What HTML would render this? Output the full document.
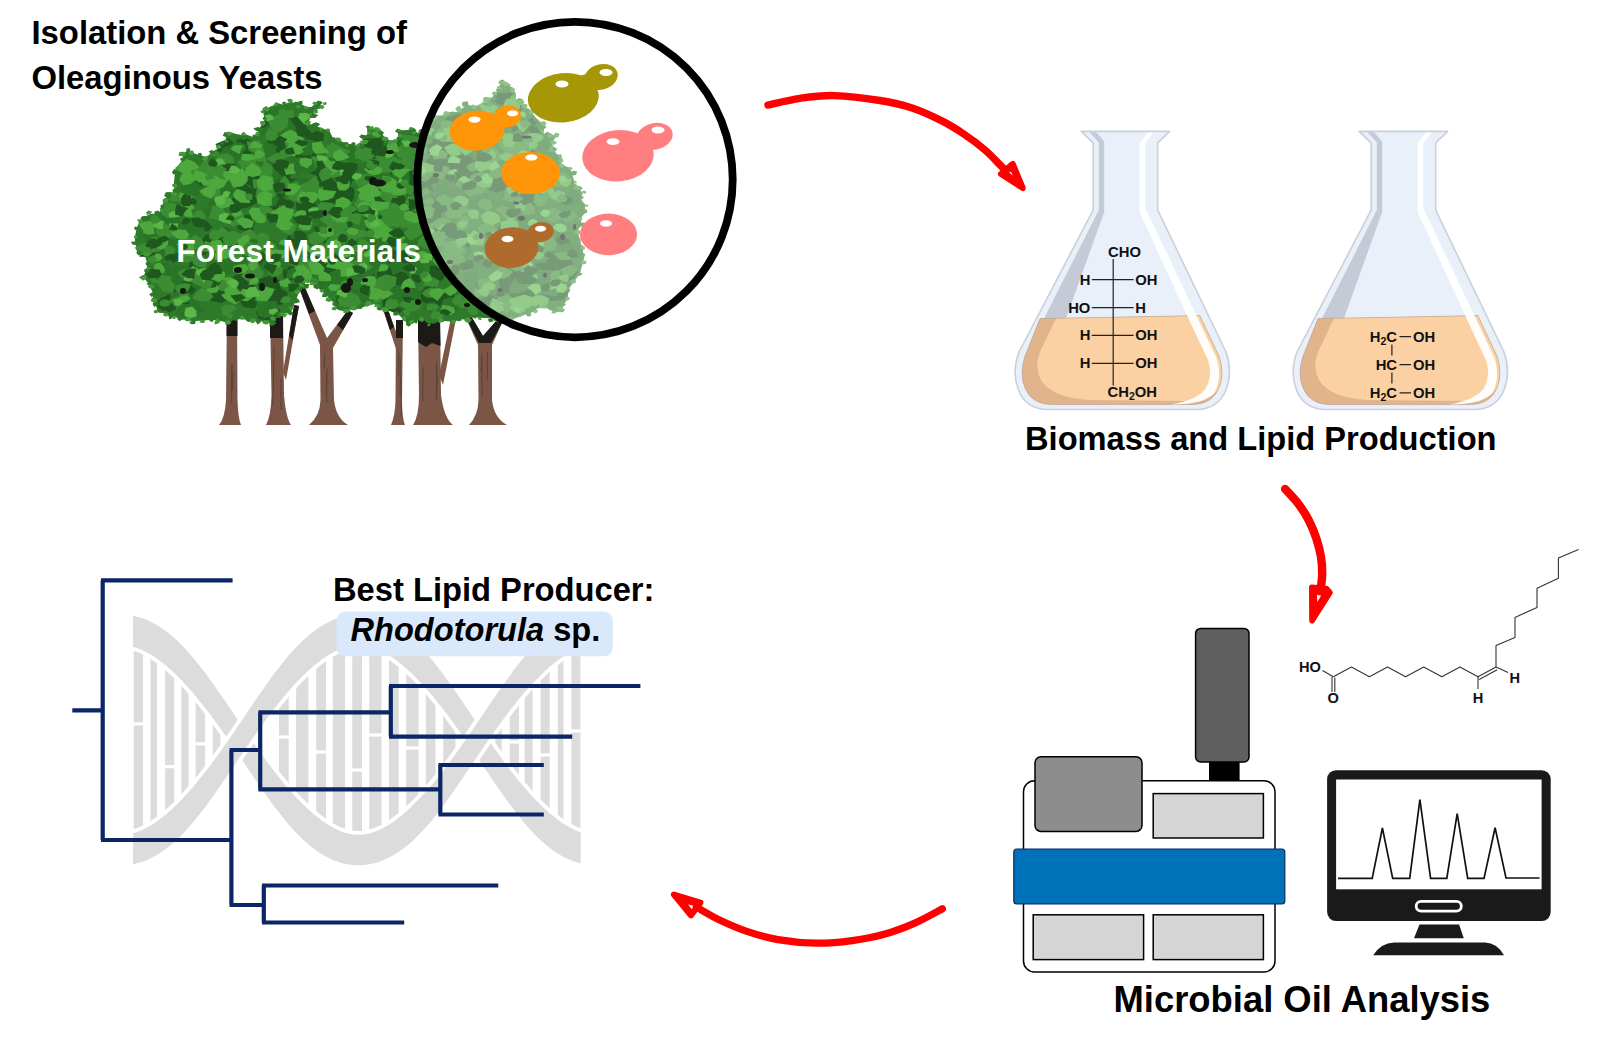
<!DOCTYPE html>
<html><head><meta charset="utf-8"><title>Graphical abstract</title>
<style>html,body{margin:0;padding:0;background:#fff}svg{display:block}</style></head>
<body>
<svg width="1602" height="1050" viewBox="0 0 1602 1050" font-family="'Liberation Sans', Arial, sans-serif">
<rect width="1602" height="1050" fill="#fff"/>
<clipPath id="dnaclip"><rect x="133" y="600" width="447.7" height="280"/></clipPath>
<g clip-path="url(#dnaclip)">
<g fill="#dcdcdc"><rect x="133.7" y="632.7" width="9.2" height="214.6"/><rect x="150.5" y="639.9" width="6.5" height="200.2"/><rect x="165.1" y="651.7" width="9.2" height="176.6"/><rect x="181.3" y="666.7" width="7.3" height="146.6"/><rect x="195.6" y="684.8" width="9.5" height="110.4"/><rect x="212.8" y="706.4" width="7.6" height="67.2"/><rect x="279" y="679.5" width="9.7" height="120.9"/><rect x="296.1" y="659.2" width="12.3" height="161.5"/><rect x="316.3" y="643.2" width="9.7" height="193.7"/><rect x="332.8" y="633.7" width="12.3" height="212.6"/><rect x="352.3" y="630" width="9.7" height="220"/><rect x="369.2" y="632.7" width="12.3" height="214.5"/><rect x="389" y="641.9" width="9.7" height="196.2"/><rect x="406.2" y="656.9" width="12.3" height="166.2"/><rect x="425.8" y="676.6" width="9.7" height="126.7"/><rect x="443.2" y="700.5" width="12.3" height="79"/><rect x="495.2" y="709.1" width="6.5" height="61.9"/><rect x="509.7" y="687.8" width="9.2" height="104.4"/><rect x="524.6" y="670.5" width="8" height="139"/><rect x="540.6" y="653.6" width="9.1" height="172.7"/><rect x="557.8" y="641.6" width="5.7" height="196.9"/><rect x="571.4" y="633.7" width="9.2" height="212.7"/></g>
<g fill="#fff"><rect x="133.2" y="722.2" width="10.2" height="3.2"/><rect x="164.6" y="765.1" width="10.2" height="3.2"/><rect x="195.1" y="742.2" width="10.5" height="3.2"/><rect x="278.5" y="735.4" width="10.7" height="3.2"/><rect x="315.8" y="750.4" width="10.7" height="3.2"/><rect x="351.8" y="768.4" width="10.7" height="3.2"/><rect x="368.8" y="733.4" width="13.3" height="3.2"/><rect x="405.8" y="746.4" width="13.3" height="3.2"/><rect x="509.2" y="740.4" width="10.2" height="3.2"/><rect x="540.1" y="753.4" width="10.1" height="3.2"/><rect x="570.9" y="729.4" width="10.2" height="3.2"/></g>
<path d="M120.9,614.8 L124.7,614.8 L128.6,615.2 L132.5,615.7 L136.3,616.5 L140,617.5 L143.8,618.8 L147.4,620.2 L151,621.9 L154.5,623.7 L158,625.7 L161.4,627.9 L164.8,630.2 L168.1,632.7 L171.3,635.4 L174.5,638.1 L177.6,641 L180.7,644.1 L183.8,647.2 L186.9,650.5 L189.9,653.9 L192.9,657.4 L195.9,661 L198.8,664.7 L201.8,668.4 L204.7,672.3 L207.6,676.2 L210.5,680.2 L213.5,684.3 L216.4,688.4 L219.3,692.6 L222.2,696.9 L225.1,701.1 L228.1,705.4 L231,709.8 L234,714.2 L236.9,718.5 L239.9,722.9 L242.8,727.3 L245.8,731.7 L248.8,736.1 L251.8,740.4 L254.9,744.8 L257.9,749.1 L260.9,753.3 L264,757.6 L267,761.7 L270.1,765.8 L273.2,769.9 L276.3,773.8 L279.3,777.7 L282.4,781.5 L285.5,785.2 L288.6,788.8 L291.7,792.3 L294.7,795.7 L297.8,799 L300.8,802.1 L303.9,805.1 L306.9,808 L309.9,810.8 L312.8,813.4 L315.8,815.8 L318.7,818.1 L321.5,820.3 L324.4,822.3 L327.1,824.1 L329.9,825.8 L332.5,827.3 L335.1,828.7 L337.7,829.9 L340.2,831 L342.6,831.9 L345,832.7 L347.3,833.3 L349.5,833.8 L351.7,834.2 L353.9,834.5 L356,834.7 L358.1,834.7 L360.3,834.7 L362.4,834.6 L364.5,834.3 L366.7,834 L369,833.5 L371.2,832.9 L373.6,832.1 L376,831.3 L378.5,830.3 L381,829.1 L383.6,827.8 L386.2,826.3 L388.9,824.7 L391.7,822.9 L394.5,820.9 L397.4,818.8 L400.3,816.6 L403.2,814.2 L406.1,811.6 L409.1,808.9 L412.1,806.1 L415.1,803.1 L418.2,800 L421.2,796.8 L424.3,793.4 L427.4,790 L430.5,786.4 L433.5,782.7 L436.6,779 L439.7,775.1 L442.8,771.2 L445.9,767.2 L448.9,763.1 L452,758.9 L455,754.7 L458.1,750.5 L461.1,746.2 L464.2,741.9 L467.2,737.5 L470.2,733.2 L473.2,728.8 L476.1,724.4 L479.1,720 L482.1,715.6 L485,711.2 L488,706.9 L490.9,702.6 L493.8,698.3 L496.7,694 L499.7,689.8 L502.6,685.7 L505.5,681.6 L508.4,677.5 L511.3,673.6 L514.3,669.7 L517.2,665.9 L520.2,662.2 L523.1,658.6 L526.1,655 L529.1,651.6 L532.2,648.3 L535.2,645.1 L538.3,642 L541.5,639.1 L544.6,636.3 L547.9,633.6 L551.1,631 L554.5,628.6 L557.9,626.4 L561.3,624.3 L564.8,622.5 L568.4,620.7 L572,619.2 L575.7,617.9 L579.5,616.8 L583.3,616 L587.1,615.3 L591,614.9 L591.9,614.9 L593.5,645.3 L593,645.3 L590.9,645.5 L588.7,645.8 L586.5,646.2 L584.3,646.7 L582,647.3 L579.6,648.1 L577.2,649 L574.7,650.1 L572.1,651.3 L569.5,652.7 L566.9,654.2 L564.1,655.9 L561.4,657.7 L558.5,659.7 L555.7,661.9 L552.8,664.2 L549.8,666.6 L546.9,669.2 L543.9,672 L540.9,674.9 L537.8,677.9 L534.8,681 L531.7,684.3 L528.7,687.7 L525.6,691.2 L522.5,694.8 L519.4,698.5 L516.3,702.3 L513.3,706.2 L510.2,710.1 L507.1,714.2 L504,718.3 L501,722.4 L497.9,726.7 L494.9,730.9 L491.9,735.2 L488.8,739.6 L485.8,743.9 L482.8,748.3 L479.8,752.7 L476.9,757.1 L473.9,761.5 L471,765.8 L468,770.2 L465.1,774.6 L462.1,778.9 L459.2,783.1 L456.3,787.4 L453.4,791.6 L450.5,795.7 L447.5,799.8 L444.6,803.8 L441.7,807.7 L438.8,811.6 L435.8,815.3 L432.9,819 L429.9,822.6 L426.9,826.1 L423.9,829.5 L420.8,832.8 L417.7,835.9 L414.6,839 L411.5,841.9 L408.3,844.6 L405.1,847.3 L401.8,849.8 L398.4,852.1 L395,854.3 L391.5,856.3 L388,858.1 L384.4,859.8 L380.8,861.2 L377,862.5 L373.3,863.5 L369.5,864.3 L365.6,864.8 L361.7,865.2 L357.9,865.2 L354,865.1 L350.1,864.7 L346.3,864 L342.5,863.2 L338.7,862.1 L335,860.8 L331.4,859.3 L327.8,857.5 L324.3,855.7 L320.9,853.6 L317.5,851.4 L314.1,849 L310.9,846.4 L307.6,843.7 L304.5,840.9 L301.3,838 L298.2,834.9 L295.2,831.7 L292.1,828.4 L289.1,825 L286.1,821.4 L283.2,817.8 L280.2,814.1 L277.3,810.3 L274.3,806.4 L271.4,802.5 L268.5,798.4 L265.6,794.3 L262.7,790.2 L259.7,786 L256.8,781.7 L253.9,777.4 L251,773.1 L248,768.8 L245.1,764.4 L242.1,760 L239.1,755.6 L236.2,751.2 L233.2,746.8 L230.2,742.5 L227.2,738.1 L224.1,733.8 L221.1,729.5 L218,725.3 L215,721.1 L211.9,716.9 L208.9,712.8 L205.8,708.8 L202.7,704.9 L199.6,701 L196.5,697.3 L193.5,693.6 L190.4,690 L187.3,686.6 L184.2,683.2 L181.2,680 L178.1,676.9 L175.1,673.9 L172.1,671.1 L169.1,668.4 L166.2,665.8 L163.3,663.4 L160.4,661.2 L157.5,659.1 L154.7,657.1 L151.9,655.3 L149.2,653.7 L146.6,652.2 L144,650.9 L141.5,649.7 L139,648.7 L136.6,647.9 L134.2,647.1 L132,646.5 L129.7,646 L127.5,645.7 L125.4,645.4 L123.3,645.3 L121.1,645.3Z" fill="#fff" stroke="#fff" stroke-width="7.6" stroke-linejoin="round"/><path d="M120.9,614.8 L124.7,614.8 L128.6,615.2 L132.5,615.7 L136.3,616.5 L140,617.5 L143.8,618.8 L147.4,620.2 L151,621.9 L154.5,623.7 L158,625.7 L161.4,627.9 L164.8,630.2 L168.1,632.7 L171.3,635.4 L174.5,638.1 L177.6,641 L180.7,644.1 L183.8,647.2 L186.9,650.5 L189.9,653.9 L192.9,657.4 L195.9,661 L198.8,664.7 L201.8,668.4 L204.7,672.3 L207.6,676.2 L210.5,680.2 L213.5,684.3 L216.4,688.4 L219.3,692.6 L222.2,696.9 L225.1,701.1 L228.1,705.4 L231,709.8 L234,714.2 L236.9,718.5 L239.9,722.9 L242.8,727.3 L245.8,731.7 L248.8,736.1 L251.8,740.4 L254.9,744.8 L257.9,749.1 L260.9,753.3 L264,757.6 L267,761.7 L270.1,765.8 L273.2,769.9 L276.3,773.8 L279.3,777.7 L282.4,781.5 L285.5,785.2 L288.6,788.8 L291.7,792.3 L294.7,795.7 L297.8,799 L300.8,802.1 L303.9,805.1 L306.9,808 L309.9,810.8 L312.8,813.4 L315.8,815.8 L318.7,818.1 L321.5,820.3 L324.4,822.3 L327.1,824.1 L329.9,825.8 L332.5,827.3 L335.1,828.7 L337.7,829.9 L340.2,831 L342.6,831.9 L345,832.7 L347.3,833.3 L349.5,833.8 L351.7,834.2 L353.9,834.5 L356,834.7 L358.1,834.7 L360.3,834.7 L362.4,834.6 L364.5,834.3 L366.7,834 L369,833.5 L371.2,832.9 L373.6,832.1 L376,831.3 L378.5,830.3 L381,829.1 L383.6,827.8 L386.2,826.3 L388.9,824.7 L391.7,822.9 L394.5,820.9 L397.4,818.8 L400.3,816.6 L403.2,814.2 L406.1,811.6 L409.1,808.9 L412.1,806.1 L415.1,803.1 L418.2,800 L421.2,796.8 L424.3,793.4 L427.4,790 L430.5,786.4 L433.5,782.7 L436.6,779 L439.7,775.1 L442.8,771.2 L445.9,767.2 L448.9,763.1 L452,758.9 L455,754.7 L458.1,750.5 L461.1,746.2 L464.2,741.9 L467.2,737.5 L470.2,733.2 L473.2,728.8 L476.1,724.4 L479.1,720 L482.1,715.6 L485,711.2 L488,706.9 L490.9,702.6 L493.8,698.3 L496.7,694 L499.7,689.8 L502.6,685.7 L505.5,681.6 L508.4,677.5 L511.3,673.6 L514.3,669.7 L517.2,665.9 L520.2,662.2 L523.1,658.6 L526.1,655 L529.1,651.6 L532.2,648.3 L535.2,645.1 L538.3,642 L541.5,639.1 L544.6,636.3 L547.9,633.6 L551.1,631 L554.5,628.6 L557.9,626.4 L561.3,624.3 L564.8,622.5 L568.4,620.7 L572,619.2 L575.7,617.9 L579.5,616.8 L583.3,616 L587.1,615.3 L591,614.9 L591.9,614.9 L593.5,645.3 L593,645.3 L590.9,645.5 L588.7,645.8 L586.5,646.2 L584.3,646.7 L582,647.3 L579.6,648.1 L577.2,649 L574.7,650.1 L572.1,651.3 L569.5,652.7 L566.9,654.2 L564.1,655.9 L561.4,657.7 L558.5,659.7 L555.7,661.9 L552.8,664.2 L549.8,666.6 L546.9,669.2 L543.9,672 L540.9,674.9 L537.8,677.9 L534.8,681 L531.7,684.3 L528.7,687.7 L525.6,691.2 L522.5,694.8 L519.4,698.5 L516.3,702.3 L513.3,706.2 L510.2,710.1 L507.1,714.2 L504,718.3 L501,722.4 L497.9,726.7 L494.9,730.9 L491.9,735.2 L488.8,739.6 L485.8,743.9 L482.8,748.3 L479.8,752.7 L476.9,757.1 L473.9,761.5 L471,765.8 L468,770.2 L465.1,774.6 L462.1,778.9 L459.2,783.1 L456.3,787.4 L453.4,791.6 L450.5,795.7 L447.5,799.8 L444.6,803.8 L441.7,807.7 L438.8,811.6 L435.8,815.3 L432.9,819 L429.9,822.6 L426.9,826.1 L423.9,829.5 L420.8,832.8 L417.7,835.9 L414.6,839 L411.5,841.9 L408.3,844.6 L405.1,847.3 L401.8,849.8 L398.4,852.1 L395,854.3 L391.5,856.3 L388,858.1 L384.4,859.8 L380.8,861.2 L377,862.5 L373.3,863.5 L369.5,864.3 L365.6,864.8 L361.7,865.2 L357.9,865.2 L354,865.1 L350.1,864.7 L346.3,864 L342.5,863.2 L338.7,862.1 L335,860.8 L331.4,859.3 L327.8,857.5 L324.3,855.7 L320.9,853.6 L317.5,851.4 L314.1,849 L310.9,846.4 L307.6,843.7 L304.5,840.9 L301.3,838 L298.2,834.9 L295.2,831.7 L292.1,828.4 L289.1,825 L286.1,821.4 L283.2,817.8 L280.2,814.1 L277.3,810.3 L274.3,806.4 L271.4,802.5 L268.5,798.4 L265.6,794.3 L262.7,790.2 L259.7,786 L256.8,781.7 L253.9,777.4 L251,773.1 L248,768.8 L245.1,764.4 L242.1,760 L239.1,755.6 L236.2,751.2 L233.2,746.8 L230.2,742.5 L227.2,738.1 L224.1,733.8 L221.1,729.5 L218,725.3 L215,721.1 L211.9,716.9 L208.9,712.8 L205.8,708.8 L202.7,704.9 L199.6,701 L196.5,697.3 L193.5,693.6 L190.4,690 L187.3,686.6 L184.2,683.2 L181.2,680 L178.1,676.9 L175.1,673.9 L172.1,671.1 L169.1,668.4 L166.2,665.8 L163.3,663.4 L160.4,661.2 L157.5,659.1 L154.7,657.1 L151.9,655.3 L149.2,653.7 L146.6,652.2 L144,650.9 L141.5,649.7 L139,648.7 L136.6,647.9 L134.2,647.1 L132,646.5 L129.7,646 L127.5,645.7 L125.4,645.4 L123.3,645.3 L121.1,645.3Z" fill="#dcdcdc"/>
<path d="M121.1,834.7 L123.3,834.7 L125.4,834.6 L127.5,834.3 L129.7,834 L132,833.5 L134.2,832.9 L136.6,832.1 L139,831.3 L141.5,830.3 L144,829.1 L146.6,827.8 L149.2,826.3 L151.9,824.7 L154.7,822.9 L157.5,820.9 L160.4,818.8 L163.3,816.6 L166.2,814.2 L169.1,811.6 L172.1,808.9 L175.1,806.1 L178.1,803.1 L181.2,800 L184.2,796.8 L187.3,793.4 L190.4,790 L193.5,786.4 L196.5,782.7 L199.6,779 L202.7,775.1 L205.8,771.2 L208.9,767.2 L211.9,763.1 L215,758.9 L218,754.7 L221.1,750.5 L224.1,746.2 L227.2,741.9 L230.2,737.5 L233.2,733.2 L236.2,728.8 L239.1,724.4 L242.1,720 L245.1,715.6 L248,711.2 L251,706.9 L253.9,702.6 L256.8,698.3 L259.7,694 L262.7,689.8 L265.6,685.7 L268.5,681.6 L271.4,677.5 L274.3,673.6 L277.3,669.7 L280.2,665.9 L283.2,662.2 L286.1,658.6 L289.1,655 L292.1,651.6 L295.2,648.3 L298.2,645.1 L301.3,642 L304.5,639.1 L307.6,636.3 L310.9,633.6 L314.1,631 L317.5,628.6 L320.9,626.4 L324.3,624.3 L327.8,622.5 L331.4,620.7 L335,619.2 L338.7,617.9 L342.5,616.8 L346.3,616 L350.1,615.3 L354,614.9 L357.9,614.8 L361.7,614.8 L365.6,615.2 L369.5,615.7 L373.3,616.5 L377,617.5 L380.8,618.8 L384.4,620.2 L388,621.9 L391.5,623.7 L395,625.7 L398.4,627.9 L401.8,630.2 L405.1,632.7 L408.3,635.4 L411.5,638.1 L414.6,641 L417.7,644.1 L420.8,647.2 L423.9,650.5 L426.9,653.9 L429.9,657.4 L432.9,661 L435.8,664.7 L438.8,668.4 L441.7,672.3 L444.6,676.2 L447.5,680.2 L450.5,684.3 L453.4,688.4 L456.3,692.6 L459.2,696.9 L462.1,701.1 L465.1,705.4 L468,709.8 L471,714.2 L473.9,718.5 L476.9,722.9 L479.8,727.3 L482.8,731.7 L485.8,736.1 L488.8,740.4 L491.9,744.8 L494.9,749.1 L497.9,753.3 L501,757.6 L504,761.7 L507.1,765.8 L510.2,769.9 L513.3,773.8 L516.3,777.7 L519.4,781.5 L522.5,785.2 L525.6,788.8 L528.7,792.3 L531.7,795.7 L534.8,799 L537.8,802.1 L540.9,805.1 L543.9,808 L546.9,810.8 L549.8,813.4 L552.8,815.8 L555.7,818.1 L558.5,820.3 L561.4,822.3 L564.1,824.1 L566.9,825.8 L569.5,827.3 L572.1,828.7 L574.7,829.9 L577.2,831 L579.6,831.9 L582,832.7 L584.3,833.3 L586.5,833.8 L588.7,834.2 L590.9,834.5 L593,834.7 L593.5,834.7 L591.9,865.1 L591,865.1 L587.1,864.7 L583.3,864 L579.5,863.2 L575.7,862.1 L572,860.8 L568.4,859.3 L564.8,857.5 L561.3,855.7 L557.9,853.6 L554.5,851.4 L551.1,849 L547.9,846.4 L544.6,843.7 L541.5,840.9 L538.3,838 L535.2,834.9 L532.2,831.7 L529.1,828.4 L526.1,825 L523.1,821.4 L520.2,817.8 L517.2,814.1 L514.3,810.3 L511.3,806.4 L508.4,802.5 L505.5,798.4 L502.6,794.3 L499.7,790.2 L496.7,786 L493.8,781.7 L490.9,777.4 L488,773.1 L485,768.8 L482.1,764.4 L479.1,760 L476.1,755.6 L473.2,751.2 L470.2,746.8 L467.2,742.5 L464.2,738.1 L461.1,733.8 L458.1,729.5 L455,725.3 L452,721.1 L448.9,716.9 L445.9,712.8 L442.8,708.8 L439.7,704.9 L436.6,701 L433.5,697.3 L430.5,693.6 L427.4,690 L424.3,686.6 L421.2,683.2 L418.2,680 L415.1,676.9 L412.1,673.9 L409.1,671.1 L406.1,668.4 L403.2,665.8 L400.3,663.4 L397.4,661.2 L394.5,659.1 L391.7,657.1 L388.9,655.3 L386.2,653.7 L383.6,652.2 L381,650.9 L378.5,649.7 L376,648.7 L373.6,647.9 L371.2,647.1 L369,646.5 L366.7,646 L364.5,645.7 L362.4,645.4 L360.3,645.3 L358.1,645.3 L356,645.3 L353.9,645.5 L351.7,645.8 L349.5,646.2 L347.3,646.7 L345,647.3 L342.6,648.1 L340.2,649 L337.7,650.1 L335.1,651.3 L332.5,652.7 L329.9,654.2 L327.1,655.9 L324.4,657.7 L321.5,659.7 L318.7,661.9 L315.8,664.2 L312.8,666.6 L309.9,669.2 L306.9,672 L303.9,674.9 L300.8,677.9 L297.8,681 L294.7,684.3 L291.7,687.7 L288.6,691.2 L285.5,694.8 L282.4,698.5 L279.3,702.3 L276.3,706.2 L273.2,710.1 L270.1,714.2 L267,718.3 L264,722.4 L260.9,726.7 L257.9,730.9 L254.9,735.2 L251.8,739.6 L248.8,743.9 L245.8,748.3 L242.8,752.7 L239.9,757.1 L236.9,761.5 L234,765.8 L231,770.2 L228.1,774.6 L225.1,778.9 L222.2,783.1 L219.3,787.4 L216.4,791.6 L213.5,795.7 L210.5,799.8 L207.6,803.8 L204.7,807.7 L201.8,811.6 L198.8,815.3 L195.9,819 L192.9,822.6 L189.9,826.1 L186.9,829.5 L183.8,832.8 L180.7,835.9 L177.6,839 L174.5,841.9 L171.3,844.6 L168.1,847.3 L164.8,849.8 L161.4,852.1 L158,854.3 L154.5,856.3 L151,858.1 L147.4,859.8 L143.8,861.2 L140,862.5 L136.3,863.5 L132.5,864.3 L128.6,864.8 L124.7,865.2 L120.9,865.2Z" fill="#fff" stroke="#fff" stroke-width="7.6" stroke-linejoin="round"/><path d="M121.1,834.7 L123.3,834.7 L125.4,834.6 L127.5,834.3 L129.7,834 L132,833.5 L134.2,832.9 L136.6,832.1 L139,831.3 L141.5,830.3 L144,829.1 L146.6,827.8 L149.2,826.3 L151.9,824.7 L154.7,822.9 L157.5,820.9 L160.4,818.8 L163.3,816.6 L166.2,814.2 L169.1,811.6 L172.1,808.9 L175.1,806.1 L178.1,803.1 L181.2,800 L184.2,796.8 L187.3,793.4 L190.4,790 L193.5,786.4 L196.5,782.7 L199.6,779 L202.7,775.1 L205.8,771.2 L208.9,767.2 L211.9,763.1 L215,758.9 L218,754.7 L221.1,750.5 L224.1,746.2 L227.2,741.9 L230.2,737.5 L233.2,733.2 L236.2,728.8 L239.1,724.4 L242.1,720 L245.1,715.6 L248,711.2 L251,706.9 L253.9,702.6 L256.8,698.3 L259.7,694 L262.7,689.8 L265.6,685.7 L268.5,681.6 L271.4,677.5 L274.3,673.6 L277.3,669.7 L280.2,665.9 L283.2,662.2 L286.1,658.6 L289.1,655 L292.1,651.6 L295.2,648.3 L298.2,645.1 L301.3,642 L304.5,639.1 L307.6,636.3 L310.9,633.6 L314.1,631 L317.5,628.6 L320.9,626.4 L324.3,624.3 L327.8,622.5 L331.4,620.7 L335,619.2 L338.7,617.9 L342.5,616.8 L346.3,616 L350.1,615.3 L354,614.9 L357.9,614.8 L361.7,614.8 L365.6,615.2 L369.5,615.7 L373.3,616.5 L377,617.5 L380.8,618.8 L384.4,620.2 L388,621.9 L391.5,623.7 L395,625.7 L398.4,627.9 L401.8,630.2 L405.1,632.7 L408.3,635.4 L411.5,638.1 L414.6,641 L417.7,644.1 L420.8,647.2 L423.9,650.5 L426.9,653.9 L429.9,657.4 L432.9,661 L435.8,664.7 L438.8,668.4 L441.7,672.3 L444.6,676.2 L447.5,680.2 L450.5,684.3 L453.4,688.4 L456.3,692.6 L459.2,696.9 L462.1,701.1 L465.1,705.4 L468,709.8 L471,714.2 L473.9,718.5 L476.9,722.9 L479.8,727.3 L482.8,731.7 L485.8,736.1 L488.8,740.4 L491.9,744.8 L494.9,749.1 L497.9,753.3 L501,757.6 L504,761.7 L507.1,765.8 L510.2,769.9 L513.3,773.8 L516.3,777.7 L519.4,781.5 L522.5,785.2 L525.6,788.8 L528.7,792.3 L531.7,795.7 L534.8,799 L537.8,802.1 L540.9,805.1 L543.9,808 L546.9,810.8 L549.8,813.4 L552.8,815.8 L555.7,818.1 L558.5,820.3 L561.4,822.3 L564.1,824.1 L566.9,825.8 L569.5,827.3 L572.1,828.7 L574.7,829.9 L577.2,831 L579.6,831.9 L582,832.7 L584.3,833.3 L586.5,833.8 L588.7,834.2 L590.9,834.5 L593,834.7 L593.5,834.7 L591.9,865.1 L591,865.1 L587.1,864.7 L583.3,864 L579.5,863.2 L575.7,862.1 L572,860.8 L568.4,859.3 L564.8,857.5 L561.3,855.7 L557.9,853.6 L554.5,851.4 L551.1,849 L547.9,846.4 L544.6,843.7 L541.5,840.9 L538.3,838 L535.2,834.9 L532.2,831.7 L529.1,828.4 L526.1,825 L523.1,821.4 L520.2,817.8 L517.2,814.1 L514.3,810.3 L511.3,806.4 L508.4,802.5 L505.5,798.4 L502.6,794.3 L499.7,790.2 L496.7,786 L493.8,781.7 L490.9,777.4 L488,773.1 L485,768.8 L482.1,764.4 L479.1,760 L476.1,755.6 L473.2,751.2 L470.2,746.8 L467.2,742.5 L464.2,738.1 L461.1,733.8 L458.1,729.5 L455,725.3 L452,721.1 L448.9,716.9 L445.9,712.8 L442.8,708.8 L439.7,704.9 L436.6,701 L433.5,697.3 L430.5,693.6 L427.4,690 L424.3,686.6 L421.2,683.2 L418.2,680 L415.1,676.9 L412.1,673.9 L409.1,671.1 L406.1,668.4 L403.2,665.8 L400.3,663.4 L397.4,661.2 L394.5,659.1 L391.7,657.1 L388.9,655.3 L386.2,653.7 L383.6,652.2 L381,650.9 L378.5,649.7 L376,648.7 L373.6,647.9 L371.2,647.1 L369,646.5 L366.7,646 L364.5,645.7 L362.4,645.4 L360.3,645.3 L358.1,645.3 L356,645.3 L353.9,645.5 L351.7,645.8 L349.5,646.2 L347.3,646.7 L345,647.3 L342.6,648.1 L340.2,649 L337.7,650.1 L335.1,651.3 L332.5,652.7 L329.9,654.2 L327.1,655.9 L324.4,657.7 L321.5,659.7 L318.7,661.9 L315.8,664.2 L312.8,666.6 L309.9,669.2 L306.9,672 L303.9,674.9 L300.8,677.9 L297.8,681 L294.7,684.3 L291.7,687.7 L288.6,691.2 L285.5,694.8 L282.4,698.5 L279.3,702.3 L276.3,706.2 L273.2,710.1 L270.1,714.2 L267,718.3 L264,722.4 L260.9,726.7 L257.9,730.9 L254.9,735.2 L251.8,739.6 L248.8,743.9 L245.8,748.3 L242.8,752.7 L239.9,757.1 L236.9,761.5 L234,765.8 L231,770.2 L228.1,774.6 L225.1,778.9 L222.2,783.1 L219.3,787.4 L216.4,791.6 L213.5,795.7 L210.5,799.8 L207.6,803.8 L204.7,807.7 L201.8,811.6 L198.8,815.3 L195.9,819 L192.9,822.6 L189.9,826.1 L186.9,829.5 L183.8,832.8 L180.7,835.9 L177.6,839 L174.5,841.9 L171.3,844.6 L168.1,847.3 L164.8,849.8 L161.4,852.1 L158,854.3 L154.5,856.3 L151,858.1 L147.4,859.8 L143.8,861.2 L140,862.5 L136.3,863.5 L132.5,864.3 L128.6,864.8 L124.7,865.2 L120.9,865.2Z" fill="#dcdcdc"/>
<path d="M426.4,791.1 L429.4,787.6 L432.5,784 L435.6,780.2 L438.7,776.4 L441.8,772.5 L444.8,768.5 L447.9,764.5 L451,760.3 L454,756.2 L457.1,751.9 L460.1,747.6 L463.1,743.3 L466.2,739 L469.2,734.6 L472.2,730.2 L475.1,725.9 L478.1,721.5 L481.1,717.1 L484,712.7 L487,708.3 L489.9,704 L492.8,699.7 L495.8,695.4 L498.7,691.2 L501.6,687 L504.5,682.9 L507.4,678.9 L510.4,674.9 L527.6,688.9 L524.6,692.4 L521.5,696 L518.4,699.8 L515.3,703.6 L512.2,707.5 L509.2,711.5 L506.1,715.5 L503,719.7 L500,723.8 L496.9,728.1 L493.9,732.4 L490.9,736.7 L487.8,741 L484.8,745.4 L481.8,749.8 L478.9,754.1 L475.9,758.5 L472.9,762.9 L470,767.3 L467,771.7 L464.1,776 L461.2,780.3 L458.2,784.6 L455.3,788.8 L452.4,793 L449.5,797.1 L446.6,801.1 L443.6,805.1Z" fill="#fff" stroke="#fff" stroke-width="7.6" stroke-linejoin="round"/><path d="M410.1,808 L413.1,805.1 L416.2,802.1 L419.2,799 L422.3,795.7 L425.3,792.3 L428.4,788.8 L431.5,785.2 L434.6,781.5 L437.7,777.7 L440.7,773.8 L443.8,769.9 L446.9,765.8 L450,761.7 L453,757.6 L456.1,753.3 L459.1,749.1 L462.1,744.8 L465.2,740.4 L468.2,736.1 L471.2,731.7 L474.2,727.3 L477.1,722.9 L480.1,718.5 L483,714.2 L486,709.8 L488.9,705.4 L491.9,701.1 L494.8,696.9 L497.7,692.6 L500.6,688.4 L503.5,684.3 L506.5,680.2 L509.4,676.2 L512.3,672.3 L515.2,668.4 L518.2,664.7 L521.1,661 L524.1,657.4 L526.1,655 L543.9,672 L541.9,673.9 L538.9,676.9 L535.8,680 L532.8,683.2 L529.7,686.6 L526.6,690 L523.5,693.6 L520.5,697.3 L517.4,701 L514.3,704.9 L511.2,708.8 L508.1,712.8 L505.1,716.9 L502,721.1 L499,725.3 L495.9,729.5 L492.9,733.8 L489.8,738.1 L486.8,742.5 L483.8,746.8 L480.8,751.2 L477.9,755.6 L474.9,760 L471.9,764.4 L469,768.8 L466,773.1 L463.1,777.4 L460.2,781.7 L457.3,786 L454.3,790.2 L451.4,794.3 L448.5,798.4 L445.6,802.5 L442.7,806.4 L439.7,810.3 L436.8,814.1 L433.8,817.8 L430.9,821.4 L427.9,825Z" fill="#dcdcdc"/>
</g>
<g id="forest">
<g id="trunks">
<path d="M227,310 L237,310 L237.5,400 Q238,418 241,425 L219,425 Q225,418 226,400 Z" fill="#7b5647"/>
<rect x="226.5" y="310" width="11" height="26" fill="#1c1a17"/>
<path d="M270,310 L283,310 L284,395 Q286,418 291,425 L266,425 Q271,416 271.5,395 Z" fill="#7b5647"/>
<path d="M283,372 L294,305 L299,306 L286,380 Z" fill="#7b5647"/>
<rect x="270" y="310" width="13" height="28" fill="#1c1a17"/>
<path d="M289,336 L294,305 L299,306 L292.5,340 Z" fill="#1c1a17"/>
<path d="M320,345 L298,285 L303,283 L327,338 L348,310 L353,313 L333,348 L334,400 Q336,418 348,425 L309,425 Q320,416 320.5,400 Z" fill="#7b5647"/>
<path d="M298,285 L303,283 L315,311 L309,314 Z M348,310 L353,313 L343,330 L337,325 Z" fill="#1c1a17"/>
<path d="M396,320 L403,320 L402,400 Q402,418 405,425 L391,425 Q395,416 395.5,400 Z" fill="#7b5647"/>
<path d="M397,352 L381,303 L385,301 L399,340 Z" fill="#7b5647"/>
<path d="M381,303 L385,301 L394,327 L390,330 Z" fill="#1c1a17"/><rect x="396" y="320" width="7" height="18" fill="#1c1a17"/>
<path d="M418,318 L440,318 L441,395 Q444,418 453,425 L413,425 Q419,416 419,395 Z" fill="#7b5647"/>
<path d="M439,375 L451,318 L456,319 L443,385 Z" fill="#7b5647"/>
<path d="M418,316 L440,316 L440.5,346 L432,343 L426,347 L418,342 Z" fill="#1c1a17"/>
<path d="M478,345 L466,318 L471,316 L483,336 L497,320 L502,323 L492,345 L492,400 Q494,418 507,425 L469,425 Q478,416 478.5,400 Z" fill="#7b5647"/>
<path d="M466,318 L471,316 L483,336 L497,320 L502,323 L491,343 L479,343 Z" fill="#1c1a17"/>
<path d="M231.7,364.6 L231.6,402.7" stroke="#5d4036" stroke-width="1" fill="none"/>
<path d="M232,365.6 L232.1,385.2" stroke="#5d4036" stroke-width="1" fill="none"/>
<path d="M232.8,372.8 L232.4,390.1" stroke="#5d4036" stroke-width="1" fill="none"/>
<path d="M273.7,373.3 L272.8,405.7" stroke="#5d4036" stroke-width="1" fill="none"/>
<path d="M280.9,378.8 L281.1,410.1" stroke="#5d4036" stroke-width="1" fill="none"/>
<path d="M274.3,345.5 L273.4,373.7" stroke="#5d4036" stroke-width="1" fill="none"/>
<path d="M324.5,353.5 L324.4,369.2" stroke="#5d4036" stroke-width="1" fill="none"/>
<path d="M326.5,374.5 L326.8,402.5" stroke="#5d4036" stroke-width="1" fill="none"/>
<path d="M327,368.2 L326.6,394.6" stroke="#5d4036" stroke-width="1" fill="none"/>
<path d="M401,379.8 L401.4,415.9" stroke="#5d4036" stroke-width="1" fill="none"/>
<path d="M398.9,353 L398.1,375.3" stroke="#5d4036" stroke-width="1" fill="none"/>
<path d="M400.3,359 L400.1,395.2" stroke="#5d4036" stroke-width="1" fill="none"/>
<path d="M437.3,374.7 L436.7,389.7" stroke="#5d4036" stroke-width="1" fill="none"/>
<path d="M436.6,361.4 L436.4,401" stroke="#5d4036" stroke-width="1" fill="none"/>
<path d="M423.2,367 L422.7,401.5" stroke="#5d4036" stroke-width="1" fill="none"/>
<path d="M481.7,356.6 L482.2,395.7" stroke="#5d4036" stroke-width="1" fill="none"/>
<path d="M481.9,353.6 L481.1,371.1" stroke="#5d4036" stroke-width="1" fill="none"/>
<path d="M487.4,351.2 L487.3,380.2" stroke="#5d4036" stroke-width="1" fill="none"/>
</g>
<g id="canopy">
<polygon points="135,243 135.1,236.5 136.5,228.4 140,220 143.7,217.3 149.9,214.2 157,213 162,210.2 161.4,206.3 165,200 166.9,196.1 173.4,194 175,190 173.7,184.8 174.9,173.5 177,167 182,160.5 183.3,153.5 188,150 192.3,152.7 199.4,155.2 207,157 211.7,152.1 220,147.6 223,143 225.7,141.2 226.1,133.9 230,132 239.7,135.3 244.1,133.8 253,137 257.5,134.5 258.1,129.9 263,123 265.6,119.2 263.9,112.4 265,110 266.7,110 271.7,106.4 277,103 282.5,104.6 290.8,102 297,103 298.7,105.4 301.5,104.3 307,107 311.6,107.1 316.2,102.6 320,102 323.1,102.2 319.6,104.2 323,107 319.4,107.5 314.7,111.7 313,115 311.4,115.8 308.3,122.3 307,123 316.1,126.1 321.3,128.1 327,130 329.5,131 333.3,138.7 340,140 345.3,144 346.3,144 353,145 356.9,145.2 360.1,145.5 365,142 363.5,137.2 367.5,134 367,127 371.9,128.4 375.8,129.7 378,128 380.3,132.9 386,137.9 387,140 389.9,142.1 395.5,141.7 397,142 398,137.4 398.1,134.5 398,130 399.9,130 408.5,130.6 410,128 413.5,129.1 415.8,131.7 417,133 420.6,132.6 422.7,130.1 428.7,126.7 429.9,123.6 435.7,118.2 439.3,116 447.2,114 453.7,114.1 460,110 467,105.1 475.5,106 484.7,102.7 486.7,97.9 493.8,97.2 495.3,93.3 497.2,91.5 498.9,86.6 502,82 501.8,82.8 506.2,86.3 506,85.3 510.6,88.3 511.7,91.5 514,96 514.4,97.7 520.2,101.3 520.7,101.3 524,106.2 524,105 527.3,109.3 532.4,113.1 536.5,118.7 543.3,124 544.4,127.5 543.3,132.8 544.7,134.7 550.6,134.9 549.6,133.2 555.3,136 555.4,136.8 552.8,142.6 550,145.3 552,150.3 553.6,150.6 559,156 559.2,157.2 561.5,161.8 560.3,166.7 561.7,164.7 567.4,167 570,167.5 572.1,174.2 574.5,181.7 574.5,185.3 578.1,186.5 579.7,189 582.5,193.3 580.9,199.5 585.2,204.4 585,212.4 581.4,217.8 581,224.9 577.5,231 580.4,240.6 581.6,249.1 584.5,256 583,262.5 579.7,274.2 574,281.6 568.6,289.2 567.6,299.2 563.5,305 560.1,307.8 559.7,311.5 555,312.5 551.9,310.5 545.1,307.4 539,307 534.1,311.6 527.7,314.1 521,316 513.8,318.7 511.9,319.7 503.8,318 501.7,320.1 498.4,321.4 497,320 490.8,318.2 478.9,317.7 473,317 466.6,320.3 459.6,318.6 453,323 447.9,320.8 441.2,321.4 433,323 427.8,323.4 422.5,319.2 420,320 415.7,322.1 413,322.9 407,323 402.6,318.6 395.9,312.3 387,310 380.9,307.8 376.6,306.5 373,303 367,305.4 361.4,308 353,310 347.7,309.4 346.1,312 340,310 335.2,308.4 335.7,303.5 330,300 326,294.2 321.5,291.3 317,287 314.2,282.3 312.7,282.4 307,280 304.2,284.8 302.6,286.6 300,290 298.6,293.5 295.5,300.9 293,307 291,312.5 283.2,313.5 280,317 273.8,318.7 272.9,323 267,323 260.2,321.1 252.1,321.6 247,320 242.5,319.1 235.1,319.6 227,323 219.8,320.6 216.6,320.1 210,320 201.6,320.6 192.7,321.2 187,320 179.4,319.1 174.4,316.5 170,317 165.8,314.4 160.7,311.9 157,310 155.8,302.6 152.9,299.3 153,293 150.4,287.8 148.1,282.9 143,277 146.1,271 146.9,269.2 147,263 145,255.4 138.1,251.8" fill="#2f7a2a"/>
<g fill="#1e581e"><polygon points="319,277.7 321.8,272.4 324.4,269.1 331.5,267.3 337.8,272.2 335.3,279.3 326.5,277.9"/><polygon points="361.8,260.1 368.5,261 372.5,264.7 370.3,269.2 364.6,274.2 356.2,270.6 354.1,263.5"/><polygon points="335.7,268.9 338.2,263 345.4,259.5 350,264.6 356.1,269.3 350.4,275.7 342,272.2"/><polygon points="344.1,266.5 336.2,267.7 335.2,261.7 332.1,254.1 342.8,251.8 351.5,256.4 353.9,264.3"/><polygon points="405.6,178.8 412.8,170.6 423.7,172.4 435.1,174.4 433.5,183.8 424.1,189.3 412.2,187.3"/><polygon points="439,274.1 443.2,266.1 447.2,260.3 457.3,260.1 458.8,267.1 459.2,273.7 450,278.4"/><polygon points="427.1,158.9 435.5,154.9 448.1,153 451.2,162.6 446.8,170.7 435.1,173.2 423.5,168.2"/><polygon points="254.2,183.4 248.9,181.8 245.5,178.9 244.4,172.9 252.6,172.3 258.5,175.2 261.9,181"/><polygon points="503.7,93.1 515.8,92 511.4,100.4 507.6,106.4 499.2,104.2 492.1,100.1 494.1,92.5"/><polygon points="372.2,234.6 365.3,229.9 367.2,223.8 372.1,218 379.9,221.6 380.9,226.5 379.6,231.1"/><polygon points="154.4,303.4 162.4,297.6 169.3,294 180,296.1 180,304.6 172.1,308.9 161.3,311"/><polygon points="500.9,223.7 507.3,223.1 511.2,225.7 514.6,229.9 508.6,232 502.4,232.9 497.3,228.7"/><polygon points="340.8,270.4 334.2,278.1 324.1,277 319,273.2 312.8,266.1 322.7,260.8 333.2,263.4"/><polygon points="286.6,142.7 294.9,136.9 306.9,137.8 307.5,146.2 304.8,152 295.5,158.7 284.4,152.1"/><polygon points="267.9,189.6 258.5,190 252.3,188 245.3,182.3 252.7,176.1 263.5,175.4 268.4,182.2"/><polygon points="481.2,290.6 473.2,292 465.8,289.5 467.9,284 471.2,280.2 477.2,281.2 483.8,284.4"/><polygon points="296.3,249.8 286.6,242.6 288.7,231.2 303.2,230.3 312.9,234.5 312.2,241.9 310.3,252.5"/><polygon points="356.6,243.2 362,245.2 365.5,250.9 357.4,252.5 351,252.9 344.5,248.5 348.2,241.9"/><polygon points="463.1,163.4 471.9,163.1 476.5,169.5 472.5,176 463.8,175.6 456.2,173.3 458.9,167.6"/><polygon points="288.1,172.8 291.3,180 284.7,186.2 274.1,186.1 267.3,179.9 269.9,172 279.6,170.1"/><polygon points="397.5,267.8 399.7,274.5 401.1,282.2 390.2,286 383.9,279.1 384.9,273.7 387.6,267.4"/><polygon points="372.6,208.6 385.1,212.4 395.8,214.9 397.4,225.1 384.2,225.9 376.4,224.3 366.2,218.4"/><polygon points="200.7,269.6 189.6,269.6 188.7,261 193.9,253.3 204.9,255.3 210.4,260.8 213.3,269.9"/><polygon points="438.6,191.5 450.5,192.7 451.2,201.3 449.1,209.3 437.7,210 428,205.1 428.9,196.1"/><polygon points="505.5,289.6 517.7,286 529.6,292 526.1,301.8 517.5,307.1 508.3,303.7 498,297.9"/><polygon points="234.1,183.2 234.1,188 227.8,189.1 219.5,188.8 216.9,181.9 225.1,179.2 230.9,180"/><polygon points="352.9,224.7 348.1,230 339.1,230.2 333.3,224.8 331.5,215.7 343.8,212.3 352,218.2"/><polygon points="484.1,148.9 488.4,154.7 491.2,162.9 480.1,167.4 472.2,161.1 468.4,154.7 472.7,146.3"/><polygon points="556.1,275 562.1,270.9 571.5,266.7 577,274 572.6,279.8 566.5,281 558.8,281.2"/><polygon points="266.9,142.5 271.5,132.1 284.9,135.9 294.2,140.1 289.6,147.3 283.4,155.4 275.8,147.9"/><polygon points="517.9,291.2 511.1,298.5 502.8,292.2 496.1,286.7 501.6,279.6 513.8,274.8 521.5,283.5"/><polygon points="510.6,160.7 517,152 520.4,143 530.6,148.3 538.2,153.7 533.9,161.5 523.7,161.3"/><polygon points="520.8,159.1 515.4,163.2 506.3,162.7 505,156.1 507,149.7 515.2,151.5 521.6,153.6"/><polygon points="451.3,139.5 445.6,131.3 457.5,127.8 464.6,133.9 470.1,139.9 462.5,144.4 454,145.2"/><polygon points="372,158.2 372.9,151.8 377.3,148 385.5,145.3 388.8,151.6 390.9,159.2 380.6,160.7"/><polygon points="472.1,165.1 465.2,167.9 453.7,168.9 449.4,159.8 459.3,155 468.5,152.9 479.8,157.4"/><polygon points="156.6,304.9 161,297.8 171.8,296.3 176.8,302.9 175.9,308.9 169.5,312.7 163.7,309.1"/><polygon points="321.1,240.1 331.1,246.8 325.1,254.4 319.7,260.4 309.5,258.5 301.8,251.2 311.5,245.7"/><polygon points="313,195.6 315.9,203.4 318.6,212.1 306.5,217.3 296.4,210.8 295.9,202.7 301.6,196.1"/><polygon points="183.3,253.6 189.9,243.7 202.9,247.2 217.1,250 212.6,260.8 200.8,262.7 192.9,259.9"/><polygon points="238.6,231.9 235.7,222.7 237.5,215.4 246.7,214.8 259.7,214 254.6,223 252.5,232.2"/><polygon points="380.9,228.4 369.3,223.8 369,214.1 378,208.9 386.3,212.3 396.1,216 389,222.2"/><polygon points="519.3,127.9 514.6,131.6 503.1,134.2 498.1,125.1 505.5,118 515.4,118.6 524.5,121.6"/><polygon points="473,168.5 478.9,171.3 480.1,177.9 471.6,179.6 463.3,179 458.7,172.5 466.1,168.1"/><polygon points="365.4,152.7 364.4,145.4 362.1,138.2 372,138.5 384,138.1 383.1,147.2 375.6,152.2"/><polygon points="322.9,222.1 331.8,227.6 338.2,236.2 328.1,243.3 314.9,243 311.2,234.3 313.6,227.2"/><polygon points="382.2,300.6 385.4,292.4 396,295.2 399.4,300.2 403.1,307.3 393.5,312.5 383,308.3"/><polygon points="401.6,261.6 406.3,259.2 413.5,259.5 416.3,265.2 411.4,269.9 404.7,268.6 396.4,266.7"/><polygon points="324.2,133.4 323.5,140 318.4,145.1 311,142.6 305.1,138.6 310.5,134.5 316,130.7"/><polygon points="394.4,297.1 400.6,298.8 402.7,305.2 393.8,305 388.6,305.1 386,301.1 388.7,297.1"/><polygon points="322.7,168.9 321.3,177.7 311,173.7 304.6,168.7 304.5,159.7 316.7,155.7 324.9,162.6"/><polygon points="237.2,147.7 245.5,155.5 233.9,160.6 223,161.2 219.1,153.9 215.5,143.9 229.4,138.3"/><polygon points="231.1,232 233,235.6 232.2,241.6 224.2,240.2 215.9,237.6 217.5,230.2 226.1,227.3"/><polygon points="187.7,252.8 187.3,246.3 195,241.9 207.5,242 206.7,251.3 201.9,257 192.9,258.2"/><polygon points="430.6,265.4 441,266.1 444.8,271.8 444.5,277.1 438.8,283.6 429.4,279.6 429.2,272.9"/><polygon points="346.7,211.9 338.8,215.8 331,215.2 321.9,211.1 329.8,205.7 335.9,202.6 346.1,203.7"/><polygon points="252.6,158.4 239.6,158.5 239.9,149.3 238.8,143 247.5,138.4 255.1,143.9 261.2,151.4"/><polygon points="430.9,159.3 439.1,164.1 442.1,172.8 431.7,177.9 421.2,175.3 412.5,168.3 422.8,163"/><polygon points="490.8,128.7 479.7,127.7 475.8,119.1 482.5,111.4 492.9,114 500.6,117.8 497.3,124.2"/><polygon points="391.5,198.4 398.4,196.1 406.4,197.2 404.7,202.9 401.7,206 397.1,205.6 391.5,203.9"/><polygon points="334.6,183.8 344.1,184.9 341.2,191.9 334.2,195.3 325,194.4 325.4,187.8 329,184"/><polygon points="412.3,206.2 416.3,200.1 422.5,205.1 425.1,209.3 421.3,213.1 414.2,216.3 406.7,211.7"/><polygon points="314.1,135.7 307.4,144.5 291.8,145.6 291,134.4 290.7,126.4 301.5,120.6 308,129.1"/><polygon points="238.9,301.4 236.7,296.7 242,294.2 246.8,294.4 255.9,296.1 252.5,302.8 244.5,305.6"/><polygon points="237.2,199.8 226.3,192.5 236.2,184.1 247.3,186.8 256.5,189.3 258.4,198.4 246.6,199.7"/><polygon points="276.7,243.3 289.8,240.7 299.7,243.8 307.7,251.7 297.4,257.8 285.8,261.5 281.5,252.7"/><polygon points="297.5,130.5 290.1,131.1 282.8,127.5 285.2,121.1 292.1,117 304.2,117 305.6,126.2"/><polygon points="537.9,133.9 529.5,136.7 522.3,134.9 521.3,130.1 522.9,125.7 529.4,124.1 535.9,127.2"/><polygon points="550.9,259.1 542.8,255 550.2,250.3 558,247.1 565.2,251.8 566.1,259.4 556.4,259.5"/><polygon points="286.7,170.6 291.2,175.3 285.6,179.5 279.6,177.9 274.4,175.8 276.2,171.4 281.2,170.3"/><polygon points="200.9,230.9 195.9,227.6 199.1,223.5 203.1,219.1 208.3,222.7 212.6,227 207.9,231.6"/><polygon points="464.6,174.9 467.7,179.6 464.5,184.7 457.2,185 453.3,181.2 453.7,177 457.4,171.1"/><polygon points="387.8,289.4 375.4,283.2 383.1,274.1 390.2,266.3 403.2,269.5 411.2,279.2 402.5,289.2"/><polygon points="235,237.4 236.9,233.2 240,229.6 246.1,230.8 249.9,234.9 246,238.9 240.5,239.3"/><polygon points="314.6,192 320.2,192.3 325.3,194.7 324.9,199.8 318.7,201.1 311.4,201.2 308.2,195.4"/><polygon points="381.4,254.8 381.7,250.7 383.5,246.7 388.8,248.1 394.2,250.2 393.2,255.3 386.8,257.2"/><polygon points="277.4,148.3 275,142.5 278.9,138.6 284.5,135.6 288.2,139.9 290.1,144.2 285.5,148.1"/><polygon points="555.9,263.4 564.7,260.9 571.8,265 577.7,272.3 569.2,279.6 558.4,275.8 548.6,270.6"/><polygon points="281.6,174.7 272.5,176.2 260.9,173 265.7,164.4 273.9,162 284.9,160.2 288.1,168.7"/><polygon points="231.6,198.1 239.4,192.3 251.3,191.3 259.8,199.2 251.4,206.2 243.1,208.7 231.2,207.4"/><polygon points="271.2,244.1 284.8,245.4 286.3,254.2 287.5,261.9 277,264.4 267.3,261 267.1,253.2"/><polygon points="265.7,270.1 258.1,268.4 256.8,262.6 259.4,256.3 267.8,258 271.9,261.8 271.1,266.6"/><polygon points="171.9,254.9 174.7,249.3 181,248.1 189.3,247.2 192.1,253.8 184.2,256.2 179.1,257.4"/><polygon points="364.1,269.2 373.3,268.3 374.6,275.2 371.3,280.3 363.1,284 354.3,279.2 354.5,270.9"/><polygon points="382.2,175.1 394.7,171.9 400.4,179.5 403.6,185.7 397.9,192.7 388.2,189.2 384.1,183.9"/><polygon points="338.5,230.4 331.6,237 328.1,243.4 321.2,238.8 319.3,234.6 320.7,229.7 328.8,226"/><polygon points="310.5,149 316.5,154.7 314.8,163.1 303.3,167.2 290.1,162.8 293.9,152.9 300,145.4"/><polygon points="386.1,280 378.7,283.8 376.7,277.3 376.7,272.2 383.3,271.5 389,272.5 388.6,276.8"/><polygon points="310.9,146.6 303.2,148.5 298.3,146.8 295.5,143.8 296.3,139.2 303.4,135.5 306.8,141.4"/><polygon points="532.9,192 536,197.1 538.5,203 530.7,207.2 521.5,204.5 521.2,197.8 522.5,189.8"/><polygon points="520.7,258.4 517.3,261.6 512.1,261.7 506.9,259.2 505.8,253.1 513.9,252.1 520.9,253.2"/><polygon points="499.6,251.1 507,257.1 507.4,265.7 496.3,265.4 485.9,267.5 486.2,259.4 489.2,252.7"/><polygon points="243.6,300.8 247.6,297.7 253.5,298.9 257.6,303.1 254.7,308.6 247.2,307.9 241.2,305.5"/><polygon points="292.1,154.6 284.7,150.4 283.6,140.9 296.1,140.6 308.6,140.9 309.7,150.7 302.7,158.8"/><polygon points="287.4,185.5 290.4,181.6 296.3,179.8 303.7,182.3 299.7,187.5 296.5,192.8 290.2,189.3"/><polygon points="319.3,260.3 310.6,257.4 313.7,250.9 318.8,248.3 325.1,248.2 332.7,252.3 325.1,256.4"/><polygon points="426.8,182 414.4,181.7 408.8,172.8 415.6,165.2 426.3,164 434.9,168.5 431.2,175.2"/><polygon points="511.1,242.7 519.5,242.3 524,247.1 525.5,253.7 517,257.3 508.3,254.5 509.4,248.3"/><polygon points="407.8,183.1 419.8,183.3 428.5,183.8 436.1,191.2 427.3,198.2 416.9,196.3 407.6,192.5"/><polygon points="255.2,281.6 254.2,291.1 243.5,294.6 230.7,295 233.8,285.5 232.7,276.6 245.3,276"/><polygon points="235.9,275.5 245.6,272.3 252.9,271.9 260.5,275.8 254.6,281 249.1,286 239,283.7"/><polygon points="535.4,263.1 531.8,270.7 527.7,275.8 520.2,273.8 517,269.6 516.9,263.8 525.2,258.2"/><polygon points="505.9,114.1 505.1,107.4 509.2,101.1 516.8,104.8 526.1,106.5 519.8,111.8 514.7,116"/><polygon points="529.7,252.8 535.9,254.4 541.2,256.6 540.1,261.5 534.5,265.6 528.4,262 524.4,257.1"/><polygon points="448.3,118.5 454.2,120.4 457,123.7 459.3,130.1 450.3,131.1 444.9,127.3 445.1,122.8"/><polygon points="305.8,162.7 296.6,163 287.3,160 290.5,152.8 297,148.8 305.5,150.1 312.7,156.2"/><polygon points="285.9,249.7 290.5,243.7 297.6,248.1 304.2,252.8 298.6,258.7 290.2,258.7 281.4,255.9"/><polygon points="304.2,263.9 302.3,257.7 310.4,255 319.2,256.4 326.8,263.5 316.4,268.3 306.9,271.4"/><polygon points="449.8,147.4 439.5,146.1 432.4,143.5 432.5,137.5 437.1,130.8 448.2,131.9 451.7,139.4"/><polygon points="474.6,238 470,245.1 468.4,251.3 459.6,250.3 455.4,245.2 456.7,239.3 464.2,237.7"/><polygon points="459.2,226.2 449.6,234.8 439,241.4 427.5,234.9 424.9,224.8 433.2,215 444.8,222.4"/><polygon points="348.6,190.3 339.5,183.6 334.7,178.1 340.1,173.2 348,170.4 358.1,174 352.4,181"/><polygon points="210.4,232 221.7,231.8 224.4,240.7 217.7,248.3 207.8,244.6 200,241.3 205,235.8"/><polygon points="266.8,202.5 270.8,200.2 277.3,199.2 279.2,204.2 278.7,210.1 270.9,209.2 265.3,207"/><polygon points="402.1,200.2 389.1,199.7 375.2,201.1 375.9,190.5 383.5,184.4 394.9,182.9 405.2,189.5"/><polygon points="202.8,273.9 212.7,273 212.8,280.4 210.4,285.5 202.8,288.1 189.9,286.1 192.5,276.2"/><polygon points="420.1,293 428.2,284.2 440.2,289.7 444.1,297 443,306.6 430.4,305.4 421.6,301.4"/><polygon points="321.7,199.9 324.6,194.7 327.7,187.7 334.4,193 340.4,196.9 336.6,202.9 328.2,203.5"/><polygon points="278,191.9 282.4,195.9 286.3,199.9 283.5,206.9 275.7,202.4 268.6,200.2 268.4,192.9"/><polygon points="298,234.2 291.4,229.3 294.1,223.2 300.1,219.1 308.4,221.1 313.2,227.4 304.9,230.6"/><polygon points="488.1,189 482.6,181.1 493.6,178.1 505.8,172.4 513.3,182.2 505.5,190 496.4,192.7"/><polygon points="521,276.8 510.2,278.6 500.8,281.2 495.7,274 497,264.7 509.5,263.5 514.1,270.3"/><polygon points="573.5,264.8 566.4,270.8 556.8,273.8 545.9,269.1 546.9,259.2 558.7,258.8 569.1,256.6"/><polygon points="326.4,266.4 329.5,261.3 334.5,257.7 343.9,257.9 342.1,264.7 339.1,268.6 331.2,273"/><polygon points="443.3,217.9 437.4,222.7 431,218 427.6,211.9 435.8,209.8 442,209.2 446.6,213.3"/><polygon points="291.2,245.7 298.7,238.2 309.8,233 315.1,241.9 321.6,250 309.4,252.5 298.2,254"/><polygon points="221.6,170.4 218.2,165.1 221.8,160.4 228.6,158.1 236.6,160.9 234,167.1 229.4,171.5"/><polygon points="451.1,129.9 457.6,133.2 458.4,137.7 458.6,144.5 449.7,143.2 442.2,140 444.8,133.8"/><polygon points="427.3,211.7 429,220.4 419.8,224.8 407.3,227.7 406.5,218 407.6,210.9 417.8,203.9"/><polygon points="141.7,248.8 148.1,245.4 158.8,241.4 164.4,249.8 160.9,258.4 150.2,256.9 139.4,256.7"/><polygon points="395.5,291.9 409,288.4 415.7,298.5 408.4,306.1 398.9,313.3 386.9,307.2 389.4,298"/><polygon points="256.5,156.8 249.2,157.4 243.7,154.7 243.3,149.7 247.7,145.1 257.1,144.5 257.1,151.4"/><polygon points="513,286.7 521.5,281.2 532.3,280.9 541.2,287.4 536.6,296.3 525.7,296.4 520,292.7"/><polygon points="239.4,181 248.1,185.5 251.6,191.7 246,196.5 238.8,196.6 228.6,194.5 235.3,188.3"/><polygon points="567.4,238.6 571,242.7 565.1,244.9 557.6,248.3 556.2,241.9 555.2,235.8 563.2,237"/><polygon points="534,276.2 525.7,278.4 516.9,278.6 514.5,272 517.7,265.7 526.3,266.2 535.8,268.5"/><polygon points="316.5,199.6 317.3,193 326,192.8 329.8,196.8 331.2,200.9 327,204.1 319.7,204.9"/><polygon points="569.4,291.6 563.6,299.7 550.7,301.3 542,293.9 543.6,284.3 554.3,276.8 562.7,285.5"/><polygon points="194.5,293.9 194.5,304.2 180.1,303.9 172.5,296 173.8,286.7 184.6,280.6 198.4,284.2"/><polygon points="288.4,160.3 294.6,161.8 295,167 289.8,169.7 283,170.4 280.3,165.5 283.4,161.7"/><polygon points="245.3,203.9 236.3,199 242.7,192.1 251.2,187.7 258.7,193 265.9,200.9 253.8,204"/><polygon points="239,145.7 248.7,147.3 250.6,154.4 244.3,157.9 237.2,162.2 233.4,156 234.1,151"/><polygon points="483.3,168.3 477.5,161.4 483.3,153.1 495.4,154.1 506,159.2 497.5,166.1 492,172.3"/><polygon points="454.8,293.4 452.9,300.7 444.4,302.7 436.3,301.5 427.3,294.7 439.3,291 446.8,289.7"/><polygon points="364.2,217 376.8,213.6 384.6,212.3 388.9,217.3 389.5,223.7 381.7,230.3 368.5,227.4"/><polygon points="405.7,150.5 403.9,158.9 392.8,164.2 383.6,157.5 384.4,150.2 387,140.3 402,140.7"/><polygon points="471.9,138.8 465.1,136.2 461.5,131.6 465.6,127.3 471.5,127.6 474.4,130.4 475.8,134.1"/><polygon points="298.9,202.9 288.5,198.7 293.2,190.3 302.8,187.7 312.2,190.1 314.1,197.5 307.7,202.6"/><polygon points="511.3,295.6 518.9,291.7 524.9,291.5 532.4,293.2 529.1,298.6 524.7,302.9 518.9,299.6"/><polygon points="432.9,165.3 440.5,158.5 449.8,157.6 453.8,162.7 457.9,168.5 449.9,171.7 440.5,172.1"/><polygon points="414.5,193.4 416.8,188 424.8,185.1 428.5,191 429.6,195.7 423.8,197.3 416.4,199.2"/><polygon points="241.2,295.7 231.5,288.9 230.1,280.9 236.3,274 249.6,271.7 254.1,281.3 251.3,289.2"/><polygon points="262.7,291.3 258.8,286.7 257.8,278.7 269,276.1 279.9,280.3 280.7,289.8 271.1,294.9"/><polygon points="500.8,247.5 512.8,250.2 507.1,258.6 499.2,262 486,263.5 489.8,253.8 490.8,246.2"/><polygon points="304.2,267.8 303.2,277.1 293.7,279.4 284.2,282.2 283.2,274.7 279.9,265.6 292.8,262.9"/><polygon points="277.1,113.1 287.1,119.8 284.6,127.3 281.9,135.3 272.6,130.8 261.1,127.6 265.4,118.3"/><polygon points="504,290.8 501.9,298.3 493.7,301.6 485.4,299.4 485.3,293.6 487.8,288.8 496.6,284.2"/><polygon points="234.7,231.2 244.7,233.2 249.3,239.2 245.9,245.1 237.7,250.6 227,246 223,236.1"/><polygon points="280.8,310.8 275.2,317.9 267.3,320.4 258.1,318.9 256,311.5 263.9,308.3 273.4,303.2"/><polygon points="378.7,203 368.4,202.1 369,194.3 374,188.7 382.2,190.3 386.5,194.5 387.2,201"/><polygon points="311.4,181.2 318.8,176.4 324.1,173.2 332,175.2 334.1,182 327.2,186.2 318.7,186.3"/><polygon points="226,272.7 219.4,272.4 212.6,270.4 213,264.4 220,262.7 227.5,262.3 230,268"/><polygon points="464.2,196.6 456.3,202.4 445.7,198.2 449.6,190.8 453.2,187.2 459.9,186.1 467.8,189.9"/><polygon points="388.9,255.3 398.7,254.3 401.8,260.4 406.2,266.5 397.1,267.7 391.4,266.1 385.8,262"/><polygon points="516.5,210 515,200.8 515,194.9 522.4,192.6 533.8,192.1 534,200.8 527.7,206.2"/><polygon points="488.4,259.1 485,253.1 489.8,248 498.2,245.2 504,250.7 502.8,256.7 497.2,262.9"/><polygon points="330.6,198.6 327.9,188.5 341,182.4 354.1,187.9 354.2,197.5 349.4,205.9 336.1,207"/><polygon points="261.1,247.7 273.7,248.1 284.1,253.2 279.1,261.5 272.2,269.7 260.1,265.1 251,256.3"/><polygon points="282.5,257.9 284.7,252.7 288,248.4 293.8,250.6 297.5,253.9 297.7,260.2 289.6,258.7"/><polygon points="498.8,280.4 507.4,276.1 517.2,278.8 519.3,286.1 513,290.3 504.8,293.4 498.7,287.7"/><polygon points="499.8,157.2 501,164.9 491.3,168.9 481.4,165.9 481.2,158.7 483.3,150.9 495.8,148.3"/><polygon points="428.7,154.2 424,146.9 433.4,141.9 444.4,142.8 454.4,150.1 445.8,158.4 433.9,163.6"/><polygon points="292.6,272.5 286.8,268.4 286.8,262 294.5,260.5 300,262.3 302.6,266.4 300,271.1"/><polygon points="468.9,140 478.3,136.2 484.9,143.5 477.2,149.2 470,154 460.8,149.8 462.4,142.5"/><polygon points="265.1,183.8 273.6,175.4 283.9,182.3 287.8,188.2 286.6,196.4 275.8,195.1 262.1,194.1"/><polygon points="296.7,178.7 301.8,186.2 296.1,191.6 289.9,194.7 280.6,193.2 282.5,186.3 284.9,178.6"/><polygon points="533.4,144.1 527.4,139 520.5,134.7 528.3,131.4 535.8,126.5 541.5,132.8 541,139.6"/><polygon points="446.8,116.2 455.1,117.6 460.8,121.2 458.6,126.5 452.9,130.5 446.1,127.4 443.9,122.3"/><polygon points="256.1,152.2 253.6,157.8 245.8,157 242.2,153.2 238.2,147 247.1,144.9 254.8,146.6"/><polygon points="266.9,290 278.3,286.7 287.3,292.2 287.9,300.1 280.8,305.3 270.4,305.3 264.9,298.5"/><polygon points="383.4,205.9 383.4,211.9 380.3,217.8 372.2,216.1 360.5,213.3 364.8,204.2 375.6,202.7"/><polygon points="216,282.6 229.1,282.5 234.3,291 231.1,298.6 221.6,302.9 208.6,300.4 204.7,289.4"/><polygon points="552.5,292.9 545.8,288.7 544.3,283.4 549.1,280.1 556.5,277.7 560.1,283.2 561.1,289.7"/><polygon points="211.9,181.3 202.1,187.2 193.6,180.5 188.8,172.9 197.3,166.9 208.1,167.1 211,174.1"/><polygon points="348.5,309 338.3,307.7 335.7,300.5 338.4,293.1 349.2,291 352.9,298.2 354.5,303.7"/><polygon points="434.3,127.3 442.8,127.9 441.8,134.4 435.8,136.4 429.4,138.3 427.3,133.3 426.4,127.4"/><polygon points="474,267.4 467,269.6 461.9,269.9 459.6,266.7 459.9,263.1 464.4,260 472.8,260.7"/><polygon points="286.9,153.3 274.6,152.9 264.2,146 274.9,139.5 281.7,133.4 290.6,138.3 296.8,146.7"/><polygon points="237.8,255.5 245.3,251.2 251.2,249.8 260.1,251.1 258.9,258.2 251.3,259.4 245.8,259.2"/><polygon points="237.4,138.3 251.1,141.8 257.2,150.1 251.1,157.5 240.9,162.4 231.8,156 234.9,148.8"/></g>
<g fill="#2a7428"><polygon points="364.8,175.5 363.8,183.6 354.4,179.9 350.4,175 353.6,170.4 359.7,166.2 369.7,168.6"/><polygon points="218.1,194.9 223.6,199.4 224.1,204.3 221,210.6 213.7,206.7 204.7,203.7 212.6,199.3"/><polygon points="211,187.5 222.3,184.1 232.6,188.8 228.5,196.3 226.6,204.9 217,200.1 212.7,195.6"/><polygon points="528.4,228.9 524.4,234.3 516,233.6 511.8,228.7 512.9,223 520.2,217.3 527.2,223.2"/><polygon points="217.3,216.9 209.3,217.8 204.2,213.6 204,208.1 210.7,206.9 218.2,205.7 218.6,211.4"/><polygon points="409,174.1 410.2,179.4 404.2,184.7 396.3,181 390.8,175.5 394.9,168 404.2,171.5"/><polygon points="267.2,142.3 277.8,146.8 272.1,154.4 266.8,159.2 255.7,160.2 251,151.9 259.5,147.2"/><polygon points="310.3,222.4 315.4,231.4 306.8,240.1 292.6,238.8 286.1,230.4 286.9,220.2 300,221.6"/><polygon points="319.6,214.5 326.1,215.3 324.4,220.1 320.3,222.9 313.8,223.1 312.9,218.3 314,214.1"/><polygon points="304.9,246.3 309.6,249.6 305.9,253.9 300.5,253.5 297.1,251.7 296.9,248.6 299.5,245"/><polygon points="155.2,256.3 157.3,249.9 165.9,247.3 171.2,252.3 171.3,257.1 167.2,260.7 161,259.9"/><polygon points="480.1,201.5 468.4,204 464.8,195.8 462.1,189.2 471.1,187.5 477.1,189.6 482.5,193.9"/><polygon points="212,249.8 221.1,254.5 225.1,257.7 223.6,261.9 218.7,266.4 208.7,265.2 207,257.3"/><polygon points="391.8,294.6 384.1,294 378.6,292.9 378.8,288.7 381.6,285.2 387,285.8 393.3,288.5"/><polygon points="188.7,232.9 180.2,228.6 183.9,220.4 195.4,216.6 203.7,223.3 204.8,231.2 197.8,238.5"/><polygon points="496.7,235.5 491.8,239.8 484.4,242.4 478.4,237.7 479,231.5 486.4,230.4 491.9,231.3"/><polygon points="413.9,239.5 422.3,243.5 422.3,251.6 414,258.6 403.6,253.6 394.5,246.6 403.8,239.6"/><polygon points="321.8,197.5 321.2,202.3 314.8,201.9 307,200.9 310.2,195.5 314.6,192.8 321.3,192.6"/><polygon points="406.6,273.2 397.6,270.6 402.6,264.4 408,262.8 417.1,260.3 418.2,267.5 412.8,271.2"/><polygon points="208.6,301.9 199.2,304.4 190.6,304.6 184.8,298.5 192.1,294 199.6,287.1 205.5,294.7"/><polygon points="208.6,272.6 203.6,276.1 196.2,277.7 191.6,272.6 196,268.4 200.5,267.5 206.8,267.4"/><polygon points="352.5,163.6 344.2,158.7 332.9,154.2 338.3,144.5 351.5,144 358.3,150.1 362.1,158.1"/><polygon points="541,274.7 541.7,270.4 548.4,267.8 554.3,272 551.1,276.7 547.5,280.1 542.2,278.2"/><polygon points="206.2,269 198.8,263.5 202.1,255.3 212.7,254.1 218.3,259 218.9,264 214.5,268.1"/><polygon points="504.8,206.9 503.1,201.3 502.5,192.8 514,193.3 517.9,199.4 521.8,205.9 513,210"/><polygon points="424.1,261.2 423.6,269.5 420.1,276 410.9,275.2 404.9,271 406.2,264.9 412.8,260"/><polygon points="299.5,156.7 309.3,162.3 304.6,170.3 297.2,175.9 288.9,171.4 285.4,165.6 290.9,161.2"/><polygon points="494,308.8 492.2,305.1 493.4,299.6 502.2,297.9 503.8,304.4 504.1,308.6 499.3,313.4"/><polygon points="231.1,295.9 232.2,291.3 238.2,288.8 243.8,291.8 247.8,297.2 239.9,298.9 233,301.5"/><polygon points="504,162.6 499.4,167.2 493.1,163.5 495.5,158.8 497.4,154.6 504.5,154.4 506.9,159.2"/><polygon points="531.8,217.1 537.5,218.9 534.3,222.9 530.4,224.6 524.9,224.3 524.5,220.2 524.6,214"/><polygon points="398.6,289.5 407.8,294.5 412.5,302.8 403.4,309.5 393.6,305.8 385.5,301.5 389.3,294.1"/><polygon points="357.5,250.5 366.4,244.8 374.1,250.3 377.4,254.6 374,258.8 367.9,260.6 356.4,259.6"/><polygon points="268.6,185.2 272.8,179.2 280.7,182.5 287.9,187.1 283.6,194.2 274.8,191.9 267.2,191.1"/><polygon points="176.4,303.1 170.8,299.7 169.7,294.6 175.1,291.8 181.2,291.9 182.9,296.1 182.3,300.3"/><polygon points="255.7,248.7 250.6,251.1 245.1,248.3 247.9,244.1 249.4,238.1 257.6,239.9 258.8,245.3"/><polygon points="213.8,292.5 200.5,292.9 190.9,285.2 199.7,277.8 207.2,275.7 214.5,278 216.9,284"/><polygon points="187.3,160.6 195.5,159.1 200.2,164 200,169.1 194.5,172.3 188.2,170.6 185.1,166.2"/><polygon points="441,252.3 445.4,250.2 451.6,249.5 454.5,254.1 450.4,257.4 445.7,258.6 439.5,257.1"/><polygon points="561.2,289.5 558,286.3 559.7,282.9 563.5,279.6 570.5,280.9 570,286.1 566.1,288.7"/><polygon points="247.5,260.6 241.5,264.6 230.6,265 226.5,256.6 234.6,251.4 243.3,249.5 249.4,254.6"/><polygon points="353.7,266.7 358.2,272.5 358.9,279.2 350.4,282.8 345.1,277.6 338.2,273.1 346.5,270.3"/><polygon points="491,112.6 492.7,106 500.2,104.8 508.8,103.6 512.1,110.4 505.9,115.1 499.4,113.7"/><polygon points="274.3,149 274.9,156.1 265.8,156.2 259.9,155.7 254.1,151 260.5,146.6 267.2,146.4"/><polygon points="382,182.5 373.1,181.5 375.7,174.9 381.6,170.6 389.5,172.8 391.8,178.2 387.5,181.9"/><polygon points="277.2,154 272.1,156.1 266.1,159.7 263.5,154.3 264.2,149.8 269.6,147.3 273.5,150.7"/><polygon points="172.3,272.7 173.3,265.6 183,265 192,268 192.8,276.2 184.6,281.9 174.2,279.6"/><polygon points="432.7,189.5 439.4,184 450,185.9 448.1,193.3 448.6,200.3 438.7,200.9 431.8,196.2"/><polygon points="361.5,257.5 364.2,261 362.5,266.8 353.3,267.9 347.5,262.4 351.7,257.1 357.2,255.8"/><polygon points="464.5,257 461.8,260.8 459.1,264.4 453.7,262.8 452.8,259.1 452.2,253.6 460.2,252.3"/><polygon points="188.7,185.3 194.4,184.1 199,187.6 198.1,192.8 191.8,195.2 184.6,193.6 180.4,187.6"/><polygon points="435.2,228.2 431.4,231.6 426.7,233 421.7,231 418.1,225.5 424.6,220.5 431,225.1"/><polygon points="553.3,142.9 550.1,148.6 543.3,149.9 536.5,148.6 534.7,142.9 540.3,139.4 546.1,140.4"/><polygon points="369.9,238.6 376.3,233.5 379.9,239.9 380.2,244.4 376.8,250.8 366.8,249.3 362.4,242.5"/><polygon points="510.6,285.5 514.3,278 526.5,279.1 532.4,287.6 522.6,292.2 516.3,293.5 505.6,292.6"/><polygon points="335,238.8 344.5,237.9 345.4,244.8 348.5,252.8 337.2,254.9 327.3,250.9 328.5,243.1"/><polygon points="221.2,188.9 225.9,185.9 233.3,184.1 236.9,189.6 234.5,194.9 227.7,196.9 220,194.8"/><polygon points="465,305 457.3,311.2 446.9,312.6 440.2,306.4 443.3,299.8 450.4,296.7 456.5,300"/><polygon points="554.5,233.8 561.8,240.7 561.4,249.6 550.4,251.1 544.9,247 538.4,242.5 543.7,236.2"/><polygon points="538.9,230.2 533.6,235.9 524.6,238.9 518.9,232.9 517.6,226.1 525.6,222 535.7,222.9"/><polygon points="353.2,300.2 349.9,304.8 341.7,308.9 337.6,302.1 338.8,297 343.7,292.1 349.6,296.4"/><polygon points="268.2,173.7 273.5,169.8 278.9,173.5 284.2,178 276.8,180.5 271.1,182.1 268.3,178"/><polygon points="266.6,207.2 262.2,202.3 259.4,197.6 264.8,193.9 274.1,191.8 279.5,198.6 275.8,205.6"/><polygon points="413.1,294.3 409.9,301.7 398.1,301.2 390.4,293.5 396.2,285.1 406.7,286.2 415.7,287.7"/><polygon points="426.6,227 423.8,231.1 418.8,236 413.6,231.3 414.2,227.2 415.5,222.3 421.9,224"/><polygon points="229.3,162 221,156.5 223,147.5 234.1,144 244.9,147.6 242.4,155.4 240,162.8"/><polygon points="183.8,226.8 176.1,226.4 169.5,226.7 168.6,221.6 173.7,219.6 179.3,216.4 180.4,221.6"/><polygon points="532.6,282.1 528.9,276.1 537.7,275.9 545.4,275.3 551.3,281.6 544.3,287.5 536.2,285.4"/><polygon points="464.3,245 470.1,248.8 471.4,254.2 465.3,257 459.1,256.5 451.8,252.7 457.7,247.7"/><polygon points="496.7,169.9 491.7,175.5 483.4,177.8 478.2,172.6 481.2,168.1 484.7,165.6 489.1,166.9"/><polygon points="410.8,239.4 404.6,235.1 405.8,229.1 412.3,226.6 421.9,225.6 425.2,232.9 419.9,239.2"/><polygon points="410.6,290.2 416.8,289.2 421.2,293.7 418,298.8 411.4,298.4 407.8,296.2 403.2,291.6"/><polygon points="532.1,169.9 528.7,166.7 530.6,162 537.3,160.7 540.1,165 542.3,169 536.7,170.1"/><polygon points="338.8,273.4 343.4,276.7 343.9,282.8 335.9,281.8 329.1,282 327.6,276.5 331.7,271.4"/><polygon points="568.8,255.8 562.6,254.4 557.9,250.8 562.5,247.2 567.5,243.2 572.8,247.2 571.2,251.5"/><polygon points="197.8,303.6 205.9,310.9 194.3,314.8 184.9,318.8 174.8,312.6 182.4,305.3 189.3,303.7"/><polygon points="407.4,193.6 412,192.8 418,194.1 418.3,199.4 412.9,203.5 405,202.2 405.4,196.7"/><polygon points="285.6,116.9 278.6,122.5 268.6,123.5 264.1,117.2 263,109.6 272.8,106.1 282.5,109.3"/><polygon points="511.7,135.7 504.4,139.1 495,140.6 494.3,133.4 495.9,128.4 503.1,124.5 512,128.2"/><polygon points="477.6,306.1 472.5,299.3 466.4,292.6 474.3,284.5 486.1,288.6 488.2,295.6 488.3,303.2"/><polygon points="331.4,273.9 335.5,280.2 329.6,284.5 322.2,290.4 314.5,284.4 315.5,277.2 322.9,274.5"/><polygon points="503.2,227.3 508.2,222.5 519.4,219.9 524,228.4 520.8,236.4 510,239.2 504.9,232.5"/><polygon points="237.7,182.4 234.1,189.4 226.9,191.4 217.4,192.4 215,185 217.3,175.9 228.7,179.3"/><polygon points="510.5,294 505.8,297.3 499.7,299.4 492.8,296.1 494.5,289.9 501.6,288.7 508.2,289"/><polygon points="273.2,260.9 277.6,266.7 270.9,270.6 263.4,274.2 258.5,268.5 260.9,263.6 265.4,259.2"/><polygon points="413.6,135.3 420.5,136 418.4,141 414.6,144 407.1,145.3 403.5,139.7 406.5,134.1"/><polygon points="411.6,227.4 411.3,221.9 413.3,216.4 422.2,214.8 427.9,220.3 423.9,225.5 418.7,226.7"/><polygon points="290.6,183.8 297.2,177.5 308,178.4 315.2,184.8 311,192.6 301.1,195.5 294.3,190.3"/><polygon points="200.7,185.2 201.9,192.8 192.6,196.8 183.1,193.8 182.3,187 183.4,178.4 193.9,182"/><polygon points="240.6,152.1 234.5,153.5 232.8,148.9 232.3,143.7 239.5,141.8 246,144.7 246.2,150.1"/><polygon points="410.9,147.3 419.1,145.1 423.7,151.2 423.3,159 413,160.2 405.6,156.7 402.6,150"/><polygon points="265.1,163.1 271.3,167.6 278.8,172.5 272.9,179.5 263,177.8 254,174.4 257.7,167.1"/><polygon points="406,248.8 415,251.8 414.2,259.5 406.8,264.4 397.5,262.5 392.3,256.2 397.1,249.8"/><polygon points="162.8,250.3 166.5,241.9 174.4,239.5 183,238.9 185.9,245.3 181.3,250.1 173.1,255.8"/><polygon points="204.9,253.7 212.8,251.2 218.9,247.4 220.2,253.3 224.7,258.7 216.9,262.2 210.4,258.5"/><polygon points="420.6,197 415.2,192.7 421.7,189.5 426.8,186.8 431.9,190.2 432.5,195.2 427.4,199.6"/><polygon points="399.4,154.8 407,149.6 419.6,151.3 415.6,160.2 414.3,168.3 403,167.7 397.8,161.4"/><polygon points="321,223.1 327.8,219.6 335.6,223 333.3,228.8 331.1,235.4 322.6,233 319.8,228.1"/><polygon points="247.8,249.4 256.4,246.7 258.3,253.5 260,260.5 250.6,261.3 243.9,258.5 241.2,252.8"/><polygon points="384.3,211.4 378.7,217.1 374.2,224.6 368.4,217.5 366.4,213.6 366.4,206.2 375.8,208.4"/><polygon points="519.4,218.3 528.3,217.2 535.4,222.4 530.7,228.5 524.5,236.8 514.8,230.6 514.8,223.4"/><polygon points="353.8,275 357.8,272.3 363.1,273.9 367.1,277.9 363.9,283.3 356.6,282 349.6,279.8"/><polygon points="392.9,275.3 389.6,265.3 392.3,257.5 402.3,256.9 408.7,260.3 415.1,267 404.8,270"/><polygon points="381.9,245.3 392.7,247.5 387.2,254.8 381.8,258.2 372.6,259.1 371.1,252.2 372.2,245"/><polygon points="269.2,302.5 272.9,309.4 273.3,316.1 264.6,318.1 257.7,315.4 257.7,310.2 259.3,304.2"/><polygon points="546.8,247.6 550.5,243.3 558.3,241.2 559.5,247.4 561.4,252.2 555,255 549.8,251.7"/><polygon points="468.3,149.5 461.4,146.3 457.9,140.5 464.3,136.3 472.8,134.5 477.4,140.4 473.2,145"/><polygon points="573.2,205.2 564,203.2 558.2,199.9 559.6,194.6 565.4,192.4 576.4,189.6 581.4,198.5"/><polygon points="487.3,129.8 493.4,134.7 490.4,140.2 485,142.2 479,141.4 474.2,136.7 478.3,130.8"/><polygon points="338.7,230.3 347.5,226.5 353.8,232.6 356.1,240.2 347.3,246 336.4,243.2 332.2,235.7"/><polygon points="456.4,219.5 449.2,220.3 442.1,219.7 440.6,214.1 444.8,209.4 452.1,210 455.3,214.1"/><polygon points="268.9,257.7 262,252.8 264.2,245.5 272.9,240.8 284.2,243.9 287.3,252.9 279.8,260.7"/><polygon points="342.1,234.3 347.1,238.4 344.8,243.9 337.9,245.4 333.9,242 331.4,238.2 334.9,233.8"/><polygon points="276.7,300.9 278.6,308.7 279.1,315.1 270.6,315.5 263.1,314.5 260.3,308.1 265.1,300.9"/><polygon points="266.4,247 260.1,246.9 258.7,241.7 263.1,237.2 270,238.5 276.6,241.9 273.4,247.7"/><polygon points="391.5,299.9 385.8,296.5 384.2,290.3 392,287.4 396.9,291.1 404.2,294.3 398.1,298.6"/><polygon points="235.2,260.3 237,266.6 235.1,272.7 226.4,274.2 220.3,269.9 218.4,263.3 226.7,261.2"/><polygon points="382.1,256.4 383.9,262.8 376.9,266 368.2,268.6 366.1,261.7 365.4,254.9 374.4,255.2"/><polygon points="567.5,243.1 573.2,243.5 575.2,247.9 571.8,251.7 565.9,252.3 562.7,248.8 562,244.5"/><polygon points="175.5,268.8 184.9,267.7 189,274.8 184.1,280.9 175.2,283.2 167,278.9 166.8,271.2"/><polygon points="318.9,228.8 315.1,225 320.4,222.6 325.3,219 327.4,223.8 328.9,227.7 324.2,230.5"/><polygon points="515,231 521.1,229.1 524.9,233.3 526.7,239.3 518.7,240.4 513.5,238.2 511.6,234.2"/><polygon points="387.8,248 380.9,254.8 370.3,251 364.4,243.6 370.3,235.6 380.7,238.1 385.8,241.8"/><polygon points="381.2,269.5 374.1,269.6 369.6,268.5 366,264.9 370.3,261.5 377,259.1 381.1,263.9"/><polygon points="375.8,167.3 381.6,170.2 376.9,173.9 373.2,176.6 367.5,175 368.1,170.8 371.1,168.5"/><polygon points="375.1,260.4 374.4,253.7 383.5,252.2 392.4,254.6 389,261 385.8,265.6 379,264.2"/><polygon points="483.8,191 488.4,194.9 489.2,199.8 483.4,201.1 478.8,200.7 476.7,197.5 474.7,190.8"/><polygon points="521.1,210.8 531.2,207.5 540,205.5 547.8,211.3 543.5,218.8 534.4,223.7 526.1,218.3"/><polygon points="424.1,134.2 427.2,128.9 431.2,125.3 439.9,124.3 440.1,130.9 438.9,136.5 430,140.8"/><polygon points="422.5,258.3 420.4,264.8 412.1,270 406.7,263.1 401.7,257.8 408.6,253.5 417.8,251.9"/><polygon points="466,286.4 473.9,283.9 481.2,289.6 476.1,296.4 467.6,298.2 460.2,295.1 459.7,288.9"/><polygon points="518.6,238.2 519.5,242.8 513.6,245.2 508.7,242.5 506.6,238.8 509.9,235.7 515,235.5"/><polygon points="153.6,249 145.8,242.8 143.7,236.4 147.7,228.5 159,230.1 163.9,236.5 163.6,244.2"/><polygon points="470.9,149.1 477.3,151.4 476.9,155.9 476.4,160.9 470.1,159.3 463.5,157.7 465.2,152.4"/><polygon points="518.4,248.1 523.1,249 525.1,253 523.1,259.1 516.1,255.2 512.6,252.8 511,247.4"/><polygon points="487.8,139.7 491.4,145.5 486.7,150 480.9,149.3 474.2,148.6 474.5,143.2 479.6,139"/><polygon points="468.9,205.3 469.6,196.8 480.3,191.7 490.8,196.8 497,205.8 485.2,210.1 473.7,214.3"/><polygon points="528.5,161.4 534.3,157.7 540.1,161.2 542.7,165.9 538.6,170.4 532.6,168.4 527,166.4"/><polygon points="297.2,264.4 288.1,262.1 290.6,254.4 299.9,250.5 309.6,254.2 306.5,261.1 303.7,265.6"/><polygon points="347.6,158 339.1,159.6 338,153.1 340.6,148.7 347.5,143.5 356.5,148.2 356.6,156.2"/><polygon points="164.4,222.8 160.2,219.1 158.8,213.5 166.1,210.8 174.5,211.8 178.1,218.3 171.3,222.5"/><polygon points="414.7,151.9 403.7,151.4 397.6,144 403.6,137 413.6,132.4 424.7,137.6 424,147.1"/><polygon points="303.6,149.5 297.3,150.6 288.2,149.8 289.3,142.8 293.9,135.4 305.3,137.2 308.9,144.6"/><polygon points="297,162.9 289.8,163 286.5,160.5 280.5,156.7 287.3,154.1 293.9,152.8 296.7,157.5"/><polygon points="293.3,247.8 290.5,252.6 282.5,251.6 279.3,245.8 284.6,241.6 290.3,242.5 297.1,243.5"/><polygon points="358.5,269.3 363.8,266.2 369.9,267.4 375.6,271.4 371.4,276.7 363,282.2 359.7,274.1"/><polygon points="407.6,183.7 399.4,183.7 392.6,181 391.1,174.3 399.7,173.5 406.2,172.9 408.9,177.7"/><polygon points="554.3,233.1 552.7,228.6 558.9,228.2 563.5,229.4 567,233.3 563,237.6 556.7,236.4"/><polygon points="413.5,159.7 404,163.7 396.1,161.5 391.4,157.1 391.9,150 401.2,150.8 412.6,150.5"/><polygon points="226.2,182.6 231.2,178.2 235.3,176.5 241.2,176.9 243.5,181.6 238.1,184 233.4,184.5"/><polygon points="406.8,132.3 414.4,133.1 418.7,137.8 413.8,141.5 409.3,143.1 403.6,141.7 402.7,136.8"/><polygon points="420.3,219.6 415.9,218.2 411.3,214.5 417.1,211.9 423.7,208.1 430.5,213.1 424.8,218"/><polygon points="315.7,170.6 310.7,172.4 304.4,173.4 300.9,168.6 305,164.5 311.6,160 319.3,164.6"/><polygon points="362.5,268.3 368.5,272.8 372.5,278.3 365.6,281.7 359.3,280.8 354.2,277.7 357.5,273.5"/><polygon points="465.5,134.4 473.9,138.8 471.2,146.4 462.6,150 453.3,147.6 450.7,140.5 455.2,133.4"/><polygon points="392.4,239.8 401.8,236.2 408.7,236.7 415.3,240.1 412.3,245.8 405.7,250.6 397,247.1"/><polygon points="323.7,251.9 314.9,256.4 310.1,249.5 305.2,244.7 311,239.5 320,239.7 324.7,245.2"/><polygon points="337.8,268.7 339.5,277.5 339.8,282.6 333.7,285.5 323.3,286.2 318.6,277.9 328.3,273.8"/><polygon points="343.6,292.4 354,287 361.1,293.9 370.8,299 360.9,303.7 352.1,306.5 343.5,301.4"/><polygon points="272.9,143 276.2,152.6 280.4,159.7 271.4,165.6 258.1,164.4 254.5,154.7 262.7,149"/><polygon points="402.1,162.5 395.8,166.2 390.8,162 386.9,158.5 388.9,152.4 396.8,154.2 402,157"/><polygon points="475.5,260.9 483.5,257.1 488.3,256 495.9,256.9 498.3,263.8 489.1,265 483.5,264.5"/><polygon points="340.8,269.1 346.8,267.8 354.4,270.6 354.4,278 345.1,278.4 339.5,277 335.7,272.6"/><polygon points="331.4,164.6 325.8,169.4 318.1,166.6 313.3,161.5 320.2,158.4 325.6,155.5 330,159.5"/><polygon points="532.5,221.2 527.4,228.6 523.5,233.7 516.5,231.1 509.6,227.4 514.8,222.2 522,217.7"/><polygon points="169.9,275.2 160.5,275 151.8,274 153.8,267.6 157.6,262.8 166.2,262.3 172.2,267.8"/><polygon points="428.5,311.2 422.2,307.5 427.4,302.7 433.7,302.1 438.4,304.7 440.1,309.5 435.5,315.1"/><polygon points="327.5,276.5 332.9,272.8 341.8,273.1 340.7,279.6 339.6,285 332.1,284.9 326.9,281.6"/><polygon points="296.7,130.1 292.2,134.2 285.3,133.6 276.3,130.4 280,122.9 289.2,118.6 294.7,125.3"/><polygon points="226.6,148.8 232.8,155.4 224.9,159.9 220,161.4 213.4,160.4 211.6,154.7 218.3,152.6"/><polygon points="233.9,154.7 238.2,157.7 234.8,161.5 229.7,162.7 221.3,162 222.3,155.5 228.1,151.4"/><polygon points="417.5,134.2 420.7,129.4 428.9,129.2 432.9,134.5 428.4,138.5 423.7,143 417.9,139"/><polygon points="511.2,263 501.6,267.2 492.4,270.5 486.5,263.9 488.3,257 496.2,253.3 507.4,254.2"/><polygon points="519.7,183.6 510.8,183.6 507.6,178 506.3,171.7 514.8,171.2 527.3,168.9 529.3,178.8"/><polygon points="479.6,154.5 481.8,150.3 485,147.1 491.3,147.4 495.3,151.9 490.9,155.9 484.4,159.4"/><polygon points="257.8,260.9 256.4,265.2 254.1,270.2 246.1,269.7 246.2,264.1 244.9,258.7 252.7,256.5"/><polygon points="287.7,270.6 294.5,266.8 305.1,265.4 310.3,273.4 306.5,282.1 295.5,279 286.6,277.7"/><polygon points="462.7,129.4 463.9,134.7 458.7,137.4 453.2,137.8 447.7,134.7 452.4,131.1 456.1,127.2"/><polygon points="445.9,184.6 458.2,186.4 466.8,189.1 466.4,196.3 460.4,202.3 448.4,202.6 439.8,194.3"/><polygon points="547.6,277.9 555.3,284.5 560.7,290 555.7,296.8 546.3,295.1 533.7,292.9 539.7,284.4"/><polygon points="439.1,229.7 440.5,222.3 449.8,225.4 455.1,227.7 458.6,234.1 449.7,236.1 442.6,234.7"/><polygon points="341.3,157.5 332.6,162.3 324.4,157.5 318.5,151 326.7,146 336.2,143.9 339,150.8"/><polygon points="273,218.5 271.1,212.4 279.4,207.4 286.1,213.4 287.3,218.7 284.4,225 275.9,222.9"/><polygon points="545.4,262.1 544.6,269.7 541.2,274.9 531.7,278.9 523.3,272.5 526.6,264.5 535,260.6"/><polygon points="230.4,227.2 240.9,230 247.1,231.7 246.9,236.8 242.9,241.6 232.2,243.6 229.7,235.5"/><polygon points="500.9,119.5 508.4,122 506.9,128.5 500.1,132.2 494.8,127.9 490.8,124.4 491.8,117.2"/><polygon points="293.5,142.4 304.4,138.9 315.6,140.9 317.3,149.2 311.3,154.9 302.3,155.7 296.4,150.7"/><polygon points="434.3,261.5 434.7,256.7 440.8,258 444.5,260.1 444.2,263.8 440.4,266.9 434,266.1"/><polygon points="293,252.3 293.8,262.6 285.5,270.1 272.8,269.1 268.2,261.3 269.7,253.4 280.2,247.5"/><polygon points="541.9,250.2 538,256.3 533.5,261.9 523.3,260.8 525.4,253.6 523.6,246 533.6,247.1"/><polygon points="276.6,124.8 286.2,129.3 279.7,136 274.7,139.9 266.6,138.8 260.2,132.7 266,125.6"/><polygon points="466.1,272 476.9,272.1 478.5,279.3 476.3,283.4 471.5,289.1 461.9,286.2 464.2,279.2"/><polygon points="527.1,270.8 519.6,271.5 516.8,267 513.3,261.6 521.3,261 528.8,260.1 532.6,266"/><polygon points="198.2,248 198.7,254.2 192.4,257.4 182.9,259.6 181.4,252.3 180.9,244.5 190.8,247"/><polygon points="362.5,280 356.6,282.6 355.4,277.5 355.9,274.6 359,271.7 364.2,273.1 368.4,277.3"/><polygon points="517.4,146.6 513.2,138.7 521.1,134.4 528.2,130.8 535.2,135.3 535.5,142.2 528.3,147.2"/><polygon points="454.5,171.1 456.6,177.5 454.6,182 449,184.6 438.6,184.5 440.6,176.8 444.1,169.8"/><polygon points="573.7,244.5 583.2,245.4 582.8,252.5 578.6,257.8 569.8,258.3 564.4,253.1 568.6,248.2"/><polygon points="394.8,178.8 402,181.3 401.7,187.3 397.9,195.4 387.6,191.6 383.3,185.5 383.6,176.9"/><polygon points="497.2,295.1 490.3,295.4 483.4,294 482.3,288.1 488,283.6 498.3,282 501,289.7"/></g>
<g fill="#3b8c33"><polygon points="361.5,184.3 361,178.1 367.9,176.4 374.2,174.9 376.6,179.7 376.3,185.2 368.9,186.6"/><polygon points="415.5,200.6 420.3,201.1 423.1,204.9 419,207.8 413.4,210.4 409.6,206.1 408.3,200.8"/><polygon points="404.7,236.4 403.7,241.8 398.3,246.8 390.2,244 389.1,238.4 389.7,231.3 398.7,233.6"/><polygon points="177.3,203.8 180.8,211.7 176,218.1 167.3,218.4 162,214.5 159.8,208.6 165.8,201.9"/><polygon points="390.9,220.5 388.2,226.2 386.1,232.4 377.5,230.9 375,225.6 375.2,219.8 382.9,219.1"/><polygon points="461.3,199.3 459.1,206.3 453,209.8 444.3,210.3 440.2,204 446.4,200.1 452.3,196.7"/><polygon points="260.5,242.8 256.8,240.3 255.8,236 260.8,232.2 267.3,234.5 269.8,239.2 266.8,243.9"/><polygon points="315.9,193 305.5,192.5 300.6,185.3 308.7,181.3 315,175.6 319.3,182.2 319,186.8"/><polygon points="410.2,161.5 415.8,159.5 421.3,161.6 423.2,166.2 419.4,170.7 412.2,170.4 407.9,166.2"/><polygon points="516.3,198.3 511.2,202 502.9,200 504.3,193.8 506.4,186.5 515.1,190 520.6,193.9"/><polygon points="246.3,238.9 239,236.1 244.2,231.3 250.6,229.1 254.9,232.9 259.4,238.2 251.2,239.3"/><polygon points="247.6,172.7 244.6,167.9 248.8,163.3 255.5,164.3 261.6,166.9 260.8,172.8 253.7,175.8"/><polygon points="476.4,189.7 476.9,193.3 472.6,196 467.1,194.6 466.2,190.6 466.6,185.3 473.6,186.7"/><polygon points="379.5,230.8 377.7,226.9 382.2,223.5 389.3,224.3 392.9,229.4 386.8,232.1 382.4,234"/><polygon points="424.1,172 433.5,167.5 440,164.3 449.3,167.2 450.8,175.8 441,179.5 429.9,180.1"/><polygon points="474,180.7 473.8,173.2 484.7,172.5 492.7,178 487.3,184.3 482.2,190 476.4,184.6"/><polygon points="355.8,158.7 354.3,153.1 357.3,147.3 366.1,147.4 369.3,152.6 367.9,157 362.9,159.3"/><polygon points="284.6,175.2 289.4,181.2 290.5,185.8 286.6,190.2 280.8,187.5 274.1,185 279.6,181.2"/><polygon points="412.1,223.5 408.6,226.6 404.4,227.9 399.7,226.2 396.4,221.1 402.6,217 409.3,219.4"/><polygon points="390.1,219.9 384.2,213.1 385.2,205.7 394,202.5 400.6,206.5 405.4,211.7 401.8,219.4"/><polygon points="258.2,275.1 248.9,278 245.5,271.2 245.5,267.3 248.2,261.7 258.1,261.6 260.7,268.6"/><polygon points="373.5,175.8 375.3,182.3 368.1,185.8 359,187 354.4,180.5 358.9,174.8 366.1,174"/><polygon points="394,150.5 401.3,144.8 409,139 416.9,145 417.9,152.2 410.8,156.7 399.7,158.6"/><polygon points="384.7,212.3 384.9,207.6 390.7,206.1 395,208.3 398,211.9 393.4,214.3 387.5,217.1"/><polygon points="177.1,307.7 172.7,304.2 169.7,299.4 176.2,297.1 183.8,295.4 183.1,301.4 181.7,304.5"/><polygon points="532.4,244.8 538.2,243.2 542,246.7 543.4,251.1 538.4,254.7 530.7,254.2 530.5,248.7"/><polygon points="380.9,220.2 384.2,211.6 395.3,211.6 402.6,214.9 408,222.4 398.2,226.9 388.7,225.9"/><polygon points="484.9,223.6 491.3,222.5 493.9,226.7 497.6,232 490.3,236.2 481.7,233.7 476.9,227.3"/><polygon points="496.6,110.2 500.7,113.7 504.8,116.7 500.4,119.5 494.6,122.6 490.6,118 493.8,114.4"/><polygon points="543.3,254.5 544.6,258.4 539.9,261.3 534.5,259.5 534.5,255.8 535.9,253 540.7,250.8"/><polygon points="184.6,175.4 179.8,169.3 188,165.4 198.2,163.7 201,171.3 201.1,179.4 189.9,182.4"/><polygon points="224,219.7 215.3,219.4 208.4,217.7 210.8,212.6 212.2,206 222,206.6 225.5,213.1"/><polygon points="187.9,243.2 189.8,239.3 195,234.4 201.9,238.4 204.1,244.5 198.3,249.4 190.6,247.6"/><polygon points="374.7,157.9 378.1,151.6 383.4,147.9 389.2,150.5 391.2,154.3 389.7,158.6 383.8,158.5"/><polygon points="342.1,175.9 330.9,178 321.7,181.8 318.7,174.2 321.6,168.8 328.5,164.3 335.7,168.8"/><polygon points="483.6,169.9 474.9,168.1 478.5,161.9 482.8,158 491.7,157 493.4,163.7 492.1,170.1"/><polygon points="372.9,160.2 381.9,155.9 384.2,163.8 388.9,170.2 379.9,174.2 370.4,172 368.5,165.3"/><polygon points="525.6,173 535.2,172.4 538.6,179.1 533.9,183.7 527.9,187.5 519,184.8 522,178.2"/><polygon points="348.5,281.4 350.5,284.7 349.2,288.8 343.4,289.2 340.4,286.1 341.1,283 343.9,280.3"/><polygon points="455.9,253.3 447.2,258 445.3,250 442.4,244 450.6,240.9 461.8,240.8 463.5,249.4"/><polygon points="393.6,196.8 389.3,202.7 381.7,199.1 379.2,194.8 381.5,190.7 388.1,185.5 396.3,190.2"/><polygon points="327.1,155.4 329.9,162 324.3,167.4 316,167 314,161.9 310.5,156.2 318.9,156.3"/><polygon points="468.6,164.3 473.9,161.7 475.7,166.3 477.4,170.2 472.1,171.9 468.5,169.7 466.2,167.1"/><polygon points="282.6,267.6 282.6,272.6 277.4,276.5 270.1,274.8 268,269.6 268.6,262.6 277.4,265.4"/><polygon points="266.9,185.6 278.8,185.5 276.6,194.2 272.1,198.6 263.6,201.8 255.3,196.4 257.2,188"/><polygon points="374.5,254.9 373.8,261 366.5,263.1 358.4,262.5 358.2,256.4 360.2,250.4 368.2,251.8"/><polygon points="394.5,209.9 402,214.1 397.1,220.6 388.4,221.8 383.6,217.4 377.3,210.8 385.9,204.4"/><polygon points="462.1,223.7 460.3,220.7 460,217.2 464.5,215.6 469.3,217.1 468.8,220.6 466.6,223"/><polygon points="561.8,217.4 561.9,212.9 567.4,211.8 574.1,211.4 577.5,216.8 572,221 564.5,222.8"/><polygon points="502.9,206.1 508.7,207.8 514.1,210.7 513.8,217.2 505,219 501.1,214 495.3,209.2"/><polygon points="268.6,127.9 277.2,131.1 277.6,136.5 275.4,140 270.3,141.2 265.7,138.8 265.3,134.5"/><polygon points="302.9,204.3 295.7,201.8 288.8,199 288.1,191.1 298.7,189.5 305.3,193.5 309.4,199.4"/><polygon points="360.5,193.1 371.2,194.3 376.1,201.8 370.9,208.7 361.3,209.8 353.1,205.9 356.9,199.8"/><polygon points="234.7,287.4 228,290.3 222.6,291.3 214.5,289.1 219.6,283.9 223.9,278.7 229.8,282.9"/><polygon points="491.9,166.2 499.4,168.8 506.2,171.9 501.2,176.6 496,178.8 487.5,178.3 489.9,172.2"/><polygon points="204.3,171.3 208.8,165.7 213.7,161.7 220.2,164.3 226.9,169.4 219.2,173.6 212.1,174.4"/><polygon points="198.1,267.3 193,263.8 191.5,258 198.3,254.1 204.6,257.6 207,261.6 206.3,267.7"/><polygon points="266.1,245.1 262.8,249.8 257,246.7 258,242.6 259.3,239.1 265.3,237.8 267.6,242"/><polygon points="143.6,243.3 149.2,242 159.4,242.6 159.9,251.1 150,253.3 139.5,255.4 134.9,247.4"/><polygon points="181.6,300 179.1,297.6 179,293.9 183.8,293.9 190.3,293.1 188.3,297.7 186.6,301.6"/><polygon points="354.4,267.8 351.5,261.7 359.9,258.9 367.1,261.8 373,267.6 365.2,271.9 357,273.8"/><polygon points="208.8,177.8 199,173.7 199.5,166 205.2,160.5 213.1,163.1 220.6,166.6 218.4,174"/><polygon points="343.9,223.1 338.3,221.9 334.5,217 339.3,211.5 349,210.4 351.4,217.2 349.4,221.8"/><polygon points="360.5,252.1 354.8,252.4 352.7,248.7 351.6,244.5 357.3,242.6 364.3,243.4 366.3,249.1"/><polygon points="255.8,143.3 261.1,144.9 263.5,147.7 265,152.9 257.9,153.3 252.3,151.4 253.5,147.1"/><polygon points="570.1,260.1 563.6,260.2 558.4,259.1 553.5,254.1 561.3,251.9 566.8,251.6 571.2,255"/><polygon points="281.6,159 278.9,154.7 280.4,151.1 284.7,150.2 291.2,149.4 290.5,154.3 287.4,157.3"/><polygon points="174.8,285.5 173.3,292.8 163.3,291.8 159.5,286.7 154.9,279.4 165.7,279 171.8,280.8"/><polygon points="433.8,310.1 439.1,312.1 445.9,313.1 442.2,317.5 438,319.5 431.5,319.1 430.8,314.2"/><polygon points="196.2,275.1 206.5,271.9 214.5,278.1 213.3,286 204.6,288.5 198.8,285.4 188.9,281.5"/><polygon points="308.3,145.8 298.8,150.6 291.1,154.9 286.7,148.5 284.4,142.6 291.3,138.2 299.4,140.6"/><polygon points="492.8,125.4 497.5,131 498.6,135.5 496.1,142.7 484.5,142.7 483.7,134.6 483.5,127.8"/><polygon points="481.1,296.1 475.4,297.7 473.8,293.2 474.6,288.6 480.7,289.2 486.4,290.2 485,294.5"/><polygon points="339.3,234 330.9,229.2 326.4,225.5 325.3,218.1 335.1,219.1 346,218.8 348.1,227.8"/><polygon points="244.1,252.1 241,257.5 233.8,262.3 228.4,256.4 223,250.3 231.8,247.3 239.2,247.5"/><polygon points="509.9,259.3 517.2,260.8 522,263.5 521.9,268.4 516.2,271.5 510.7,268.8 508.8,264.9"/><polygon points="216.7,229.7 224,230.4 220.7,235.2 217.7,240.7 209.5,239.1 208.7,233.4 212.2,230.2"/><polygon points="395.4,184.3 395.7,190.9 397.9,197.9 388.3,197.8 381.9,194.8 383.2,189.7 387.1,186.3"/><polygon points="260.3,148.7 253.8,150.6 248.4,149.7 247.6,146 246.6,140.7 253.2,142.9 259.6,143.3"/><polygon points="340.4,248.3 346.4,247.8 349.6,252.1 348.3,257.4 341,258.8 336.8,254.9 336.2,250.8"/><polygon points="415,197 419,199.7 417,203.2 413.6,205.8 405.9,206.6 405.6,200.7 408.2,195.7"/><polygon points="374.5,156.5 369.7,159.6 363.5,161.5 358.1,157.5 357.2,150.7 365.9,147.2 375.1,149.8"/><polygon points="344.4,157.1 336.9,157.4 326.7,157.7 325.5,149.5 332.3,142.5 341.4,147.1 350.4,150.8"/><polygon points="455.1,207.7 462.9,210.7 461.6,218 453.1,219 446.1,218 444.5,212.7 446.6,206.5"/><polygon points="519.9,184.3 514.9,179.8 516.6,174.2 523.3,172.1 530.5,173.8 528.4,178.9 527.1,183.4"/><polygon points="452.6,268.9 441,266.5 439.3,258.1 443.3,250.8 452.8,253.1 457.8,256.6 457.5,261.7"/><polygon points="386.8,295.8 382.3,300.6 378.8,302.5 370.8,305.1 370,298.7 372.1,293.1 380.3,291.5"/><polygon points="571.5,178.5 564.6,184.2 555,187.2 548.7,180.8 551.5,174.7 557.7,172.6 565.3,172.6"/><polygon points="529.6,215.6 523.8,214.9 520.9,210.7 523.2,205.7 531.4,202.3 535,208.7 534.5,213.3"/><polygon points="470,314.6 467.6,311.1 467.8,307.9 471,304.2 476,306.6 477.8,310.1 477.1,315.4"/><polygon points="353.6,208.8 363.9,211.8 360.7,219.1 359.5,225.6 351.9,222.3 347.8,219.5 348,214.8"/><polygon points="494.8,270.3 501.3,266.2 507.6,269 512.9,271.8 509.4,276.1 503.9,279 494.7,277.6"/><polygon points="220.4,154.2 227.3,153.1 233.1,156.7 234.9,163.8 225.3,163.4 216.3,165.4 215.2,158.3"/><polygon points="559.2,176.4 557.2,182.4 548.9,181.3 542.8,177.8 541.2,170.2 551.1,168.3 559.7,170.2"/><polygon points="256.7,219.7 256.8,212.9 259.9,206.1 269.9,206.7 275.6,212.3 270.8,217.3 265.7,222.2"/><polygon points="527.5,246 534.4,241.4 543.8,240.4 545.2,247.2 545.3,252.7 537.9,256 533.2,251"/><polygon points="390.1,298.6 396.9,299.8 399.7,305.1 394.6,308.9 388.5,309.2 384.8,305.8 385.7,301.7"/><polygon points="399.6,160.7 405,155.6 414.6,155 421.5,161.2 418.2,169.2 408,171.6 402.1,166.3"/><polygon points="472.3,194 470.3,187.8 474.4,183.4 481.6,179.7 485.8,185.6 485.8,190.5 480.8,194.4"/><polygon points="241.7,191 245.1,194.3 249.8,198.9 242.5,200.9 237.4,199.7 231.8,196.7 236.9,193.2"/><polygon points="417.7,187.3 413.9,190.8 410.9,195.5 404.8,192.6 402.1,187.9 406.4,183.6 412.2,185.5"/><polygon points="288.2,119.6 287.7,126.9 279.4,132.7 270.5,127.7 268.2,121.4 273.4,116.8 282.6,112.2"/><polygon points="240.7,171.5 244.6,170.6 246.8,173.3 248.5,177.3 243,177.8 237.9,177.5 238.8,173.8"/><polygon points="395.8,170.2 385.5,172.8 385.6,164.6 384.9,158.3 393.6,155.9 400.2,160.2 400.2,165.8"/><polygon points="263.4,167.5 270,167.8 273,172.4 270.7,177.5 263.2,179.8 258.2,175.2 257.4,169.9"/><polygon points="350.7,291.7 358.1,295.5 361.4,302.8 353.9,309.6 343.7,306.1 336.8,300.4 341.4,293.4"/><polygon points="436.8,150.3 443.4,150.5 447.9,154.1 446.2,158.7 440.6,158.7 434.3,159.5 432.1,154.4"/><polygon points="224.9,172.3 221.5,181 210.6,179.9 199.3,179.9 197.8,170.8 208,167.9 218.5,164.3"/><polygon points="511.8,307.7 506.3,314.3 499.4,308.6 495.8,303.5 498.4,296 509.8,295 514.5,302.1"/><polygon points="315.9,245.2 323.9,243.8 330,247.2 334.2,253.7 326.9,259.8 318,256 309.5,251.4"/><polygon points="405.4,222.5 401.5,218 406.8,213.3 416.1,213 422,219.3 417,225.5 409.3,225.1"/><polygon points="532.9,179.5 532,184.3 526.7,186.8 517.1,188.2 514.9,180.7 519.2,173.9 528.8,174.7"/><polygon points="463.4,130.5 471.1,129.6 476.7,133.5 475.7,138.8 469.6,139.1 465.7,138.8 461.8,135.9"/><polygon points="374.2,282.9 378,279.5 380.7,283.4 383,286.6 379.6,290.4 372.6,290.5 369.6,285.7"/><polygon points="481.9,151.3 486.8,146.2 495,147.1 499.2,151.9 499.5,158.6 490.5,160.9 480.6,158.8"/><polygon points="550.1,276.1 551.8,271.3 558.9,269.8 561.3,274.6 560.4,277.6 558.5,282.4 550.9,281.4"/><polygon points="282.2,231.7 279.7,226.1 283.7,220.3 291.6,222.3 296.6,225.6 295.2,230.6 289.5,235.5"/><polygon points="354.9,231.7 360.4,230.1 365.8,230.6 367.3,234.5 364.2,237.2 360,238.1 353.4,236.9"/><polygon points="431.1,204.7 434.1,211.6 432.4,218 423.9,219.1 419.1,215.3 411.8,209.4 422.4,207.7"/><polygon points="348.7,230 346.1,237.1 344.5,245.3 335.6,240.1 328.9,237.3 331.7,231.5 338.7,230.9"/><polygon points="148.6,233.8 145.2,229.6 144.2,225.8 148.8,224.5 153.6,223.9 156,227.4 153.3,230.4"/><polygon points="169.6,281.2 165.8,285.8 158,284.3 157.2,278.8 159.5,274.5 165.2,275.6 172.4,276.2"/><polygon points="483.6,146.8 475.3,146.5 467.8,143.1 471,137 476.9,132.3 484.1,135.8 484.6,140.8"/><polygon points="177.2,272.7 182.8,269 188.5,268.7 193.8,271.1 195.2,277 188,280.6 181.1,277.7"/><polygon points="402.6,134.6 413.2,135.2 421.6,138.5 422.9,146.4 414,150.6 403.2,150.3 402.2,142.6"/><polygon points="497.1,162.7 489.5,166.2 487.1,159.7 486.1,155.8 490.1,151.4 498.2,152.2 502,158"/><polygon points="452.8,262.2 445.2,261.8 442.2,257.9 439.4,252.9 445.4,247.1 453.4,251.4 458.4,256.9"/><polygon points="553.5,236.9 557.4,243.5 554.2,250.2 545.2,250.9 534.7,249 539.6,241.8 542.6,233.1"/><polygon points="285.6,194.7 283.6,189.1 279.6,182.7 288.9,183 298.1,181.8 301,189.2 294.9,195.1"/><polygon points="486.4,128.8 479.6,133.7 472.5,130 467.9,126.1 472.4,122.3 478.1,118.2 485.5,121.9"/><polygon points="168.3,239.5 158.5,236 155.8,231.2 156.7,226.8 162.2,220.6 168.6,226.3 175.5,232.4"/><polygon points="282.2,116.4 278.4,113.7 278.6,109.7 283.6,109.2 286.7,110.2 292,112.8 287.2,115.8"/><polygon points="463.7,293.9 469.4,295.7 473.2,300.4 470.2,307.5 459.4,307.9 457.2,300.7 455.9,294.9"/><polygon points="273.7,167.9 271.6,172.2 265.9,171.8 258.4,171.3 262.2,166.5 264.5,161.2 270.5,164.4"/><polygon points="485.8,134.3 478.3,139.4 473.2,145.5 463.7,142 461.5,134.2 468.9,129.2 476.5,131.7"/><polygon points="443.6,217.5 449.4,219.1 451.9,224.6 446.7,230.2 436.7,229.8 431.9,223.3 437.9,218.6"/><polygon points="333.6,211.3 328.9,216.9 321.9,212.9 316,208.2 320.5,201.9 329.2,202.4 337.2,205.3"/><polygon points="196,292.1 202.9,287.3 210.6,291.3 213.3,296.9 208.5,301.6 201.4,301.6 192.5,298.9"/><polygon points="426.4,198.7 430.4,196.5 433.6,199.4 434.5,203 430.4,204.8 426,204.2 422.9,201.3"/><polygon points="183.6,294.6 176.7,291.7 173.9,287.4 178.1,284.5 182.5,282.9 191.1,283.7 188.6,289.9"/><polygon points="337.8,229.6 331,229.7 327.8,226.1 325.6,221.5 332,220.4 337.1,221 340.9,224.8"/><polygon points="525,155.4 515.9,155.5 511,149 515.3,142.2 524.8,140.8 534.7,144.1 530.9,151.5"/><polygon points="332.7,252.7 324.6,250.3 324.5,243.9 328.5,238.2 339.5,236 341.2,244.3 343.2,252"/><polygon points="545.5,203.9 538.8,207.3 533.6,202.8 533.4,198.4 535.8,192.9 542.3,196 547.6,198.8"/><polygon points="478.3,202.1 483.3,198.6 490.7,200.3 492.9,206.2 488.2,211 481.7,208.7 477.8,206.3"/><polygon points="432.4,237.8 432.7,233.2 437.9,230.7 446.4,229.8 448.1,236.3 442.8,240.1 434.8,245.9"/><polygon points="433.2,136.9 437.5,129.4 444.9,124.4 456.8,125.7 453.4,134.2 452.4,141 442.3,141.9"/><polygon points="192.5,221.3 192.8,215.8 194.5,212.6 199.4,209.9 204.1,213.2 206.4,218.3 199.6,220"/><polygon points="487.5,178.4 489.4,184.4 483.2,189.4 473.8,188.3 468,182.1 471.4,174.4 481.3,175.5"/><polygon points="429.7,286.7 422.9,285.2 425.1,280.3 428.4,277.2 434.2,277.4 439.8,281 437.3,286.9"/><polygon points="520.5,144.3 514.3,146.6 509.3,142.8 510.5,138.2 515.1,136.4 520.1,136.7 525.3,140.3"/><polygon points="146.7,247.6 149.5,242.6 151.2,236.7 160.5,237.1 160.1,243.6 159.6,247.9 153.2,252.2"/><polygon points="220.5,180.9 215.2,182 210.2,179.2 212.4,175 215.7,168.1 225.7,170.6 225.9,177.8"/><polygon points="320.7,221.2 319.1,212.2 329.5,209.6 338.2,208.7 346.3,214.5 338.6,220.3 330.8,226.4"/><polygon points="357,247.8 357.9,243.5 359.1,238.3 365.5,240.4 369.6,243.3 369,248.2 362.8,248.6"/><polygon points="450.7,265.6 444,261.5 446.7,255.2 454.1,252.1 462.5,254.4 466.2,261.4 457.7,264.4"/><polygon points="220.7,310 223.8,305.6 228.3,304.4 232.8,305 237,308.7 232.1,311.9 225.6,314.7"/><polygon points="279.2,152.3 283.5,148.9 289.4,145.9 293.7,150.3 292.3,154.5 288.2,156.8 283.5,155.6"/><polygon points="179.9,191.4 183.4,194.1 188.4,199.9 179.6,201.5 171.3,201.5 166.9,195.2 174.1,191.2"/><polygon points="211.2,271.2 210.9,266.4 217.5,265.9 221.2,269.3 221,273.1 218,278.7 209.5,277"/><polygon points="272.4,162.2 265.8,158.4 273,155.1 277.4,152.6 283.4,154.7 284.2,160.1 278.4,162.6"/><polygon points="467.6,182.8 470.6,186.9 466.1,191.4 460.4,188.2 455,185.6 457.2,180.6 463.8,180.5"/><polygon points="315.2,231.4 323.7,232.7 328,238.5 322,242.6 315.9,245.8 308.4,242.4 308.4,235.6"/><polygon points="222.8,213.8 219.8,217.1 215.8,219.7 211.8,217 209.9,213.5 213.1,209.6 219.7,209.5"/><polygon points="217,239.2 211.6,234.9 217.4,231.3 220.9,226.9 227.3,229.5 228.8,234.7 223,236.8"/><polygon points="297.9,267.1 292.5,266.1 288.9,263.7 290.2,260.2 294.2,258.4 298.2,260 301,263.3"/><polygon points="285.1,116.3 283.3,113 287.2,111.2 292.9,108.9 293.7,113.7 293.9,117.7 288.6,118"/><polygon points="479.1,287 476.9,281.7 483.1,278.4 490.9,278.4 493.3,283.9 492.5,290.1 484.1,290.9"/><polygon points="262.1,181.6 264.2,185.2 260,188.3 253.6,188.2 253,183.7 252.4,178.9 258.7,179.5"/><polygon points="265.5,156.6 266.6,161.6 259.7,162 253.6,159.5 255,154.5 259.7,151.8 265.1,153"/><polygon points="377.5,157.6 383.6,153.8 391.2,155.9 392.4,161.4 387.9,164.2 382.7,166.1 380.1,162.3"/><polygon points="521.5,272.1 518.7,266.3 522,262.5 526.2,258.3 532,261.6 531.6,266.1 530.5,272"/><polygon points="256.5,158.7 255.5,164.2 250.7,169.3 241.4,168.1 237.3,161.6 245.1,158.5 250.8,154"/><polygon points="483.7,249.7 492,245.1 499.2,251.3 494.6,257.5 489.2,261.9 482.7,258.4 480.1,253.9"/><polygon points="425,232 419.7,235.8 410.5,240.7 403.2,233.6 409.6,227.4 415.5,222.9 425.2,224.7"/><polygon points="418.6,202.5 413.2,202.2 408.2,198.5 413,194.6 419.4,189.8 423.7,195.7 422.1,200"/><polygon points="416.6,246 419.4,238.2 427.4,232.8 437.6,236.2 437.1,243.3 434,248.6 426.5,248.1"/><polygon points="418.3,178.6 413.5,174.7 416.8,169 424.6,169.7 428.1,173.4 430.5,178.4 424,181.9"/><polygon points="385.6,274.2 396.8,276.9 395.6,285.6 388.6,290.8 380.4,288.5 375.3,284 377.5,278"/><polygon points="261.8,150.4 256.2,152.1 249.4,151.3 248,145.9 251.8,140.9 259.8,140.8 260.8,146.2"/><polygon points="437.1,309.2 433.5,310.5 426.7,309.9 426.8,304.4 433.3,303.5 436.8,304.5 438.9,306.8"/><polygon points="523.4,164 518.8,159 521.3,152 530.2,154.8 536.4,156.5 538.1,162.7 531.1,167.2"/><polygon points="421.2,153.6 414.7,153.2 413.8,148.3 416.7,144.6 422.1,144.8 427.3,146.8 427.6,152"/><polygon points="350.5,246.3 346.1,240.2 342.8,236.1 346,229.6 355,231.4 358.7,236.4 356,240.8"/><polygon points="295,256.6 305.1,256.8 311.1,259.9 314.4,265.6 309,272.2 298.8,270.4 292.3,264.5"/><polygon points="249.5,241.4 255.5,244.7 253.1,249.9 248.2,256.3 238.5,253 236.4,245.9 241.4,240.2"/><polygon points="478.3,189.4 475.9,194.2 470.7,196.7 466.2,194 464.7,190.6 467.9,188.3 473.1,185.8"/><polygon points="499.6,146 497.4,141.3 503.8,140.1 508.7,140.9 511.5,144.3 510.5,149.6 503,150.2"/><polygon points="437.6,246.7 435.3,241.8 431.9,237.7 437.2,233.9 444,235.6 445.3,240.1 444.6,245"/><polygon points="544.6,211.2 554,207.2 562.5,211.6 563.6,218 557.6,221 550.9,223 546.1,218.4"/><polygon points="446.9,205.2 440,203.8 435.4,199.6 440.3,196 445.1,193.8 448.6,197 449.3,200.4"/><polygon points="302.6,152.4 293.9,152.9 282.8,154 286.4,146.1 287.7,137.8 297.9,140.9 303.4,145.6"/><polygon points="176.4,229.2 181.6,229.8 186.5,231.9 185.8,236.7 179.9,236.7 173.4,237.8 171.5,232.5"/><polygon points="503.4,310.3 496.9,313.9 490.6,309.7 493.2,304.8 495.4,299.6 503.6,300.2 505.8,305.7"/><polygon points="432.2,287.2 439.2,290.3 439.4,297 431.3,297.9 426.1,297.1 421.3,293.4 425.7,289.2"/><polygon points="307.5,231.2 302.4,230.9 297.6,228.5 300.9,225.2 304.3,224 310.6,223 311.8,228"/><polygon points="431.8,231.8 425.7,233.6 421.5,229.8 421.6,225.3 426.9,224.2 434,222.3 433.4,227.9"/><polygon points="295.1,190.9 296.9,186 303.7,183.7 307.9,188.1 308.8,192.3 306.4,200.2 295,198.6"/><polygon points="516.7,152.9 518.5,157.1 513.1,159.6 505.7,159.6 503,154 505.7,147.7 515,146.7"/><polygon points="413.6,311.5 406.8,309.4 399.1,305.3 403.7,298.5 412.2,300.1 420.1,301.1 420.5,307.8"/><polygon points="492.5,119.9 485.7,121.9 479.5,119.5 477.7,114.3 482,109.6 488.7,111.6 494.9,114.4"/><polygon points="165.3,252 163.8,247.6 170.2,245.4 175.5,248.8 174.8,253.2 171.1,256 165.1,256.4"/><polygon points="219.1,197.1 212.2,197.7 208.8,194.1 206.4,189.7 212.2,187.7 218.7,187.3 220.5,192.1"/><polygon points="458,231.2 456.5,227.1 456.4,222.7 462.4,220.8 468.5,223.2 468.6,228.2 463.7,230.6"/><polygon points="245.8,268.8 255.5,268.4 263.9,271.2 262.5,277.9 256.1,280 248.4,281.9 241.1,276.3"/><polygon points="569.5,277.3 563.5,274.9 559.7,270.3 565.1,266.8 571.8,264.8 578.1,268.8 574.4,274"/><polygon points="244,213.2 244.4,219.9 240.2,224.8 231.7,226.6 226.6,221.1 230.5,216.3 235.1,212.8"/><polygon points="183.3,240.5 189.3,237.3 193.2,241.9 198.2,247.6 190.8,252.9 183.1,248.9 175.8,244.6"/><polygon points="234.5,231.1 242.1,234.8 243,241.4 236.2,244.6 226.5,247.5 222.5,240 224.1,232.1"/><polygon points="180,262.1 181.3,255.2 185.2,251.2 191.5,251.6 195.8,254.8 194.5,259.3 189.3,262.8"/></g>
<g fill="#4da83d"><polygon points="320.3,200.9 317.1,195.4 318.2,188.4 327.7,188.1 336.3,190.9 333.2,197.4 327.7,200"/><polygon points="227.7,285.9 226.1,281.8 223.7,278.4 228.5,276.9 232.4,278.1 237.1,280.8 233.8,285"/><polygon points="374.6,276.3 376.7,281.6 374.3,287.4 366,287.2 360.3,283.5 362.2,278.3 367.7,276.1"/><polygon points="189.2,234.7 186.8,239.1 181.1,240 176.4,237.9 170.9,232.5 179.1,229.6 186.1,230.1"/><polygon points="227.7,250.9 230.7,255.1 224.5,255.8 219.9,254.6 218.2,251 221.7,248.6 227,246.2"/><polygon points="365,206.2 373.1,209 378.2,211.5 377,216.2 372.1,220.2 365.9,217.3 359.4,212.5"/><polygon points="226.9,180.8 223.5,176.6 223.4,171.4 230.1,170.7 236.9,171.1 238.8,176.6 233.1,179.6"/><polygon points="389.2,290.5 393.4,293.8 388.9,296.8 383.4,299.4 378.3,295.7 380.9,291.4 385.1,290.6"/><polygon points="421.9,216.5 422.8,220.6 418.2,222.4 412.4,223.5 410.1,219.2 413.5,216.3 417.9,212.4"/><polygon points="318.4,275.3 323.1,270.9 328.9,274.1 331,276.9 331,281 325.5,281.2 318.8,280.8"/><polygon points="289.4,171 286.2,169 286.1,166.1 288.7,164 293.7,163.3 294,167.1 293.9,170.3"/><polygon points="485.9,142.3 480.4,142.5 476,143.4 473.9,139.9 475.9,136.4 480.9,136.2 484.4,138.3"/><polygon points="345.4,269.6 341.6,267.5 340.3,263.9 344.4,261.8 350.1,260.6 350.4,265.1 351.3,269.4"/><polygon points="272.4,189.2 264.4,192.4 258.3,187.4 256.3,181.1 262.6,174.9 272.7,177.1 273.6,183.7"/><polygon points="293.7,213.5 290.4,219.9 282.2,221.3 274.8,218.5 272.8,211.9 279.5,207.1 286.4,210.4"/><polygon points="233.3,187.7 230.2,181.2 229,174.9 237.3,170.6 247.6,173.2 247.6,181 242.6,186.3"/><polygon points="217.1,292.6 210.9,293 206.6,290.8 207.2,287.3 209,282.7 215.3,284 219.3,287.8"/><polygon points="316.4,199.7 313.3,203.7 307.8,201.3 303.3,196.9 307.9,192.1 315.5,191.9 320,196"/><polygon points="244.4,228.5 240.4,224.9 236,220.8 241.8,217.3 247.8,218.4 254,221.3 252.3,227.5"/><polygon points="408,254.2 403.9,251.4 407.7,247.8 413.4,248.6 416.1,251.8 415.5,255.7 410.6,255.5"/><polygon points="223,197.3 230.7,198.1 234.5,204 227.5,207.3 221.6,208.7 215.7,205.5 215.8,199.5"/><polygon points="265.7,217.7 264.9,222.8 258.3,223.2 254.8,220.9 250.7,217.4 256.4,215.5 262.1,213.3"/><polygon points="481.4,288.8 485.8,287 489.2,289.9 488.9,293.3 486.1,297.4 481.2,294.6 476.7,291.7"/><polygon points="223.9,186.7 218.1,189.3 212,188.2 209.9,184 209.8,177.7 218.3,178.2 227.7,180"/><polygon points="282,250.1 289.3,249.8 286.5,254.8 283.9,259.1 278.2,257.1 277.2,253.7 276.6,249.7"/><polygon points="198.3,273.1 194.6,276.2 188.9,276 185.3,272.4 189.4,269.6 193,265.7 198.6,268.6"/><polygon points="224.4,298.4 221,294.8 226.4,293.1 231.1,292 235.7,295 232.6,298.9 228.1,299.9"/><polygon points="503,139.4 498.5,137.1 501.3,133 507.1,133.5 510.4,136.2 510.2,139.8 505.9,141.2"/><polygon points="379,235.2 373,233 375.8,228.5 379.6,225 386.9,225.6 392.2,231.1 386.3,236.4"/><polygon points="534,155.6 539.2,157.1 543.7,160 540.9,164.1 535.4,166.1 533.2,162 529.2,158.7"/><polygon points="534,145.7 525.7,141.9 524.3,134.8 532.8,133 538.3,132.9 544,136.3 540,140.9"/><polygon points="520.9,101.8 519.7,108.5 512.3,111.9 503.9,110.2 503.9,104.2 506,99.1 514,97.7"/><polygon points="508.7,217.5 517.6,221.2 519.2,228.6 510.8,230.9 504.5,231.5 499.6,227.5 504.1,223.7"/><polygon points="254.4,294 259.5,289.9 265.5,286.4 274.9,289 271.4,295.9 266.9,301.2 257.2,300.8"/><polygon points="345.3,190.7 339.3,190.3 336.8,186.8 336.9,182.8 342,178 349.8,181.2 349.6,187.1"/><polygon points="181.3,201.3 187.8,201.5 191.7,203.6 194.5,207.9 189.4,211.6 182.9,210.3 181.4,206.1"/><polygon points="492,305.4 497.7,304.3 503.4,305.8 504.2,310.6 498.8,311.9 495.4,311.4 490.1,309.8"/><polygon points="238.6,300.3 240,293.7 242.7,288.5 249.8,290.2 257.1,292.7 252.6,297.7 247.5,301.3"/><polygon points="279.8,135.5 285.1,132.1 290.1,129.5 296.1,132.1 298.8,138.2 290.6,139.9 285.6,138.6"/><polygon points="183.5,203.8 180.5,199.6 178.7,196.3 181.8,192.8 187.2,194.1 193.8,196.7 188.7,200.9"/><polygon points="245.2,191.4 247.5,195.9 250.6,203 240.7,202.7 236,199.4 232.7,194.8 236.9,188.7"/><polygon points="298.5,268.8 308.1,269.9 310.2,275.5 312.7,281.4 304.5,282.4 295.5,282.4 292.2,275.1"/><polygon points="341.7,250.6 345.6,247.5 349.3,250.6 351.1,252.7 350.9,256.5 345.6,256.9 342.3,254.3"/><polygon points="160.4,262.5 163.3,266 165.4,270.4 159.8,273.9 153.1,271.9 154,267.3 154.8,263.7"/><polygon points="377.4,288.6 383.5,290.1 382.8,295.4 377.6,299.9 368.7,298.8 370.7,292.4 369.6,286"/><polygon points="340.5,270.4 342.7,264.6 351.9,262.8 358.2,268.3 356.7,274.9 349.1,276 340.8,276.7"/><polygon points="413.3,258.3 410.9,262.5 405.3,260.8 401.6,258.2 402.5,254.1 407.7,253.4 412.4,254.5"/><polygon points="287.6,247 283.1,245.3 278.7,244.1 280.3,240.7 284,239.2 288.1,240.2 289.1,243.3"/><polygon points="492.4,297.6 498.8,300.7 503.7,303.2 500,306.6 496,311.1 488.3,308.7 491,303.2"/><polygon points="333.9,234 329.4,236.9 323,237.4 317.6,233.1 323.8,229.6 328.2,226.5 333.5,229.4"/><polygon points="192.4,242.4 193.8,245.6 191.5,248.3 186.4,250.6 181.2,247.4 181.7,242 187.9,240.4"/><polygon points="432.6,172 425,172.6 419.3,170.6 420.3,166.3 422.2,162.1 427.9,163.5 435.4,165.8"/><polygon points="222.8,199.7 227.8,198.1 230.9,201.2 232.3,204.7 228.1,206.4 223.1,206.8 219.2,203.3"/><polygon points="216.2,251.1 209.4,251.1 207.6,245.5 212,240.6 220.6,239.8 223.5,245.6 224.6,251.8"/><polygon points="451.6,141.7 452.6,136.6 458.7,135.3 463.8,136.8 465.2,140.7 462.8,144.8 457.8,142.7"/><polygon points="460.4,203.2 464.9,206.3 463.7,212.3 455.9,210.9 449.8,209.2 451.5,204.4 455,199.7"/><polygon points="301.3,186.5 297.9,191.1 294,195.1 284.8,195.2 287.1,188.5 288.3,183.7 295,183.8"/><polygon points="431.2,135.6 426.7,135.1 422.4,132.7 426,129.8 429.4,127.4 434.8,128.7 432.3,132.5"/><polygon points="257.4,265.4 256.4,268.6 251.8,271 248.9,267.6 248.2,264.6 250.8,261.9 256.4,261.3"/><polygon points="500.6,221.9 507.1,220.3 511.3,221.8 512.8,224.3 512.8,228 507.2,230.9 501.1,227.6"/><polygon points="452.8,141.6 446.2,141.8 447,136.9 446.9,132.9 452.4,133 458,134.4 458.9,139.5"/><polygon points="491,165.6 487,169.2 480.1,172.5 474.9,167.5 474.9,161.3 482.5,160.7 487.7,161.7"/><polygon points="466.9,241.9 468.3,235.9 473.7,230.1 481,234.5 485.1,239.1 482.7,245.6 473.9,244.9"/><polygon points="358.6,197.4 358.8,194.2 361.2,191.6 365.7,192 369.5,194.7 365.8,197.4 362.1,201.4"/><polygon points="283.4,279.7 287.4,277.8 290.3,280.8 291.1,285.1 285.5,287.6 280,285.4 278.9,281.2"/><polygon points="306.1,217.7 312.5,221 311.6,225.6 310.1,229.7 303.8,229.9 297.8,226.8 301.7,222.3"/><polygon points="307.1,250.4 311.4,246.7 316.5,246.3 322,247.6 322.8,252.5 317.9,256.8 311.2,254.5"/><polygon points="238,291.4 232.6,294.3 225.7,295.2 224,290.1 227.2,287.2 230.9,284.9 236.7,286.4"/><polygon points="239.5,238.8 244,236.3 245.9,240.3 246,243.7 241.9,247.6 238.2,243.4 237.3,240.8"/><polygon points="376.4,188.8 381,191.4 380.5,196.3 374.3,197.1 369.9,195.4 365.4,191.4 369,185.4"/><polygon points="513.9,157.2 510.5,161.6 505,161 501.6,159.4 498.3,155.5 503.9,153.4 509.8,153"/><polygon points="213.8,250.3 209.7,252.2 204.4,250.9 202.4,246.4 205.6,241 212.3,244 215.3,246.9"/><polygon points="371.7,134.5 373.1,131.1 377.9,130.8 379.7,133.6 380.9,136.3 377.2,137.2 374.3,136.6"/><polygon points="524.5,294.6 532.3,297.2 535.1,303 529.9,307.3 521.6,310.7 517,304.4 515.2,297.2"/><polygon points="297,135.5 302.8,137.3 304.6,140.9 305.2,146 298.3,145.4 290.5,144.9 292.1,139"/><polygon points="464.9,155.7 459.7,149.3 453.5,144.9 460.4,141.2 468.9,137.8 473.7,144.2 473,151"/><polygon points="378.4,271.4 379.4,267.3 380.8,264.2 385.3,264.2 388.1,266.6 387.9,269.8 384,270.7"/><polygon points="397.1,181.4 395.8,187.3 388.6,191.3 379.6,188.6 380.4,181.9 383.4,175.8 391.6,177.6"/><polygon points="258.3,158 251.9,160.1 247.9,160.9 240.8,159.7 242.2,153.9 249,154 253.4,154.4"/><polygon points="462.3,132.4 458.8,138.4 451.3,135.6 442.8,134.8 444.1,128.1 451.8,126.9 458.1,127.6"/><polygon points="295.4,142.6 292.6,144 289.4,143.8 284.8,141.7 288.2,138.5 292.3,138.7 297.8,138.9"/><polygon points="506.2,189.1 510.3,183.4 518.8,182.8 523.4,187.5 523.7,193 517,194.1 509.3,195.1"/><polygon points="305.7,141.7 306.5,146.3 301.1,149 296.3,146.8 291.1,143.6 294.5,138.5 300.9,140.3"/><polygon points="160.8,254.5 162.8,258 159.7,260.7 155.2,262.1 152.4,259.2 153.8,256.4 156,253.3"/><polygon points="534.8,240.4 537.7,243 536.4,246.8 531.4,246.6 527.8,245 523.9,240.7 530.2,238.1"/><polygon points="288.9,144.1 296.3,143.8 299.5,148.7 298.7,153.9 291.9,155.5 288.5,151.8 287.2,148.8"/><polygon points="432,260.4 436.5,256.5 442.9,257.7 445.9,261.3 445,265.8 439.1,267.8 435.4,264.3"/><polygon points="341.7,211.3 335.2,206.1 335.8,199.9 342.3,196.7 348.1,199.1 351.6,202.8 348.7,207.1"/><polygon points="272.8,194 271.7,199.3 271.9,205.4 262.9,206.2 261.2,200.2 258,194.9 265.2,191"/><polygon points="512.5,303.7 519.1,302.2 523.8,305.7 525.4,310.7 519.6,313.5 514.2,311.8 508.9,308.5"/><polygon points="306,267 310.9,271.9 312.3,277.4 306,280.6 297.2,281.3 296.2,274.8 298.4,269.7"/><polygon points="478.4,105.3 484.4,100.8 491.3,103.4 498.8,106.8 494.3,112.8 486.8,113.5 482.6,110.2"/><polygon points="400.5,178.8 394.6,175.6 391.7,171.4 395.8,167.8 401.2,168.1 410,169.2 405,174.6"/><polygon points="305.9,157.8 312.3,159.1 311.8,164.3 307.2,168.2 301.3,165.9 299.2,162.4 300.3,158.3"/><polygon points="515.3,215.2 515.1,219.7 509.2,219.4 506.8,216.6 505.1,213.4 509.2,211.8 513.3,212.4"/><polygon points="535.6,295.3 542.6,295.4 549.1,298.2 547.6,303.9 541.9,308.6 533.9,305.9 530.5,300.1"/><polygon points="343.7,208 347.1,214.2 348,218 345.1,222.6 337.3,222.4 330.3,217.4 336.9,212.3"/><polygon points="475.2,209.4 478.8,211.5 479,214.4 478,218.8 471.3,218.8 467.8,214.6 468.5,209.5"/><polygon points="365,210.5 358,211.8 357.2,206.4 360,202.8 365.7,200.7 371,204 371.2,209.2"/><polygon points="484.2,155.5 488.4,152.5 493.5,149.5 495.5,154.1 496,157.2 492.8,159.7 488.6,158.2"/><polygon points="408.3,210.4 413.1,211.4 416,215.3 411.4,218.2 407.1,217.2 403.8,215.5 405.2,212.6"/><polygon points="534.4,139.3 533.4,135.5 538.7,135.7 542.1,136 543.6,138.7 540.9,140.7 537,142.1"/><polygon points="371.9,229.7 377.2,227.5 385.5,225.4 387,231.9 383.9,236.6 376.9,239.1 369.4,235.7"/><polygon points="432.3,288.9 438.2,288 446.1,290.2 441.9,295.7 437.4,301 431.4,296.6 428.2,292.5"/><polygon points="541.8,258 536.2,259.7 533.4,255.8 531.5,251.9 536.5,249.4 540.5,251.8 544.7,254.2"/><polygon points="300.9,191.2 306.4,192.6 307.5,195.8 307.5,198.8 303.3,201.9 297.2,199.8 298.6,195.2"/><polygon points="330.8,167.6 325.6,169.7 320.9,167.9 315.5,164.1 320.7,159.9 327.8,158.7 332.5,162.9"/><polygon points="233.7,145.5 237.7,145.1 243.5,145.4 241.1,149.4 239.7,154.1 234.3,151.5 230.4,148.7"/><polygon points="278.1,209.6 282.5,205.3 289,206.9 294.1,210 293,215.7 285.8,216.6 280.4,214.3"/><polygon points="252.7,177.2 245.2,174.6 245.7,168 252.2,162.7 258.8,167.5 262.2,171.4 258.9,175.4"/><polygon points="202.8,172.4 209.4,175.4 204.4,179.9 199.1,182.8 194.7,179.2 193.1,175.2 195.7,169.2"/><polygon points="467.5,204.8 461.4,208.8 456.5,204 453.2,199.5 458.1,195.2 464.7,196.6 469,200"/><polygon points="248.6,211.3 251.9,207.4 259,208 261,213 259.1,217.9 252.5,217.8 249.8,214.6"/><polygon points="178.8,254.9 179.3,249.2 184.1,244.6 193.8,244 193.9,251.1 193.3,256.7 186,255.5"/><polygon points="304.6,218.1 298.4,219 293.5,215.2 297.3,211.1 301.9,210.1 306.1,211.3 306.1,214.6"/><polygon points="537.3,274.5 538.3,278.3 534.5,281.2 528.8,281.1 528,277.1 528.8,274 533.1,272.3"/><polygon points="424.2,262 418.8,260.7 413.5,257.8 416,252.6 422.8,250.8 429,253.7 429.4,259"/><polygon points="520.6,120.1 520.7,122.6 519.1,125.3 514.8,125.1 512.5,122.5 514,119.7 517.5,117.8"/><polygon points="558.7,276.9 561.4,275.3 566.4,274.1 569.3,278 566.9,282.3 561.6,280.5 559.4,279.2"/><polygon points="293.7,169.5 296.3,173.6 290.2,174.2 286,175 285.1,171.9 283.7,167.5 290,166.1"/><polygon points="180.5,162.9 186.8,158.9 194.4,161.8 199.5,167.8 191,170.7 184.1,173.5 175.8,169.4"/><polygon points="416,287.8 408,288.1 400.8,289 402,283.5 404.3,280.6 409.8,277.8 413.7,282"/><polygon points="211,185.5 215.9,188.9 215.2,193.7 210.9,198.5 204,195.7 199.1,191.1 205.4,187.7"/><polygon points="241.8,211.1 241.3,215 238,216.5 234.4,217.2 232.1,214.7 233,211.9 236.7,210.4"/><polygon points="386.3,147.2 387.8,141.1 396.2,142.3 398.3,147.1 399.1,152 392.7,152.2 387.2,151.6"/><polygon points="545.5,177.1 542.9,182.4 534.6,182.7 531.7,177.4 530.6,171.5 538.4,168.5 542.5,173.6"/><polygon points="502.5,141.3 504.2,137.5 509.4,132.5 516.9,136.4 515.5,142.2 512.1,147.4 504,146.4"/><polygon points="235.3,304.6 229.5,301.7 223.2,297.8 230.1,294.4 236.8,289.4 244.1,294.6 240.5,300.8"/><polygon points="553.8,188.9 554.3,192 552,195.6 545.6,196.1 540.5,191.9 545.3,187.8 550.1,187"/><polygon points="567.1,186.9 562.3,186.2 559.9,183.5 560,179.9 564.8,178.4 571.6,178.9 570.4,183.9"/><polygon points="373,230.3 366.9,227.7 364,220.6 373.1,216.2 381.7,219.8 386.1,225.8 379.5,230.2"/><polygon points="492.4,225.3 484,222.4 480.3,215.8 487.1,211.1 494.5,211.9 499.4,215.4 500.2,221.6"/><polygon points="333.5,168.6 339.3,170.5 334.3,173.4 330.6,175.3 327.1,172.9 327.6,170 330.1,168.2"/><polygon points="265.7,215.9 272.6,211.2 280.7,208.2 284.2,214.4 284.6,219.5 278.5,221.8 271.8,221"/><polygon points="311.9,143 321.4,141.2 324.4,147.4 329.6,152.6 321.1,153.6 315.3,153.8 312.4,149.7"/><polygon points="237,174.8 237.5,171.1 242.7,168 245.3,172.6 246,175.2 243.6,177.4 239.6,177.3"/><polygon points="210.1,283.9 208.2,277.3 209.6,271.6 217.4,268.7 225.1,272.5 224.8,278.9 218.7,282.1"/><polygon points="222.9,181.6 218.1,188.2 209.8,186.3 202.7,185.3 198.9,178.2 208.3,175.2 216.9,175.7"/><polygon points="403.9,217.9 404.4,211.6 412.8,212.4 419.2,214.6 421.4,221 413.2,222.6 408.1,221.2"/><polygon points="391.1,243.7 381.9,240.9 383,232.8 391.9,228.8 399,233.1 406,238 397,241"/><polygon points="192.8,217.2 187.1,217.1 184.3,215.2 180.8,212.1 185.9,210.8 190.7,209.1 192.2,213"/><polygon points="258.8,280.5 258,283 254.9,284.5 248.4,285.1 249.9,280.4 252.7,277.9 257.2,277.4"/><polygon points="152.1,220.9 154.2,226 152.4,230.6 146,233.5 141.9,228.9 138.4,224 145,221.4"/><polygon points="483.5,289.6 482.1,285.7 485.5,282.9 490.5,282.1 495.6,284.8 494.4,289.7 488.5,290.1"/><polygon points="340.2,284.6 339.5,288.6 336.1,290.8 330.9,291.1 328,287.5 330.6,284 335,284.6"/><polygon points="344.8,153.2 350,157.3 343.4,160.1 336.9,161.3 332.6,157 333.8,151.6 340.6,149.2"/><polygon points="249.9,239 248.9,241.9 245.3,243.4 241.9,241.8 240.7,239 242.4,235.6 248.3,234.9"/><polygon points="143.5,228.8 145.7,224.2 151.9,225.8 153.8,229.3 154.8,233.8 148.5,234.7 143.2,232.9"/><polygon points="289.2,155.8 286,152 289.2,148.1 295,147.2 297,150.9 296.4,153.3 294.4,156.3"/><polygon points="303.4,264.5 307,270.1 312.1,274.7 306.5,280.1 298.8,277.2 297.1,273 294.6,266.8"/><polygon points="277.2,248.7 277.3,254.1 276.9,258.7 270.7,258.1 267.2,256 264.1,251.7 270,249.3"/><polygon points="565.8,193.4 561.1,198.1 558.8,202.6 553.9,199.6 549.3,196.8 552.7,192.8 558.8,190.3"/><polygon points="455,241.2 457.2,237 461.3,233.2 469.5,233.9 467.7,239.9 466,244 458,248"/><polygon points="451,143.8 458.7,143.9 460.5,149.3 460.5,155.1 452.6,155.9 447,152.8 444.2,147.2"/><polygon points="409.8,209.1 404.9,211.1 400.6,210.3 399.3,207.5 400.5,205.1 403.9,203.6 407.7,205.2"/><polygon points="519.2,308.5 511.9,305.5 507.8,300.3 514.2,297.2 519.1,297.1 522.8,299.2 522,302.7"/><polygon points="373.9,200.8 380.8,201.8 390.2,201.9 387.6,208.6 381.1,210.1 373.8,211.7 367.9,206.2"/><polygon points="168.1,244.6 165.3,247.8 160.3,250.1 155.2,247.1 156.1,242.5 160,238.2 168,239"/><polygon points="368.5,173.6 363.6,169 370.4,166.1 376.7,165.6 383.2,169.2 379.1,174.3 373.2,175.3"/><polygon points="405.8,193.9 399.8,195.7 391.4,194.7 392.5,188.3 398.3,186.1 404.4,185.1 406.3,189.5"/><polygon points="183.2,185.2 179.3,179.7 181.8,174.1 189.5,170.3 194.1,176.1 194.5,180.5 190.7,184"/><polygon points="298.6,154.8 293.5,153.6 289.8,150.6 293.3,147.7 297.2,146.1 300.5,148.3 303.7,152.1"/><polygon points="254.5,152.5 257.1,149.2 261.9,150.7 265,153.7 262.7,157.2 257.5,159.5 254.8,155.5"/><polygon points="521,122.8 525.9,121.8 529.8,125 527.2,128.7 522.7,132.8 518.7,128.4 516,124.7"/><polygon points="224.1,247.5 230.1,250.8 231.5,257.3 223.4,259.2 214.8,259.9 215.1,253.4 217.4,249"/><polygon points="458.1,227.3 457.8,223.3 460.4,220.9 464.2,220.8 468.7,222.3 465.7,225.2 463.4,228.5"/><polygon points="267.2,190.6 270,196.5 269.2,200.7 265.3,206.6 257.4,203.2 256.5,197.7 259.4,193.1"/><polygon points="332.5,268.6 325.9,266.9 328.3,262.1 330.7,256.3 337.9,259 341.7,263.3 341.2,269.9"/><polygon points="153.4,275.7 154.1,270.8 154.8,267.5 160.1,264.5 164,268.5 164.5,272.7 159.4,273.6"/><polygon points="533.3,165.8 539,165.8 544,166.9 543.1,170.7 541.9,176.2 535.8,173 529.8,170.5"/><polygon points="373.8,195.3 374.5,199.1 373.1,202.7 368.2,202.1 364.1,200.5 364.7,196.8 368,192"/><polygon points="341.9,269.4 339,266 338.9,261.7 344.5,261.4 349.8,261.7 348.4,265.5 347,268.6"/><polygon points="378.2,187.8 379.5,195.1 369.9,196.1 363.4,194.6 356.5,189.4 364.7,185.4 373,181.3"/><polygon points="536.3,147.2 534.1,149.4 530.2,148.5 527.7,145.4 531.2,142.9 534.9,143.4 538.2,144.8"/><polygon points="437.8,229.8 439.6,226.4 442,224.2 447,223.7 449.9,227.3 446.1,230 442.6,230.2"/><polygon points="244.9,272.8 238.6,274.3 232.8,271.2 233.7,266.1 239.2,264.5 245.2,264 249.1,268.5"/><polygon points="273.9,263.7 275.7,261.8 278.9,261.1 281,263.1 280.7,265.5 278,267.5 272.3,267.8"/><polygon points="353.8,235.3 349.5,234.6 346.3,231.6 348.5,227.5 353.8,228.3 358.7,229.5 357.7,233.5"/><polygon points="455.2,312 450.4,315.3 444.5,313.9 440.9,310.1 442.4,304.9 449.3,305.7 453.8,307.6"/><polygon points="490.3,187.7 482.5,187.6 475.3,183.6 477.7,176.7 486.1,175.2 491.4,178.4 492.4,182.6"/><polygon points="447.4,287.4 452.8,284 458.3,288.2 455.5,293.2 450.2,296.2 445.5,293.1 443.7,289.6"/><polygon points="321.5,275.6 311.5,274.1 309.7,268 307.5,261.5 316.5,261.1 321.1,264.3 324.7,268.6"/><polygon points="183.2,302.9 178.6,302.8 177.1,299.1 180.7,296.8 185.7,295 190.7,298.2 186.6,301.8"/><polygon points="338.3,162.8 336.7,167.4 334.2,171.5 327.6,171.2 324.1,166.9 327.2,163 332.2,161"/><polygon points="275.5,225.8 277.9,221.2 282.4,218.6 288.6,219.5 293.2,224.3 289.1,230.2 280.6,229.8"/><polygon points="524.6,210.3 519.3,212 515.7,208.8 514.3,204.7 518.9,201.6 523,204.5 526.2,206.7"/><polygon points="422.6,274.3 427.6,271.8 430.9,275.6 432.3,280.2 426.7,282.5 421.6,280.6 420.6,277.1"/><polygon points="263.1,144.9 260.3,148.7 255.5,148.2 249.5,147.9 250.9,143.6 254.4,140.8 258.6,142.5"/><polygon points="395.8,187.2 390.9,192.9 382.7,191.5 378.1,187.8 378.7,182.6 384.9,179.7 392.8,180.9"/><polygon points="491.3,164.2 493.6,168.1 488.3,170.1 483.9,168.3 482.3,165.4 484.6,162.9 488.9,160.9"/></g>
<g fill="#5ab748"><polygon points="189.7,318.3 184.6,315.9 184.5,312.3 185.5,308.1 192.3,306.6 196.4,311.1 196.5,316.5"/><polygon points="415.9,271.2 414.3,273.9 409.8,273.4 410,270.2 410.7,267.9 414.4,266.3 417.4,268.7"/><polygon points="154.5,222.4 158.6,219.7 164,221.2 163.1,225 163.1,229.3 157.5,228.5 153,226.3"/><polygon points="240.3,169.8 237.2,173.4 232.4,173.2 228.9,171.6 229.6,168.7 231.7,165.2 236.7,166.5"/><polygon points="478.7,181.7 477.1,179.9 478.5,177.9 481.3,177.3 485,178 482.9,180.5 481.5,182.2"/><polygon points="389,149.3 394.3,149.9 394.1,153.9 391.8,156.9 386.2,158.2 385.2,154 384.2,150.5"/><polygon points="359.7,264 364.1,262.7 367.7,265.4 367.1,269.1 362.9,270.4 359.7,268.9 356.6,266.5"/><polygon points="325,156 328.4,158.7 324.8,161.4 319.9,161.7 317.1,158.7 317.4,154.9 322.3,155.4"/><polygon points="371.7,252.6 373,255.1 369.9,256.4 366,257.3 363,254.4 366.4,252.1 369.6,249.4"/><polygon points="342.4,289.5 346.5,290.4 347.8,293.6 346.5,297.8 341.1,296.2 336.3,294.5 337.4,290.3"/><polygon points="567.8,289 563.9,292.8 558,292.6 555.6,289.2 557.3,286.6 559.8,283.6 565.8,284.3"/><polygon points="531.9,283.9 538.1,283.7 542.1,287.3 540.8,291.6 535.8,295.3 531.7,291.1 526.9,287.6"/><polygon points="352.4,275.1 346.6,277.3 346.9,272.3 346,268.3 351.5,268.4 356.2,269.5 358.1,273.8"/><polygon points="530.9,261.5 533.5,264.9 530.6,268.1 526.4,267 521.3,266.7 522.8,263 526.3,260.9"/><polygon points="376.9,220.8 372,220.6 369.4,219.3 369,217.2 369.7,213.7 374.4,214.5 377.8,216.9"/><polygon points="407.9,247.2 405.8,250.3 401.3,251.5 398.8,248.5 395.1,244.4 401.5,243.2 407.1,243.1"/><polygon points="177.5,227 175.9,230 170.4,231 169.4,226.9 169,223.5 173.6,223.5 178.3,223.5"/><polygon points="421.1,175.8 417.9,173.9 414.8,170.7 418.4,166.9 424.9,167.1 426.1,171.4 424.4,174"/><polygon points="469,235.8 473.8,234.6 475,238.3 477.5,243.1 470.6,245.1 467,241.1 464.4,237.7"/><polygon points="500.6,166.9 496.5,168.3 491.8,170.9 488,167.1 490.9,163.4 495.1,160.2 498.4,164"/><polygon points="371.8,221.1 375.6,219 379.2,221.5 380.1,225.3 375.6,226.8 371.1,226.7 370.2,223.5"/><polygon points="229.3,194.9 228,197.6 223.3,197.7 222.7,194.5 223.4,192 226.7,190.8 230.5,192"/><polygon points="178.1,298.6 182.3,300.1 182.2,303.6 179.1,305.5 175.2,305.4 174.2,302.8 173.4,299.4"/><polygon points="176.9,210.6 180,213.1 179.5,216.8 174.8,217.2 169.1,217.5 168.4,213 173,211.4"/><polygon points="444.8,133.8 442.9,136.8 440.6,138.3 436,139.3 435,135.7 437,133.2 440.8,132.2"/><polygon points="223.6,222.5 218.4,220.1 219.3,215.1 225.2,212.5 231.3,214.7 232.5,219.3 230,224.2"/><polygon points="525.1,117.8 521.3,116 517.7,114.3 520.6,112 523.4,111.3 526.1,112.3 525.7,114.4"/><polygon points="489.2,237.1 487.7,233.6 491.6,231.5 495.8,231.9 496.6,234.7 497,237.5 492.9,239.3"/><polygon points="525.3,156.8 521.1,155.8 518.3,153.2 520.7,150.4 524.3,150.5 527.5,151.3 528.1,154.2"/><polygon points="328.3,255.8 332.9,256.9 333,260.6 329.4,262.1 324.9,263.6 323.4,260.1 325.8,258"/><polygon points="221.9,158.4 223.9,161.2 226.2,164.6 221.1,164.6 216.4,165.9 215.4,162.1 216.9,158.7"/><polygon points="192.4,279.6 189.3,281.4 185.9,281.2 183.4,279.2 184.9,276.8 188,275.1 192,276.3"/><polygon points="339.9,242.1 341.8,244.9 339.3,248.9 334.4,246.4 333.1,244 332.8,240.7 337.4,239.3"/><polygon points="431.1,228.6 435,230.4 433.5,233.4 430.9,234.5 427,235.5 425.3,232.4 428,230.4"/><polygon points="438.4,151.8 439.5,154.9 436,156.2 433.4,155.8 429.4,154.7 431.1,151.7 434.9,149.6"/><polygon points="269,313.3 268.7,309.9 272.4,308.9 275.9,308.3 278.3,310.8 275.7,312.8 272.9,315.1"/><polygon points="544.3,160.9 541.4,162.5 537.6,163.8 536.1,160.9 535.9,157.9 539.8,157 543.4,158"/><polygon points="265.4,118.9 264.8,115.6 269.3,114 273.2,116.3 273.7,119.6 270,120.5 266.6,121.5"/><polygon points="527.7,222.8 529.4,220.2 533.2,218.7 537,220.7 537.1,224.2 532.9,224.6 529,225.9"/><polygon points="517.4,307.7 521.4,307.6 520.2,310.5 519.3,312.6 516,312.8 514,310.8 513.4,307.8"/><polygon points="218.9,196 225,194.3 224.7,199.1 225,204 217.8,205.4 214.4,201 214.6,197.2"/><polygon points="207,276.2 212.8,279 213.8,282.4 214.6,287.1 208.1,287.6 204.2,284.7 202,280.2"/><polygon points="375,216.9 370.1,214.9 367.6,213 367.6,209.9 371.5,207.1 376.2,209.3 378.5,213.2"/><polygon points="196.6,271.4 199.8,269.1 205.8,267.7 205.3,272.5 206.9,277.1 200.6,276.5 197.2,274.5"/><polygon points="483.4,177.8 482.8,175.4 485,173.7 488.4,173.5 488.9,176 488.3,177.6 485.9,180.4"/><polygon points="561.8,181.8 558.9,180.5 558.1,177 562.6,174.7 565.9,177.6 567.7,180.1 564.8,181.9"/><polygon points="399.4,178.3 403.7,180.2 408.6,181.4 407.9,185.7 402.4,187.3 397.6,185.6 398.3,182"/><polygon points="561.3,232.8 557.1,230.9 552.6,228 555.7,223.7 561.7,223.5 566.2,226.1 566.7,230.8"/><polygon points="239,282.7 237.7,286.3 233.3,288.4 230.3,285.5 227.2,282.8 230.5,279.7 235.7,279.7"/><polygon points="488.2,277.3 492.4,273.3 497.1,270.4 503,272.8 501.4,277.2 498.6,279.5 492.7,281.7"/><polygon points="428.4,150.4 431.7,146.8 437.1,144.2 442.6,147.5 439.5,151.6 437.5,155.7 431.7,154.1"/><polygon points="485.5,255.4 484.2,259.5 478.4,260.8 475.4,257.2 473.2,253.2 478.5,251.1 482.9,252.6"/><polygon points="431.4,261 427.1,259.1 424,258 422.9,254.5 427.6,253.5 431.9,254.2 432.8,257.4"/><polygon points="262.8,259.1 256.1,259.3 252,258.7 247.8,255.6 250.5,250.6 257.6,250.4 260.3,254.5"/><polygon points="521.2,136 519.9,138.8 516.7,140.3 513.4,139 509.8,136.1 514.4,134.1 517.8,134.7"/><polygon points="453.1,174.5 447.8,174.3 449.5,170.6 452.5,169.4 455.8,169.1 457.9,171.4 456.2,173.7"/><polygon points="400.7,140.7 405.9,140.4 409.5,140.7 411.1,143.4 409.5,146.3 405,147.1 403.5,144.1"/><polygon points="339.2,171.2 341.2,168.2 345.4,168.2 349.2,169.8 349.6,173.5 345.2,175.1 340.2,174.9"/><polygon points="487,176.2 492.2,177.2 493.3,181.7 488.2,183.7 484.4,182.3 481.8,180.3 481.9,176.6"/><polygon points="531.9,241.2 536.2,238.2 542.2,240 544.4,244.9 539.9,248.8 533.7,248.1 530.1,244.9"/><polygon points="309.6,246.4 308.2,249.8 303.8,251.7 299.2,249.8 300.1,246.3 301.4,242.3 306.7,243.4"/><polygon points="429.3,259.3 429,262.7 424.9,263.2 421.3,263.3 419.6,260.5 422.9,259.1 425.2,258.7"/><polygon points="549.6,280.9 555,278.7 562.1,280.2 560.4,285.4 556.6,287.7 550.5,290.1 550.4,284.8"/><polygon points="457,157 460.7,159.4 459.3,163.5 454,162.9 447.6,163 448.6,158.2 452.7,155.7"/><polygon points="311.9,116.3 307.7,120.1 304.5,124.5 300.5,120.5 298,117.5 299.8,113 306.5,113"/><polygon points="545.2,217.2 541.2,215.5 540.1,212.3 543,209.8 547.4,209.7 550.7,212.2 548.5,215.1"/><polygon points="311.6,207.5 316,207 319,209.6 319.9,213.9 314.2,213.7 310.4,213.2 307.6,210"/><polygon points="245.4,291.3 249.2,287.3 255.9,286.7 258,291.1 260,296 253.2,297.1 246.3,296.7"/><polygon points="458,180.2 460.9,177.3 464.3,175.8 467.6,177.4 470.9,180.8 467.2,184.8 462.2,182.1"/><polygon points="361.9,173.9 360.7,177.8 356.4,180.1 352,178.3 352.4,175.2 354.1,173.6 356.9,173.1"/></g>
<g fill="#1e581e"><polygon points="417.9,283.3 414,281 411.4,278.3 412.7,274.1 418.2,275.2 421.2,277.3 422,280.8"/><polygon points="438.4,163.2 442.2,164.2 443.1,167.3 442,171.8 435.5,171.4 433.1,167.6 435.2,164.7"/><polygon points="452,227.1 456.6,229.5 459.8,232.3 457.4,235.8 451.9,238.3 445.7,235.3 444.8,229.2"/><polygon points="490.2,266.7 485.3,266.5 481.6,264.9 483.4,262.2 484.7,258.7 488.7,260.6 491.7,263.1"/><polygon points="171.8,259.7 166.5,261 164.6,257 167.8,254.8 170.4,253.9 175.5,253.7 175,257.6"/><polygon points="544.9,262.9 546.9,267 543.5,270.3 539.2,268.7 537.1,267.3 534.6,263.9 539.6,263"/><polygon points="290.9,264 288,260.9 287.4,255.9 294,256.8 298.7,257.6 299.6,261.5 296.8,265.8"/><polygon points="437.8,277.5 431.9,276.4 435.5,272.7 437.9,268.9 441.6,272.1 443.7,274.4 441.8,277"/><polygon points="576.5,252.5 577.6,256.7 571.8,257.6 567.3,255.4 567.7,251.8 570.5,249 574.6,250.2"/><polygon points="157.1,247.6 150.7,249.1 144.9,245.7 148,241.2 151.9,238.3 157.7,239.4 163,243.7"/><polygon points="209.1,288.2 204.3,285.3 205.1,281.6 207.4,278.3 212,279.6 217.3,281.7 215.9,286.9"/><polygon points="402.7,297.1 407.3,297 411.3,296.8 411.2,299.9 410.3,302.9 406.2,302.3 403.4,300.5"/><polygon points="450.8,208.6 450.4,204.5 455.2,201.2 460.7,203.8 463.9,208 458.4,210.2 454.3,210.6"/><polygon points="511.8,193.3 514,192.1 517.6,192 518.6,194.8 516.7,197 513.5,196.8 510,195.8"/><polygon points="276.1,253.5 281.7,254.5 280.5,258.7 277.5,261.9 271,262.5 270.6,257.7 271.8,254.5"/><polygon points="477.7,128.3 477.3,131.6 474.9,134.3 469.9,134.5 467.8,131.1 468.9,127.5 473.5,128"/><polygon points="246.1,297.7 240.4,300.7 236,302.3 233.7,299.2 230.3,295.4 236.3,294.8 241.2,294.1"/><polygon points="176.8,230.2 173.3,230.5 168.9,230.1 170.1,226.9 171.7,223.5 175.5,225.8 177.3,227.6"/><polygon points="175.3,209.3 176.7,204 182.9,206.8 188.5,208.1 185,211.6 182.3,216.6 175,214.6"/><polygon points="514.4,186.4 516.7,183.6 520.7,183 525.5,184.3 523.2,187.7 520.6,189.6 517,188.9"/><polygon points="322.9,189.8 324,184.7 328.9,182.9 335.4,181.1 337.2,186.2 336,191.1 329.6,190.4"/><polygon points="275.4,193.2 273.6,188.5 272.7,184.7 277.4,181.9 284.2,182.8 286,188 281.3,191.1"/><polygon points="497.7,236.5 493.9,239.1 489.7,239.9 487.3,237.3 485.1,233.6 490.1,231.3 493.5,234.2"/><polygon points="285.6,207.2 284.9,203.8 284.6,199.9 289.9,200.2 293.4,201.9 294.8,205.6 290.9,208.8"/><polygon points="353.9,213.5 348.4,214.6 345.9,210.5 348.7,206.9 353.8,204.7 356.5,208.5 358.1,211.8"/><polygon points="357.8,268.8 361.1,267.4 364.9,267.8 365.2,270.6 364.4,273.3 360.3,274.2 359.2,271.2"/><polygon points="535.5,237 531.5,231.8 536.3,226.9 542.8,228.6 547.3,230.6 546.1,234.5 542.6,239.2"/><polygon points="454.6,113.1 461.2,114.3 463.5,119.2 460,123.7 453.5,123.3 448.9,120.5 449.7,116"/><polygon points="292.6,147.2 293.9,149.9 295,153.2 290.5,155 285.5,153.4 284.8,149.4 289,148"/><polygon points="191,195.8 191.2,200.6 190.2,206 182.5,206.3 180.8,201.4 181.1,198.2 184.2,193.4"/><polygon points="549.6,268.8 546.2,270.4 540.9,269.2 542.8,265.3 545.5,262.5 549.1,264.5 550.8,266.5"/><polygon points="341.7,178.1 345.3,177.9 348.2,179.8 348.6,183.4 343.9,184.3 340.8,182.7 336.5,179.9"/><polygon points="400.4,166 396.7,168 393,170.8 389,167.9 390.4,164.4 393.2,161.2 397.4,163.3"/><polygon points="347.8,244.3 347.8,240.7 352,238.2 355.6,241 358.1,243.7 354.3,245.2 351,246.4"/><polygon points="336.6,169.9 331.8,168.5 333.1,164.6 336.8,161.1 343.4,162.4 345.6,167.2 340.6,169.7"/><polygon points="302.2,146.6 299.2,145.3 294.4,142.8 298.4,139.5 303.1,140.4 308,141.8 306.1,145.5"/><polygon points="399.7,245.9 393,246.9 389.3,244.3 386.1,241.2 388.8,236.6 395.1,237.8 400.5,240.5"/><polygon points="180.8,257.7 178.3,260.1 173.2,263.1 169.5,258.9 169.7,254.3 175.5,254 179.3,254.8"/><polygon points="408.3,199.3 414.3,199.5 418.9,201.3 417.2,204.8 415.3,209.3 408.5,208.3 409.2,203.6"/><polygon points="188.8,223 186.2,224.6 181.6,224.3 182.4,220.9 183.9,218.2 188.1,218.1 191.5,220.4"/><polygon points="447.9,315.5 443.6,314.5 439.8,313.2 441.2,310.1 444.5,309.1 447.6,309.9 451.3,312.5"/><polygon points="241.9,206.4 240,210.8 236,212.9 230.7,212.5 229.2,208.7 230.6,204.6 236.4,204.1"/><polygon points="539.3,268.8 535.6,272.8 531.8,276.6 525.1,274.7 523.8,269.5 527.3,265 532.9,267.6"/><polygon points="561.6,236 565.7,238.3 568.1,241.7 564.3,244.4 559.6,244.3 555.9,241.9 556.5,237.8"/><polygon points="511.3,218.1 507.7,216.6 505.4,213.5 507.6,209 514.3,209.3 519.2,212.9 515.6,216.9"/><polygon points="283.2,292.3 282.5,295.6 281.1,298.8 275.9,299 273.9,295.6 274.4,292.2 278.7,292.4"/><polygon points="475.4,256.1 478.4,254.9 483.1,255.2 484.5,259 480.1,260.6 475.7,262.1 473.2,258.8"/><polygon points="344.3,170.2 347.2,165.7 353.9,167.6 355.3,172.6 351.8,176.3 345.6,177.8 341.7,173.8"/><polygon points="455.6,176.1 454.7,179.9 450.9,182.1 447.8,179.9 444.1,177.9 446.3,174.6 450.8,175.1"/><polygon points="561.7,280.2 559.9,283.7 557.2,286.2 551.4,286.5 549.6,282.2 553.3,279.6 557.1,278.9"/><polygon points="445.2,212 440.5,213.2 438.3,209.5 440.5,205.8 445.6,205.1 447.4,208.3 447.4,210.5"/><polygon points="459.7,229.9 465.5,231.8 467.8,237.4 460.2,238.1 454.5,239.7 451.6,235.3 453.9,231"/><polygon points="433.1,175 436.9,177.3 439.5,180.3 436.5,183.5 431.8,183 427.9,181 430.2,177.9"/><polygon points="307,202.5 303.1,204.7 300.5,201.5 299.2,198.1 303.5,196.4 307.9,197 309.7,200.1"/><polygon points="305.9,215.4 311.9,218.8 310.4,225.2 302.3,225 297.2,223 293,218.1 299.8,215.2"/><polygon points="225.4,219.5 227.4,216.9 229.2,214.5 232.5,216 234.4,218.2 233.1,221.2 229.3,220"/><polygon points="327.6,212.6 332.6,207.3 341.1,207 344.8,212.3 341.9,216.3 337.7,218.6 333.4,216.5"/><polygon points="458.2,270.6 455.3,272.4 452.6,270.3 450.9,267.1 454.7,264.6 458.7,266.3 460.2,268.7"/><polygon points="363.4,284.4 370.2,286.5 368.8,291.2 368.6,296.2 362.7,294 359.9,291.8 359.4,288.4"/><polygon points="272.3,274.4 267.9,270.1 263.8,267.5 265.6,262.7 271.7,264.3 277.3,265.4 275.4,269.6"/><polygon points="403.8,188.1 400.2,189 397.2,187.4 397.2,184.8 399.3,182.5 403,183.3 406.1,185.4"/><polygon points="266.7,218.3 266.6,212.9 273.6,213.9 277.9,214.4 278.3,217.7 276.9,221.7 270.2,222.8"/><polygon points="414.9,266.6 415.1,271 409.5,271.4 406,270.7 402.4,268 406.4,265.6 410.8,263.7"/><polygon points="375.4,167.5 368.5,170.3 363.7,165 369,160.7 374,159.9 379.2,161.2 379.1,165.3"/><polygon points="338.5,236.7 341.5,233.4 346.3,235 348,238.1 346.8,241.3 342.2,242.5 337.6,240.5"/><polygon points="208.6,270 210.8,267 215.1,265 218.9,267.7 222.3,272.3 215.9,274.5 208.8,275.4"/><polygon points="515.7,208.8 520.5,208.3 521.2,212 519.1,214.9 515,214.8 513.5,212.6 513.5,210.6"/><polygon points="525.1,187.3 521.5,191.1 516.6,192.1 512.6,190 511.8,186.3 516,184.7 519.9,185"/><polygon points="286.8,168.9 280.1,167.3 277.7,164.5 275.4,160.5 280.9,159.1 285.5,160.3 289.3,163.8"/><polygon points="496.4,295.8 496.1,292.8 498.3,290.6 502.3,290 503.7,292.8 504.3,295.8 500.3,297"/><polygon points="393.8,229.3 398.7,228.1 402.8,230.7 405.1,235.4 399,238.2 393,236.7 388.3,232.7"/><polygon points="479.2,182 475.5,181.7 473.9,179.5 475.2,177.5 477.8,175.3 481.2,177 482.3,180"/><polygon points="293.4,259 289.8,257.1 287.3,254.5 289,251 293.8,251.7 295.5,254 296.8,256.7"/><polygon points="187.4,248.4 183.6,250.7 179.5,248.8 180.2,246 181.1,243.9 184.4,243.7 187.8,245.1"/><polygon points="298.1,289.2 294.3,290.9 288.7,292.3 288.9,287.9 288.1,283.7 293.7,283.9 299.9,284.6"/><polygon points="524.2,272.8 531.4,273.1 530,278.4 528.8,283.7 520.8,284 515.4,279.5 519.3,274.8"/><polygon points="566.8,217.7 561.3,218.3 558.4,214.6 561.4,211.9 564.5,211.2 570.2,210.4 570.5,214.9"/><polygon points="195.1,273.3 194.4,278.6 187.1,277.9 181.5,274.3 185.7,270.1 190,268.8 196.2,268.7"/><polygon points="457.1,176.4 454,172.4 459.5,170.7 463.4,168.6 468.7,170.9 465.3,174.7 462,175.8"/><polygon points="222.1,269.5 221.5,274.2 215.2,273.6 209.4,271.7 209,266.3 214.9,262.2 220.2,266.3"/><polygon points="517.2,141.7 512.7,141.6 512.8,138.2 513.1,134.3 519.2,133.1 521.9,137.2 522.7,141.3"/><polygon points="395.3,162.8 400.3,163.7 405.3,165.4 402.5,168.9 399,169.4 395.8,169.1 392.8,166.4"/><polygon points="411.8,256.9 413.3,260.7 409.1,263.5 405.1,261.6 403.8,259.4 403.4,256.4 407.5,256"/><polygon points="454.1,222.7 456.6,228.1 452.1,231.5 447.5,231.7 440,231.5 443.2,226.5 446.7,223"/><polygon points="306.2,234.3 305.9,239.5 299.6,239.8 295,239.4 294.3,236 294.6,231.2 301.4,230.9"/><polygon points="561.8,198.5 567.5,196.6 572.1,198.8 572.2,202.1 569.6,203.9 565.9,205.3 561.2,203.1"/><polygon points="153.1,268.9 159.5,269.5 161.6,274.5 157.5,278.9 150.7,278.8 144.6,275.6 146.5,269.9"/><polygon points="309.4,211.8 317.5,210.6 322.9,209.8 324.1,213.8 322.8,216.9 318.7,218.8 311.7,218"/><polygon points="347.6,171.9 341.4,168.9 344.1,163.1 351.6,162.3 358,164.5 357.3,169.6 353.2,172.9"/><polygon points="404.8,263.7 399.6,260.2 391.9,257.5 396.5,252 404.4,249.9 407.7,255.2 411.5,260.2"/><polygon points="540.6,285.7 543.5,284.3 548.5,282.9 549.2,286.8 548.6,290.4 543.4,291.9 540.9,288.5"/><polygon points="158.4,241.1 157.3,238.3 160.6,237 165.1,235.8 170,239.2 164.5,241.9 161,243.1"/><polygon points="201.8,218.9 208.7,222.7 202.5,227.4 195.1,226.7 192.2,222.6 191.8,217.9 197.9,217.6"/><polygon points="511.7,168 517.8,166.5 522.4,169.9 522.8,174.7 517.4,177.2 511.5,176.2 510.3,172.1"/><polygon points="214.4,276.2 209.7,280.2 202,279.8 199.6,274.5 202.9,270.6 208.3,268.6 212.5,271.8"/><polygon points="358.7,273 354.5,272.5 353.7,269.8 351.9,265.8 357.5,265.3 362.7,266.6 363.5,271"/><polygon points="375.4,155 372.2,154.2 371.1,151.5 373.2,148.4 378,148.7 380.2,151.7 378.8,154.5"/><polygon points="538.7,244.8 541.5,245.9 544.3,248.3 542.3,252.2 536.9,251.4 531.8,249.1 535.7,245.9"/><polygon points="489.9,306.6 481.8,307.5 477.5,302.5 481.6,298.7 485.1,297 493.1,295.4 490.1,301.3"/><polygon points="370.9,214.5 367.5,213.3 367.3,209.6 372.1,209.5 375.3,210.5 375.1,212.9 374.2,215.4"/><polygon points="493.2,158.3 487.8,161 483.8,161.9 477,160.9 476.7,155 483.3,151.9 489.7,154"/><polygon points="327,259.3 331.4,257.3 334.9,259.6 336.3,262.2 334.2,264.5 330.5,264.8 328.6,262.6"/><polygon points="419.5,182.5 417.2,180.3 415.3,178.5 416.9,176.1 420.4,176.2 423,177.9 421.4,180"/><polygon points="465.6,155.1 469.7,156.3 473.5,156.7 472.2,159.5 470,161.8 465.5,161.5 464,158.3"/><polygon points="370.7,144.1 373.5,142.7 377.4,141.9 381.6,144.7 377.2,147.3 373.8,149 369.9,147.2"/><polygon points="534.3,282.4 531.5,282.7 528.8,281.4 527.2,278.1 531.6,276.3 535.3,278 539,280.7"/><polygon points="387.3,147.6 386.7,152.9 384.2,156.3 379.1,155.9 372.6,154.4 374.1,149 380.2,147.1"/><polygon points="293.8,280.4 294.5,277.9 296.9,275.7 301.9,275.6 304.9,279.5 301.3,283 295.9,283.8"/><polygon points="466.4,182.3 471.7,180.2 477.1,183.4 475.1,188 470.3,189.7 463.4,190.5 461.4,185.2"/><polygon points="397.2,250.3 403,252.5 402.8,257.8 396.9,260.8 391.6,258.2 388.5,254.6 391.6,250.8"/><polygon points="536.9,120.8 536.8,123.5 533,125.5 530.5,122.7 527.6,119.9 531.5,117.6 535.8,118.1"/><polygon points="521.2,245.7 517.6,242.6 514.9,238.4 519.9,235 525.6,236.8 528.2,240.2 527.5,244.8"/><polygon points="322.3,160.4 324.4,164.4 326.4,167.5 322.3,169.3 318.6,168.4 316.7,166 316.1,161.6"/><polygon points="217.8,163.6 216.2,166.6 212.1,166.5 208.4,165.1 208.6,161.8 211.7,158.5 216,160.9"/><polygon points="509.9,289 508.8,291.5 506.4,293.3 502.8,292.5 502.1,289.9 503,287 506.7,288.1"/><polygon points="293.2,248.6 291.2,244.9 292.3,241.3 297.1,240.3 299.7,242.8 300.4,245.3 298.3,247.9"/><polygon points="373.5,179.1 370.6,180.3 367.4,181 364.1,178.9 365.7,175.8 369.6,175.9 373.8,175.9"/><polygon points="189.4,199.3 193,197.4 195.8,200 197.6,203.4 192.9,204.3 188.4,205.1 186.9,201.7"/><polygon points="279.2,295.8 282.6,294.3 283.2,297.2 282.8,299.1 280.4,299.9 276.2,300.2 276.3,297"/><polygon points="363.4,214.5 356.3,213.1 359.6,208.2 364.1,206.4 369.7,206.6 373.3,210.9 367.8,213.5"/></g>
<g fill="#3b8c33"><polygon points="262.3,245.1 260.5,246.5 257.9,246.9 255.4,245.5 257.2,243.6 259.1,241.4 261.9,242.9"/><polygon points="154.5,262.8 150,264.8 146.9,261.3 148.4,257.5 153.1,254.9 156.5,258.3 156.6,261"/><polygon points="502.7,177.1 505.8,176.1 509.6,174.9 509.4,178 508.6,179.6 506.1,181.6 504.5,179.2"/><polygon points="464.7,213.6 459.6,213.9 459.1,210.3 458.9,207 463.2,206.9 466.7,208 468.6,211.3"/><polygon points="153,278.1 156.7,277.7 156.5,280.5 156.4,283.6 152.1,283.5 151,281.1 149.4,278.6"/><polygon points="423.9,271.6 429.4,271.9 427.9,275.8 425.2,277.8 420.1,279.4 420.2,275.2 421.1,273.1"/><polygon points="512.3,199.1 515.4,197.1 519.3,196 523.3,198.3 520.6,201.3 517.7,202.5 514.8,201.5"/><polygon points="545.8,199.2 540.5,199.9 541.9,195.9 543.2,194 546.8,191.5 550,194.5 549.3,197.8"/><polygon points="326.3,145.7 329,144.7 332.6,145.1 334.5,148.1 331,150 327.6,149.8 324.6,148.2"/><polygon points="343,209.5 348.1,209.5 351.6,210.1 351.8,212.7 351.6,216.5 347.2,214.6 342.9,213.5"/><polygon points="423.3,190.5 425.4,188.5 428.2,189.8 429.1,191.5 429.2,194.1 425.4,195.3 422.9,192.9"/><polygon points="410.8,310.1 409.7,313 409.7,316 405.4,316 403.9,313.5 402.5,310.5 406.7,309.3"/><polygon points="363.9,211.9 358.9,212.1 357.2,208.7 359.6,206.3 362.7,205 369.3,205 368.6,210"/><polygon points="408.1,182.6 409.8,185.8 405.4,186.7 402.1,186 400,183.7 401.4,180.6 406,179.6"/><polygon points="150.8,217.3 154.1,214.4 158.2,216.8 161.4,220.5 156.8,223.5 151.7,223 150.4,219.9"/><polygon points="546.8,177.8 542.2,177.3 541.7,173.9 542.3,170.2 547.2,171.1 549.7,173 553.2,177.1"/><polygon points="293.9,253.5 293.3,249.7 298.2,248.9 301.7,250 304.6,252.7 302.5,256.7 297.2,255.5"/><polygon points="214.8,150.6 218,152.1 219.8,154.4 217.4,156.3 214.3,156.7 210.8,155.4 210.4,151.9"/><polygon points="466.4,250.7 464.3,253.5 459.7,255.1 456.1,252.3 458.1,249.4 460.2,246.2 463.9,248.3"/><polygon points="448.8,131.9 451.8,128 457.8,127.4 460.6,131 461.2,135 456.2,136.7 452.4,134.8"/><polygon points="453.1,126.2 447.1,127.8 442.6,128.3 441.1,125.1 440.6,121.5 445.5,120.2 451.6,121.1"/><polygon points="224.1,315.2 222.2,314 222.3,312.2 223.8,309.9 228.2,309.9 230.6,313.1 228.6,316.7"/><polygon points="413.4,149.6 414.5,145.9 415.9,142.7 421.3,142.1 421.9,146 423.1,149.4 418.4,151.5"/><polygon points="147.1,254.6 142.4,254.2 139.8,250.1 145.3,248.4 150.1,246.9 150.7,250.8 152,254.3"/><polygon points="284.8,303.2 279.9,301.9 281.7,298.2 284.6,296 289,296.4 291.4,299.5 289,302.4"/><polygon points="381,179.4 384.2,177 389.9,175.9 391.7,180.1 388.5,182.5 385.3,185.3 381.8,182.7"/><polygon points="375.1,215.1 376.3,219.1 373.6,221.3 370.6,222.3 367.1,221.2 367.4,218.3 369.1,214.3"/><polygon points="415,175.1 411.9,173.1 414.8,171 418,170.8 420.2,172.4 421.8,175.4 417.7,176.8"/><polygon points="326.8,233.2 321.5,233.9 319.3,230.7 319.6,228.2 322,226.3 325.5,227.1 327.3,229.5"/><polygon points="332.8,173 328.7,174.8 323.8,177.7 319.6,173.8 322.6,170 326.4,166.4 330.2,170"/><polygon points="207.6,279.7 213,281.2 212.2,285.1 210.2,288.2 205.4,288.1 203.1,285.2 203.8,282.1"/><polygon points="431,242 431.3,245.4 430.8,248.4 426.6,249.2 422.6,247.5 423.7,244.3 426.3,242"/><polygon points="488.4,125.6 490.2,128.2 487.9,130.3 484.6,132.8 480.2,130.5 479.9,126.5 484.7,125.7"/><polygon points="354.6,206.5 357,209.2 354.4,211.8 350.3,212.2 345.7,210.6 346.9,206.8 350.8,204.5"/><polygon points="263.7,250 259.7,253.2 254,251.6 253.4,247.6 254.3,243.3 260.1,243.9 265.3,245.8"/><polygon points="412.2,222.6 413.9,225.9 410.3,228.2 406.4,227.7 403.9,225.6 402.9,221.6 408.3,222.5"/><polygon points="461.8,125.3 462.3,121.2 468.3,119.6 470.2,123.8 470.8,126.4 468.1,128.5 464.3,127.7"/><polygon points="528.6,126.8 524.7,128.7 521.4,126 519,121.6 525,120.3 528.9,121.9 531.2,124.4"/><polygon points="373,229.4 374.9,232.4 374.4,234.8 372.1,237.9 367,236.7 366.4,233 368.2,229.9"/><polygon points="206.5,175.5 209.6,174.6 212.4,175.5 215,178 211.2,179.3 207.6,181 204.9,178.3"/><polygon points="474.6,234.5 477.6,233.8 479.8,235.2 479.9,237.1 478.9,239.8 474.6,239.7 471.9,237"/><polygon points="225.9,313.6 229.9,313.8 233.1,314.6 232.1,316.9 230.9,319 228.2,318 226.4,316.6"/><polygon points="492.3,119.2 489.4,122.7 484.4,121.8 482.9,119.1 483.1,116.5 486.3,115 490.5,115.7"/><polygon points="487.7,103.1 490.1,102.5 493,103.6 492.8,106.1 489.8,106.6 486.8,107 486.1,104.7"/><polygon points="366.5,162.9 366.8,159.9 370.8,160.3 374,162.4 371.4,164.7 369,165.9 366.9,164.5"/><polygon points="448.9,259.2 452.3,258.6 454.6,260.2 456.4,262.6 453.2,264.2 450,263.7 447.1,261.8"/><polygon points="452.5,299.3 455.9,296.4 460.7,297.8 462.7,300.9 460.6,303.8 456,306.2 452.6,302.8"/><polygon points="364.6,165.7 368.1,161.8 373.2,163.8 378.1,165 375.1,168.2 372.2,170.5 368.6,168.7"/><polygon points="247,200 245.6,197.1 244.6,194.1 248.6,193.6 252.1,194 252.7,196.7 251.9,200"/><polygon points="351.8,213.4 348.2,216.3 343.5,217.6 339.7,214.8 341.1,211.4 344.3,208.6 349.8,209.4"/><polygon points="489.5,309.3 487,312.1 482.4,311.7 479.4,309.1 480.8,305.8 484.9,306.3 488.9,306"/><polygon points="310,283 310.1,280.5 312.1,278.8 315.9,277.8 318.1,280.6 317.4,283.9 313.3,283.1"/><polygon points="477.6,307.6 475.2,305.5 477.6,303 481.6,303.2 484.9,305.2 483.1,308 480,310.5"/><polygon points="198.9,249.7 199.7,245.4 202.8,243.1 207.4,242.4 211.9,245.2 207.9,248.2 204.7,252.2"/><polygon points="561.6,193.6 565.2,196.4 567.4,198.8 565.7,202 561.1,202 556.5,200.3 557.7,196.4"/><polygon points="164.3,307.1 159.5,305.5 159.5,301.8 162.4,299.4 166.4,299.6 171.9,301.4 169.2,305.6"/><polygon points="384,160.7 380.2,161.3 378.1,160.6 377.2,159.3 376.8,156.8 380.3,156.2 383.5,157.7"/><polygon points="338.8,303.5 338.6,298.3 345,299.9 349.1,302.6 347.3,306.4 343.2,309.7 337.6,307.5"/><polygon points="525.3,137.1 529.5,135.4 533.2,138.2 532.7,142.1 527.9,142.4 524.3,142.2 524.5,139.5"/><polygon points="268.3,244.2 271.7,241.7 275.1,244 276.4,245.9 277.1,249.7 271.9,249.7 269.4,247.2"/></g>
<g fill="#2f7a2a"><polygon points="134.9,241.5 138.2,242.5 136.3,245 132.8,244.7 130.8,241.8"/><polygon points="137.8,227 137.4,229 135.1,230.3 134.1,228.3 134.9,226.4"/><polygon points="147.2,218.9 143.2,221.2 140.3,218.1 142.8,215.9 146.4,215.9"/><polygon points="155.2,214.3 154.3,211.6 158,210.4 160.1,212.7 158.9,215.9"/><polygon points="163.2,209 160.9,207.4 160.3,205 163.6,205.3 164.4,206.9"/><polygon points="168.3,197.9 164,195.9 165.8,192.2 171.1,192.1 172.4,195.9"/><polygon points="179.6,189.8 178.6,193.7 173.5,193 172.3,189.9 175.8,187.2"/><polygon points="176.5,173.8 173.3,174.6 171.9,171.9 174.5,168.8 177.9,171.5"/><polygon points="180.1,160.1 180.8,158 183.9,157.7 185.8,160 182.6,161.2"/><polygon points="190.2,150.5 188.5,152.4 186.4,150.7 186.4,148.4 189.9,148.2"/><polygon points="201.5,156.6 197.6,156 197.9,153.4 200.5,152.7 202,154.2"/><polygon points="208.6,151.5 211.7,149.9 214.5,151.4 214,154.1 210.8,153.4"/><polygon points="223.1,144.9 220.7,144.1 220,142.3 222.6,141.3 224.1,143"/><polygon points="224.7,132 229.8,132.6 229.6,135.7 226.9,137.5 222.7,135.8"/><polygon points="239.6,139.3 235.8,137.8 236.1,134.6 240,134.5 241.5,136.7"/><polygon points="256.6,137.7 253.6,138.1 252.3,136.6 253,134.5 256.3,135.2"/><polygon points="257.7,126.9 261,128 260.2,130.5 256.8,131.3 253.2,128.6"/><polygon points="263.5,119.8 262.4,118.3 263.6,117.3 266,117.1 266.7,119.5"/><polygon points="262.9,108.3 266.1,106 269.2,108.9 267.2,112.2 262.5,111.3"/><polygon points="268.8,108.5 270.7,106.2 274.1,105.7 276.3,108.8 272.1,110.2"/><polygon points="283.8,101.6 286.6,102.5 284.8,104.2 282.6,104.4 282.1,102.8"/><polygon points="300.8,105.3 296.4,106.6 292.8,104.2 295.6,101.4 299,102.5"/><polygon points="302.2,100.7 302.6,103.4 301.3,105.6 298.6,104 298.2,101.4"/><polygon points="312.9,107.3 314.1,109.5 310.9,110.4 308,108.8 310.4,107"/><polygon points="322,103.7 318.9,105.4 314.8,103.5 317.8,100.7 321.3,101.2"/><polygon points="318.7,103.9 316.6,103.2 317.9,101.7 320.1,101.5 320.6,103.2"/><polygon points="315.6,109 316.8,105.9 320,104.2 322.1,106.9 319.9,108.7"/><polygon points="314,113.7 318.3,115 315.1,118 310.1,117.9 309.3,113.7"/><polygon points="308.7,124.5 305.3,124.2 304.6,121.5 308.1,120 311,122.3"/><polygon points="320.2,124 317.8,126.5 313.4,128.5 311.5,124.1 316.1,122.3"/><polygon points="327.4,133.7 324,132.7 323.5,130 326.9,129.8 329.1,131.3"/><polygon points="331.1,138.2 334,137.1 335.8,138.5 335.5,140.5 331.8,141"/><polygon points="346.7,144.9 343.9,145.1 342.7,142.5 346.1,142 349.1,143.1"/><polygon points="354,142.1 355.8,143.7 354.4,145.9 351.4,144.8 351.4,142.7"/><polygon points="359.8,142.5 364,144.6 364.9,148.2 359.8,148.7 358.7,146"/><polygon points="361.4,138.4 359.1,136.6 361.5,134.5 365.8,135.3 365.5,139"/><polygon points="365.5,126.8 367.6,125.5 369.5,125.7 370.1,127.3 367.9,128.3"/><polygon points="375,132.1 373,130.6 373.8,128.3 376.7,129 377.2,130.8"/><polygon points="378.9,134.2 376.8,131.6 381,130.5 384,132.6 382.3,135.7"/><polygon points="389.3,140.7 389.2,143.6 384.8,143 385.4,140.3 387.7,138.4"/><polygon points="396.7,139 396.9,141.4 395.4,142.6 392.9,142 393.3,139.8"/><polygon points="397,137.3 399.3,135.4 401.3,137.8 399.8,140.5 396.1,139.4"/><polygon points="400.9,129.7 401.8,132.4 398.1,133.3 394.9,131.2 397.5,128.6"/><polygon points="410.3,134.3 406,133.7 404.5,130.6 408.4,129.8 412,131.1"/><polygon points="410.3,130.8 410.6,128.6 414.1,127.9 416.6,130.7 412.7,132.2"/><polygon points="416,134.8 414.1,133.3 416.6,132.2 418.3,133.2 417.9,134.6"/><polygon points="418.1,131.8 419.8,129.2 423.3,129 425.4,131.9 421.5,134.3"/><polygon points="432.4,126 429.7,126.7 428,124.7 430.1,123.1 433.9,123.4"/><polygon points="438.3,115.3 441.8,116.1 440.8,119.1 436.5,119.6 436.2,116.7"/><polygon points="453.1,111.5 457.6,112.8 454.2,115.3 449.9,116.2 448.9,112.3"/><polygon points="466.8,106.9 462,106.3 462.4,102.1 467.9,101.3 468.5,104.7"/><polygon points="485.7,105.2 483.7,105 483.2,103 485.9,102.7 488.5,104.1"/><polygon points="493.1,100.5 492.2,97.6 494.9,96.1 496.7,97.7 496.4,99.4"/><polygon points="499.4,93.1 496.5,91.4 495.9,89.3 499,88.6 501.6,90.4"/><polygon points="499.5,80.8 502.6,79.5 505.6,81.9 502.4,84.2 498.3,83.5"/><polygon points="510.4,84.1 509.8,86.9 506.8,88.6 505.5,86.1 506.2,83.4"/><polygon points="508.6,85.5 512.7,87.5 514.2,90.6 509.6,91.4 508,89"/><polygon points="512.6,94.7 514.3,93 516.1,94.6 515.7,96.4 513,96.7"/><polygon points="516.4,100.9 518.8,98.1 523.4,99.5 521.3,102.3 518.3,103.3"/><polygon points="521.3,107 523.2,104.7 525.1,107 524.5,108.8 521.4,109.3"/><polygon points="531.4,110.2 528.4,112.9 523.7,112.5 523,108.5 527.8,108.2"/><polygon points="533.2,117.7 536.5,118.4 538.6,120.3 535.6,121.8 533.4,120.3"/><polygon points="540.7,126.8 542.8,124.6 545.3,125.8 546.3,128 542.8,129.2"/><polygon points="547.8,131.5 550.3,134.7 546.8,136.8 543,136 544.4,133.4"/><polygon points="550.2,137 546.1,136.1 547.9,133.6 550.4,132.9 551.9,134.8"/><polygon points="554.7,137.6 553.2,136.3 554.5,134.3 557.1,135.4 557,137.4"/><polygon points="551.3,144.6 554,146.2 551,147.6 547.1,147.4 548,144.2"/><polygon points="549.5,148.9 553.4,146.7 556.8,148.3 556.1,150.9 552,152.4"/><polygon points="561.8,159.1 557.2,159.7 553.4,157.9 555.9,154.5 560.8,155.3"/><polygon points="562.5,168.5 558.2,168.9 557.9,165.9 560.5,164.2 564.9,165.4"/><polygon points="563.7,167.7 566.7,166.7 568.4,168 568.2,170.1 565.3,169.7"/><polygon points="572.8,170.8 577.1,171.2 576.1,174.7 571.3,176.1 570.3,172.5"/><polygon points="575.9,187.3 573.5,187.5 570.4,185.6 574.1,183.7 577.5,185.1"/><polygon points="580,186 582.9,188.5 579.1,191 574.3,189.3 576,185.7"/><polygon points="584,196.4 582.5,198.9 580,200.2 578.8,198 580.3,196.5"/><polygon points="582.8,212.1 582.6,209 587.2,209.7 587.1,212.4 584.6,213.8"/><polygon points="584.6,226 580.5,226.7 578,223.6 582,222.5 585.2,223.1"/><polygon points="580.9,239.8 579.9,241.7 577.5,240.8 576.9,238.9 579.4,238.8"/><polygon points="581.5,256.7 581,254.1 583.6,253.3 585.5,254.4 584.5,255.9"/><polygon points="580.4,275.8 578,275.5 576.6,273.6 579.4,272.3 582.7,273.8"/><polygon points="570.2,288.7 570,291.1 568.1,292.1 565.4,291.1 566.5,288.5"/><polygon points="558,303.9 562.3,303 566.2,304.1 563.6,306.4 560,307.2"/><polygon points="559.7,312 557,310 560.4,308.2 565.1,309.1 563,312.3"/><polygon points="553.5,308.2 553.2,310.3 550.7,310.4 548.5,309 550.6,306.6"/><polygon points="536.5,305.8 538.9,304.1 540,306.4 539.4,308.5 536.9,307.4"/><polygon points="526.9,316.3 526.3,314 528.7,312.2 531.5,314 530.3,316.6"/><polygon points="514.4,317.2 514,318.9 512.2,318.9 510.7,317.8 512.4,316.8"/><polygon points="501.6,318 503.5,315.4 506.8,316 506.8,318.1 504.7,319.6"/><polygon points="498,319.3 500.4,319.3 499.8,321.2 497.3,322.4 495.7,320.2"/><polygon points="493.5,321.5 489.4,322.2 487.8,319.4 490.4,318 493.1,318.8"/><polygon points="476.7,316.7 475.2,318.7 472.6,317.6 470.9,314.8 474.9,315.2"/><polygon points="457.5,317.8 461.8,317.4 461.5,320.6 458.7,321.3 455.9,320.2"/><polygon points="450.6,320.2 447.8,321.4 444.9,320 446.6,317.8 449.8,317.8"/><polygon points="434.7,320.2 436.7,323.1 432.6,323.8 429,322.8 431.5,320.6"/><polygon points="420.8,318.6 422.8,316.9 424.4,318.8 424,320.7 420.7,321"/><polygon points="415.5,320 417.3,321.4 417.3,323.5 414.5,323 414.1,321.5"/><polygon points="406.3,321.7 410.2,322.5 411.2,325 408.2,326.8 405.9,324.6"/><polygon points="393.4,312.6 396.2,311.1 398.5,313 397.5,315.5 393.4,315.5"/><polygon points="376.5,309.3 377.9,306.8 381,306.4 383.5,308.7 380.1,310.8"/><polygon points="370,303 369.4,300.5 373.2,299.9 374,302.3 372.8,304.7"/><polygon points="362.4,308.6 359.8,309.1 358.2,308.1 358.7,306.3 361.4,306.6"/><polygon points="348.6,306.9 349.2,309.1 348.1,310.2 345.9,310 345.9,308.2"/><polygon points="337.7,306.1 342.9,306.1 345,309.6 340.8,310.4 337.8,309.6"/><polygon points="335.3,301.4 337.9,303.5 336.1,306.7 332.4,304.9 332.4,302.7"/><polygon points="326.8,297.1 322,297 322.6,293.9 325.2,291.8 327.1,294.2"/><polygon points="313.7,287.8 313.2,284.4 318.1,283.6 319.5,286.7 317.5,289.5"/><polygon points="310.7,284.1 310.6,280.8 315.4,280.4 317,283.5 313.7,284.6"/><polygon points="304.6,283.7 309.3,284.3 308.4,288.2 303.4,288.9 300.9,285.6"/><polygon points="301.4,290.7 298.7,291.6 295.7,289.9 297.6,286.5 302.8,287.6"/><polygon points="298.2,299 300.1,301.9 295.4,303.5 292.2,300.5 294.4,296.8"/><polygon points="290,315.4 286.9,313 290.1,311 292.9,312 293.1,314.2"/><polygon points="280.6,314.9 281.6,316.8 278.9,318.1 277.4,316.2 278.2,314.6"/><polygon points="273.4,325.6 269.3,325.9 269.6,322.9 272.4,320.6 276.7,323"/><polygon points="255.8,321.4 258.3,319.9 261.4,320.3 260.6,322.6 257.4,324.4"/><polygon points="245.8,320.2 246,317 250,318.2 253,321.2 248,322.1"/><polygon points="236.6,320.9 234.2,320.2 233.3,318.7 235.5,316.8 237.7,318.8"/><polygon points="216.4,320.9 217.1,318 221.2,318.8 220.8,321.2 218.7,322.1"/><polygon points="212,322.2 209.4,320.7 209.8,319 212.2,318.3 214,320.1"/><polygon points="195.7,321 195,324.1 191.2,324.2 189.1,321.9 192.2,320.9"/><polygon points="179.5,321.2 177.2,318.9 177.7,316.8 181,316.2 182.9,319"/><polygon points="169.2,319.4 168.7,316.8 170.7,315.7 173.3,316.4 172.1,318.2"/><polygon points="159.6,313.1 156.6,311.1 158.8,308.1 161.8,309.9 163.7,312.5"/><polygon points="154.3,306.9 152.5,303.9 154.2,301.5 158.1,302 158.5,305.2"/><polygon points="151.6,296.9 149.2,294.3 152.1,292.2 155.7,293.1 154.4,295.3"/><polygon points="148.3,285.2 146.4,283.8 148.4,282.5 150.2,283.1 150.8,284.9"/><polygon points="148.8,268.8 149.6,272 146.4,273.4 144.3,271.7 144.5,269.1"/><polygon points="145.7,265 145.8,262.4 149.1,261.6 152,263.7 149,265.7"/><polygon points="136.4,252.9 137.2,250.2 141,250.9 141.9,253.6 138.5,255.5"/></g>
<g fill="#45993a"><polygon points="134.8,235.2 138,236 137.2,238.3 134.7,238.6 133.6,237.1"/><polygon points="137,219.2 141.4,219.4 143.2,220.8 142.1,222.9 138.8,222.4"/><polygon points="150.4,214.1 147,214.9 146,212.2 148.6,210.5 152.3,211.7"/><polygon points="159.8,211.2 160.6,209.7 162.8,209.5 164,211.3 161.7,212.3"/><polygon points="167.1,202.5 162.8,202.7 162.5,199.8 164.9,198.1 169.1,199.2"/><polygon points="176.6,192.8 176.6,195.3 174.2,195.9 170.9,195.1 172.5,192"/><polygon points="175.9,183.5 178,186.2 175.2,187.7 172.8,187.1 171.9,184.6"/><polygon points="178.6,170 175.3,169.9 175.5,167.6 177.7,166 179.8,167.9"/><polygon points="184.2,151.8 186.2,154.9 182.8,156.3 178.5,155.8 179.4,152"/><polygon points="189.2,150.4 193.2,150.8 194.1,153.2 191.7,155.5 188.1,153.6"/><polygon points="201.5,159.5 204,156.9 208.1,155.5 208,158.9 205.6,161.2"/><polygon points="216,145.1 219.7,144.6 221.8,146.9 219.4,148.9 216.3,147.9"/><polygon points="228.2,142 225.9,142.7 224.3,140.9 226.7,139.9 228.6,140.4"/><polygon points="228,131.5 230.6,131.9 232.8,134.2 228.9,136.3 225.8,133.6"/><polygon points="242,135.6 241.1,133.4 244.1,131.8 245.9,134 244.9,135.9"/><polygon points="260.1,132.5 259.4,134.8 257.3,136.7 254.9,134.6 256.3,132"/><polygon points="260.2,124.2 260.2,121.2 264.1,120.8 265.8,123.3 263.6,125.9"/><polygon points="260.3,111.6 262.7,109.7 264.5,111.7 264.3,113.6 261.8,113.2"/><polygon points="266.1,107.3 269.9,108.8 267.7,111.6 264.8,110.8 262.3,108.6"/><polygon points="278.1,105 276,106.4 273.9,104.6 275.4,102.2 278.7,103"/><polygon points="287.2,99.3 291.2,98.7 293.4,101.1 290.5,102.2 288.2,102"/><polygon points="301.1,106.1 299.4,108.3 296.9,107.9 294.9,106.1 298,105.2"/><polygon points="306.6,109.4 304.4,109 303.7,106.6 307.3,106.2 308.9,108.3"/><polygon points="314.7,105.2 312.3,103.6 313.6,101.4 316.2,102.2 317.8,104.1"/><polygon points="326.2,102.1 326.7,104.3 324.3,105.3 322.6,104 323.5,102.4"/><polygon points="321.6,109.2 319.1,107.3 320.3,104.8 323.7,105.4 324.3,107.7"/><polygon points="314.6,109.3 317.8,110.1 317.7,113.3 313.1,113.7 313,110.9"/><polygon points="311.7,113.4 312.2,115 310.5,115.8 308.8,115 309,113"/><polygon points="304.6,123.2 306.7,121.6 310.1,121.2 309.8,123.9 306.8,125.9"/><polygon points="322.4,130 320.1,131 319.7,129 320.9,127 323,128.6"/><polygon points="329.6,128.7 330.2,130.3 328.7,131.6 326.4,130.7 326.6,128.4"/><polygon points="336,140.6 335.7,137.4 339.7,137.8 341.5,139.8 339.4,142.4"/><polygon points="348.8,145.2 348.3,147 345.2,146.7 345.3,144.5 347.6,143.9"/><polygon points="355.5,146.4 356.6,144.2 359.9,142.4 360.2,145.4 358.7,146.9"/><polygon points="368.8,140 367.1,143.7 362.7,144.5 359.7,141.4 363.8,139.8"/><polygon points="367.6,133.2 367.2,131.5 369.8,131.2 372,132.9 369.6,135"/><polygon points="371.2,130.5 367.9,129.6 369,126.6 373.5,126.2 373.8,129.3"/><polygon points="381.6,130.5 376.7,132.1 373.6,129.8 375,127.1 378.5,127.6"/><polygon points="387.5,137 388.6,139.8 385.7,141.1 381.5,140.3 382.8,136.5"/><polygon points="391.7,144.4 388.8,144.6 388.2,142.5 390.3,140.6 392.5,142.5"/><polygon points="397.7,140.2 397.8,142.4 396,143.4 392.4,142.9 393.6,139.6"/><polygon points="400.9,138 398,136.8 397.8,135 400.1,133.6 403.2,135.4"/><polygon points="396.8,130.1 399.2,129.3 400.8,129.9 401.3,131.7 398.4,132.1"/><polygon points="410.8,130 408.6,128.8 410.4,126.7 413.3,127.8 412.5,129.5"/><polygon points="413.7,134.7 411.5,132.6 413.9,131.4 416.5,131.2 416.3,133.3"/><polygon points="419.1,132.9 418.9,130.4 422.6,130.3 423.5,132.7 421.2,134.3"/><polygon points="426.9,126 429.5,127.4 429.9,129.9 426,130.6 424.6,127.9"/><polygon points="435.3,119.5 432.9,117.6 433.9,115.2 437.4,115.1 438.5,117.9"/><polygon points="444.1,117.5 443,113.7 444.9,110.9 449.6,112.1 448.3,115.3"/><polygon points="461.7,108.8 461.4,112.3 456.7,111.3 455.2,108.3 459,105.6"/><polygon points="471.4,107.6 472.1,104.5 475.8,105.6 477.1,107.9 474,110"/><polygon points="487.6,101.7 482.8,100.8 483.8,97 488,97 491.5,99.4"/><polygon points="493.3,95 491.5,93.3 494.2,91.3 497.4,93.1 496.3,96"/><polygon points="497.6,85.7 500.5,87.1 502.3,89 499.1,90 496.7,88.5"/><polygon points="500.8,84.7 499.4,82.8 500.9,80.7 504.2,81.6 503,83.6"/><polygon points="508.5,82.9 509.6,86.1 505.4,85.8 502.7,83.9 505.2,81.2"/><polygon points="514.8,91.4 511.3,92.5 510,89.8 511.9,87.5 515,89"/><polygon points="513,99.8 509.9,96.8 513.2,94.9 515.7,95.5 516.1,97.5"/><polygon points="517,101.6 520.2,99.4 524.4,101.3 523.3,105.3 518.3,104.5"/><polygon points="522.7,104.1 526.8,104 527.7,106.6 525.4,109.1 521.8,107.2"/><polygon points="529.6,109.8 533.9,111 533.2,113.7 530.5,114.9 528.4,112.9"/><polygon points="546.6,123.7 544.3,126.2 541,124.7 540.3,121.9 544.5,121.1"/><polygon points="542.5,134.1 540.2,132.3 539.7,129.4 543.5,130.2 544.2,132"/><polygon points="554.2,136 551.4,138.2 547.2,137 548.4,133.9 551.7,134.2"/><polygon points="554.7,136.8 553.9,134.6 556,132.6 559.5,134.1 558.5,137.3"/><polygon points="550.5,144.3 549.4,141 553.7,140.8 557.4,142.4 554.3,144.8"/><polygon points="554.3,150.1 552.1,152.2 549,151.5 548.2,149 551.6,148.1"/><polygon points="558.9,157 557.3,155.2 560.4,154 562.1,155.9 561.3,158.1"/><polygon points="563.4,160 562.5,162.4 559,162.2 558.7,159.9 561,157.6"/><polygon points="562.5,163.6 564.2,165.6 563.3,168.8 559.4,167.1 558.7,164.2"/><polygon points="569.7,169.7 567.4,168.7 569.2,167.2 571.8,167.3 572.7,169.6"/><polygon points="573.9,182.1 575,180.5 576.7,181.8 576.8,183.3 574.6,183.4"/><polygon points="575.8,189.9 573.4,187.1 577,185.5 579.7,186.8 579.9,189.7"/><polygon points="582,191.5 583.9,190.6 586.5,191.7 585,194 582.3,193.1"/><polygon points="584.5,204.5 586.9,204.6 588.8,205.5 587.2,207 585.3,206.3"/><polygon points="582,217.3 582.5,219.6 579.6,220.3 578.2,218.6 579.2,216.8"/><polygon points="580,233.9 575.6,234 574,231.7 576,230 580,230.3"/><polygon points="582.1,246.1 585.2,247.2 584.6,249.7 581.8,249.7 580.5,248.1"/><polygon points="582.2,260.2 586.3,260.9 586.2,263.7 583.4,264.4 579.8,263.1"/><polygon points="569.9,281.5 572.7,279.1 575.7,280.3 576.1,282.6 573,283.7"/><polygon points="568.9,300.1 565.1,301 565.4,298.1 567.2,296.4 569.9,297.8"/><polygon points="557.6,310.5 555.8,308.6 557.8,306.1 563,307 562.3,311.4"/><polygon points="551.4,313 552.6,310.3 556.2,310.4 556.2,312.6 554.5,313.7"/><polygon points="544.8,305.5 547.9,306.9 545,308.7 542.4,308 540.7,305.3"/><polygon points="538.4,309.8 537.2,312.6 534.9,313.6 533.3,312 534.4,310.2"/><polygon points="518.8,314.9 520.7,313.9 523.9,314.3 522,316.2 519.4,317.2"/><polygon points="513.8,319.8 511,320.1 508.5,318.9 510.1,316.4 512.8,317.8"/><polygon points="497.7,317.9 501.6,315.4 505,318.1 503.2,320.8 499,321.1"/><polygon points="492.7,317.9 496.8,317.8 498.3,319.7 497,321.8 494.1,320.8"/><polygon points="478.5,319.5 477.9,318.2 479.1,316.5 481,317.9 481.4,320.2"/><polygon points="472.1,319.7 468.7,323.6 464.6,321.2 464.4,318.7 467.7,317.2"/><polygon points="456,320.7 455.1,323.2 452.7,323.7 451.1,322.3 452.1,319.8"/><polygon points="443,319 443.8,322.1 438.9,323.1 438.3,319.9 439.6,316.8"/><polygon points="429,323.2 430.7,324.2 430.2,325.6 427.6,326.6 427.5,324.4"/><polygon points="422.7,322.3 419.1,320.4 419,318.3 421.6,316.8 424.2,319"/><polygon points="414.2,321.8 412.5,324.5 408.4,322.8 410.3,320.3 413.3,319.6"/><polygon points="402,317.6 405.5,315.8 406.2,318.9 405,321.6 402.1,319.7"/><polygon points="388.3,308 388.9,311.4 383.7,312.4 380.9,308.7 384.9,306.4"/><polygon points="374,306.7 375.8,304.1 378.8,304.2 381.2,306.4 377.7,307.4"/><polygon points="365.1,303.7 367.6,300.6 372.6,302.5 370,305.4 366.1,307.1"/><polygon points="356.6,306.4 356.7,309.8 353.3,310.6 349.4,309.2 351.8,306"/><polygon points="347.9,308.8 350.8,311 347.7,312.8 343.4,312.9 343.3,309"/><polygon points="335,310.6 331.4,309.6 332.6,306.9 336.3,306.1 337,308.8"/><polygon points="330.7,298.4 331.9,300.8 329,302 325.4,300.8 326.6,297.2"/><polygon points="323.7,291 322.1,293 319.4,291.2 321.3,289.6 323.8,289.1"/><polygon points="309.3,285.1 310.7,281.4 314.6,281.8 317.3,283.9 313.8,285.1"/><polygon points="305.7,281.7 306.4,279.9 310,279.3 310.5,282.2 307.4,283.6"/><polygon points="304.3,287 300.5,287.2 299.1,285.4 299.8,282.2 302.9,284.4"/><polygon points="300,292.8 297.4,294.4 294.9,293.1 294.3,289.9 298.8,290.3"/><polygon points="294.6,307.6 293.2,309.6 289.8,309.8 288.4,306.8 292.3,306.3"/><polygon points="281,315.8 279,312.9 283.3,312.7 287.8,314 284.8,317.4"/><polygon points="275.5,321.4 271.4,320 269.6,317.4 273.4,316.1 275.9,317.9"/><polygon points="265.1,324.4 262.2,322.9 264.2,320 268.9,320.5 268.7,324.1"/><polygon points="251.4,323.5 249.9,320.7 252,318 256.1,319.5 255,322.3"/><polygon points="243.8,319.5 241.1,319.7 238.9,317.5 242.4,315.6 244.7,317.7"/><polygon points="229.3,320 231.6,322.4 229.3,324.8 224.9,324.2 225.6,320.8"/><polygon points="214.5,324.6 214.8,320.9 217.6,318.1 219.9,321 219.2,323.3"/><polygon points="204.1,322.9 200.9,322.9 199.3,320.8 202,319.8 205.3,320.3"/><polygon points="185.1,320.7 185.4,318.1 189.1,317.5 190.7,320.1 188,321.5"/><polygon points="175.2,316.8 176.1,318.3 174,319.3 172.2,318 173.1,316.3"/><polygon points="164.3,312.8 167.1,312.9 168,314.3 166.9,316.7 163,315.5"/><polygon points="154,313.1 153.7,310.7 156.2,309.7 158.5,311 157.4,313.3"/><polygon points="152,297.8 156.6,298.4 157.3,301.7 153.6,302.6 150.6,301"/><polygon points="152,284.2 154.6,286.8 151.3,288.9 148.3,287.6 148.3,285"/><polygon points="146.7,277.9 143.1,280.7 138.9,277.3 142.9,275 146.5,275"/><polygon points="147.7,267.4 150.5,267.6 149.3,269.7 147,269.7 145.9,268.2"/><polygon points="144.5,256.1 142.8,253.4 146.6,252.4 151,253.8 148.2,257"/></g>
<ellipse cx="379" cy="183" rx="7" ry="3.5" fill="#141812"/>
<ellipse cx="373" cy="181" rx="4" ry="4" fill="#141812"/>
<ellipse cx="325" cy="213" rx="2" ry="3" fill="#141812"/>
<ellipse cx="238" cy="270" rx="4" ry="3" fill="#141812"/>
<ellipse cx="250" cy="276" rx="5" ry="2.5" fill="#141812"/>
<ellipse cx="183" cy="291" rx="3" ry="3" fill="#141812"/>
<ellipse cx="262" cy="287" rx="3" ry="4" fill="#141812"/>
<ellipse cx="275" cy="280" rx="2" ry="3" fill="#141812"/>
<ellipse cx="346" cy="288" rx="5" ry="5" fill="#141812"/>
<ellipse cx="350" cy="282" rx="3" ry="4" fill="#141812"/>
<ellipse cx="407" cy="290" rx="3" ry="3" fill="#141812"/>
<ellipse cx="365" cy="280" rx="3" ry="2" fill="#141812"/>
<ellipse cx="418" cy="302" rx="3" ry="3" fill="#141812"/>
<ellipse cx="287" cy="190" rx="4" ry="1.5" fill="#141812"/>
<ellipse cx="330" cy="230" rx="2" ry="2" fill="#141812"/>
<ellipse cx="415" cy="145" rx="6" ry="3" fill="#141812"/>
<ellipse cx="390" cy="152" rx="4" ry="2" fill="#141812"/>
<ellipse cx="526.6" cy="137" rx="5" ry="1.6" fill="#141812"/>
<ellipse cx="521.4" cy="218.3" rx="3.5" ry="2.5" fill="#141812"/>
<ellipse cx="481" cy="236" rx="2" ry="3" fill="#141812"/>
<ellipse cx="562.6" cy="237" rx="2.5" ry="3" fill="#141812"/>
<ellipse cx="574.6" cy="227" rx="1.5" ry="3" fill="#141812"/>
<ellipse cx="516.3" cy="203" rx="3" ry="1.5" fill="#141812"/>
<ellipse cx="436" cy="175" rx="3" ry="2" fill="#141812"/>
<ellipse cx="450" cy="262" rx="3" ry="2" fill="#141812"/>
<ellipse cx="500" cy="290" rx="2.5" ry="2" fill="#141812"/>
<ellipse cx="545" cy="275" rx="2" ry="2.5" fill="#141812"/>
<ellipse cx="467" cy="305" rx="3" ry="2" fill="#141812"/>
</g>
</g>
<circle cx="575" cy="179.6" r="157.7" fill="#ffffff" fill-opacity="0.40"/>
<circle cx="575" cy="179.6" r="157.7" fill="none" stroke="#000" stroke-width="7.8"/>
<g fill="#a69707"><ellipse cx="563.3" cy="97.8" rx="35.6" ry="24.6" transform="rotate(-6 563.3 97.8)"/><ellipse cx="601" cy="77" rx="17" ry="12.6" transform="rotate(-15 601 77)"/><ellipse cx="586.7" cy="84.9" rx="13.6" ry="9.4" transform="rotate(-15 582.1 87.4)"/></g><ellipse cx="562" cy="84" rx="6.5" ry="3.4" fill="#fff"/><ellipse cx="606" cy="72.5" rx="6.5" ry="3.4" fill="#fff"/>
<g fill="#ff9509"><ellipse cx="477" cy="130.6" rx="27.5" ry="20" transform="rotate(-5 477 130.6)"/><ellipse cx="507" cy="116.5" rx="14" ry="11" transform="rotate(-10 507 116.5)"/><ellipse cx="495.6" cy="121.9" rx="11.2" ry="8.2" transform="rotate(-10 492 123.5)"/></g><ellipse cx="474.5" cy="119.6" rx="6" ry="3.2" fill="#fff"/><ellipse cx="512.6" cy="113.3" rx="5.5" ry="3" fill="#fff"/>
<g fill="#ff9509"><ellipse cx="530.5" cy="173" rx="29.5" ry="21" transform="rotate(0 530.5 173)"/></g><ellipse cx="531.4" cy="157.4" rx="6" ry="3.2" fill="#fff"/>
<g fill="#ff7f80"><ellipse cx="618" cy="155.8" rx="35.8" ry="25.6" transform="rotate(-5 618 155.8)"/><ellipse cx="654.7" cy="136.3" rx="18.2" ry="13.2" transform="rotate(-12 654.7 136.3)"/><ellipse cx="640.8" cy="143.7" rx="14.6" ry="9.9" transform="rotate(-12 636.4 146.1)"/></g><ellipse cx="613" cy="141.6" rx="6.5" ry="3.4" fill="#fff"/><ellipse cx="658" cy="130" rx="6.5" ry="3.4" fill="#fff"/>
<g fill="#ff7f80"><ellipse cx="608.5" cy="234.4" rx="28.6" ry="20.8" transform="rotate(0 608.5 234.4)"/></g><ellipse cx="606" cy="223.4" rx="6" ry="3.2" fill="#fff"/>
<g fill="#ae6b2d"><ellipse cx="511.6" cy="247.6" rx="27" ry="20.3" transform="rotate(-5 511.6 247.6)"/><ellipse cx="540.6" cy="232.2" rx="13.2" ry="10" transform="rotate(-10 540.6 232.2)"/><ellipse cx="529.6" cy="238.1" rx="10.6" ry="7.5" transform="rotate(-10 526.1 239.9)"/></g><ellipse cx="507.5" cy="239" rx="6" ry="3.2" fill="#fff"/><ellipse cx="540.6" cy="228.7" rx="5.5" ry="3" fill="#fff"/>
<g font-weight="bold" fill="#000">
<text x="31.5" y="44.2" font-size="32.8">Isolation &amp; Screening of</text>
<text x="31.5" y="88.9" font-size="32.8">Oleaginous Yeasts</text>
<text x="176.3" y="261.7" font-size="31.9" fill="#fff">Forest Materials</text>
<text x="1025" y="449.8" font-size="32.65">Biomass and Lipid Production</text>
<text x="1113.5" y="1012.4" font-size="36.4">Microbial Oil Analysis</text>
<rect x="336.4" y="611.5" width="276.4" height="44.8" rx="9" fill="#dae8fc"/>
</g>
<g fill="none" stroke="#ff0000" stroke-linecap="round" stroke-linejoin="round">
<path d="M768,105 C773.3,103.9 788.9,99.9 800,98.3 C811.1,96.7 821.1,95.2 834.4,95.6 C847.7,96 867.2,98.5 880,100.5 C892.8,102.5 900.9,104.3 911.4,107.8 C921.9,111.3 934.1,117 942.8,121.4 C951.5,125.8 956.8,129.3 963.8,134 C970.8,138.7 978.6,144.5 984.7,149.7 C990.8,154.9 997.1,162 1000.5,165.4 C1003.9,168.8 1004.2,169.2 1005,170" stroke-width="7.4"/>
<path d="M1285.1,489 C1287.3,491.4 1294.1,498.3 1298.1,503.5 C1302,508.7 1305.8,514.4 1308.8,520.3 C1311.8,526.1 1314.4,532.5 1316.4,538.6 C1318.4,544.7 1320,551.1 1321,556.9 C1322,562.7 1322.2,568.6 1322.2,573.6 C1322.2,578.6 1321.2,584.8 1321,587" stroke-width="8.4"/>
<path d="M942.4,908.8 C938,911.1 925.6,918.4 915.9,922.6 C906.2,926.9 894.7,931.3 884.1,934.3 C873.5,937.3 863.5,939.1 852.2,940.6 C840.9,942.1 828.5,943.4 816.1,943.2 C803.7,943 789.6,941.6 777.9,939.6 C766.2,937.6 755.6,934.3 746.1,931.1 C736.6,927.9 728.5,924.2 720.6,920.5 C712.8,916.8 702.6,910.6 699,908.6" stroke-width="7.2"/>
</g>
<g fill="#ff0000" stroke="#ff0000" stroke-width="6" stroke-linejoin="round">
<path d="M1022.7,188 L1012.75,163.9 L1001,174 Z"/>
<path d="M1312,620.7 L1311.8,587.4 L1326.3,588.5 L1330,592.6 Z" stroke-width="5.6"/>
<path d="M673.9,894.6 L700.4,902.6 L690.9,915.4 Z"/>
</g>
<g fill="#fff"><path d="M1008.9,171.7 L1011.1,172 L1012.9,176 Z"/><path d="M1317,594.7 L1321.1,595.8 L1317.3,601.9 Z"/><path d="M688,904.5 L693,905.5 L692,909.5 Z"/></g>
<g transform="translate(0,0)">
<path d="M1081.2,131.4 L1169.7,131.4 L1157.7,142.8 L1157.7,210.2 L1226,352 Q1233,372 1226,390 Q1218,409.5 1196,409.5 L1048,409.5 Q1026,409.5 1018.5,390 Q1011.5,372 1019,352 L1093.1,210.2 L1093.1,142.8 Z" fill="#eaf0fa" stroke="#c9d0dc" stroke-width="1.6" stroke-linejoin="round"/>
<path d="M1089.5,132.2 L1096,132.2 L1104.2,141.5 L1104.2,212 L1066,318.3 L1044,318.6 L1098.8,210 L1098.8,142.5 Z" fill="#c4cbd6"/>
<path d="M1040,318.6 L1199.8,315.6 L1219,356 Q1225,374 1219,388 Q1212,404.6 1192,404.6 L1052,404.6 Q1032,404.6 1025,388 Q1019,374 1025,356 Z" fill="#e2b48b"/>
<path d="M1056,318.3 L1199.8,315.6 L1219,356 Q1225,374 1219,388 Q1212,401 1190,401 L1090,400 Q1052,398 1041,380 Q1034,366 1040,352 Z" fill="#fbd1a4"/>
<path d="M1040,318.6 L1199.8,315.6 L1219,356 Q1225,374 1219,388 Q1212,404.6 1192,404.6 L1052,404.6 Q1032,404.6 1025,388 Q1019,374 1025,356 Z" fill="none" stroke="#8a7a70" stroke-width="0.6" opacity="0.6"/>
<path d="M1148,132.5 L1153.5,132.5 L1145.2,143 L1145.2,208 L1199.5,322 L1216.5,358 Q1222.5,376 1215,392 Q1206,404.5 1171,404.5 Q1198,400 1206,388 Q1213,375 1208,360 L1192,326 L1139.6,212 L1139.6,143 Z" fill="#ffffff" opacity="0.95"/>
</g>
<g transform="translate(278,0)">
<path d="M1081.2,131.4 L1169.7,131.4 L1157.7,142.8 L1157.7,210.2 L1226,352 Q1233,372 1226,390 Q1218,409.5 1196,409.5 L1048,409.5 Q1026,409.5 1018.5,390 Q1011.5,372 1019,352 L1093.1,210.2 L1093.1,142.8 Z" fill="#eaf0fa" stroke="#c9d0dc" stroke-width="1.6" stroke-linejoin="round"/>
<path d="M1089.5,132.2 L1096,132.2 L1104.2,141.5 L1104.2,212 L1066,318.3 L1044,318.6 L1098.8,210 L1098.8,142.5 Z" fill="#c4cbd6"/>
<path d="M1040,318.6 L1199.8,315.6 L1219,356 Q1225,374 1219,388 Q1212,404.6 1192,404.6 L1052,404.6 Q1032,404.6 1025,388 Q1019,374 1025,356 Z" fill="#e2b48b"/>
<path d="M1056,318.3 L1199.8,315.6 L1219,356 Q1225,374 1219,388 Q1212,401 1190,401 L1090,400 Q1052,398 1041,380 Q1034,366 1040,352 Z" fill="#fbd1a4"/>
<path d="M1040,318.6 L1199.8,315.6 L1219,356 Q1225,374 1219,388 Q1212,404.6 1192,404.6 L1052,404.6 Q1032,404.6 1025,388 Q1019,374 1025,356 Z" fill="none" stroke="#8a7a70" stroke-width="0.6" opacity="0.6"/>
<path d="M1148,132.5 L1153.5,132.5 L1145.2,143 L1145.2,208 L1199.5,322 L1216.5,358 Q1222.5,376 1215,392 Q1206,404.5 1171,404.5 Q1198,400 1206,388 Q1213,375 1208,360 L1192,326 L1139.6,212 L1139.6,143 Z" fill="#ffffff" opacity="0.95"/>
</g>
<g font-weight="bold" font-size="14.8" fill="#111" stroke="none">
<g stroke="#222" stroke-width="1.2"><path d="M1113.2,259 V385.5 M1091.8,279.7 H1133.6 M1091.8,307.6 H1133.6 M1091.8,335.4 H1133.6 M1091.8,363.4 H1133.6"/></g>
<text x="1124.5" y="256.6" text-anchor="middle">CHO</text>
<text x="1090.4" y="284.7" text-anchor="end">H</text><text x="1135.2" y="284.7">OH</text>
<text x="1090.4" y="312.5" text-anchor="end">HO</text><text x="1135.2" y="312.5">H</text>
<text x="1090.4" y="340.3" text-anchor="end">H</text><text x="1135.2" y="340.3">OH</text>
<text x="1090.4" y="368.3" text-anchor="end">H</text><text x="1135.2" y="368.3">OH</text>
<text x="1107.6" y="396.6">CH<tspan font-size="10.5" dy="3.4">2</tspan><tspan dy="-3.4">OH</tspan></text>
<g stroke="#222" stroke-width="1.2"><path d="M1399.5,336.6 H1411 M1399.5,364.7 H1411 M1399.5,392.8 H1411 M1391.9,344.5 V355.5 M1391.9,372.5 V383.5"/></g>
<text x="1397" y="341.7" text-anchor="end">H<tspan font-size="10.5" dy="3.4">2</tspan><tspan dy="-3.4">C</tspan></text>
<text x="1413" y="341.7">OH</text>
<text x="1397" y="369.8" text-anchor="end">HC</text>
<text x="1413" y="369.8">OH</text>
<text x="1397" y="397.8" text-anchor="end">H<tspan font-size="10.5" dy="3.4">2</tspan><tspan dy="-3.4">C</tspan></text>
<text x="1413" y="397.8">OH</text>
</g>
<g fill="none" stroke="#333" stroke-width="1.1" stroke-linejoin="round">
<path d="M1333.3,676.7 L1351.4,667.1 L1369.4,676.7 L1387.5,667.1 L1405.6,676.7 L1423.7,667.1 L1441.8,676.7 L1459.9,667.1 L1478,676.7 L1496,666.9 L1496,645.6 L1515,637.5 L1515,617.4 L1537,607.4 L1537,588.3 L1558.4,578.2 L1558.4,558.1 L1578.5,549.5"/>
<path d="M1479.2,679.6 L1497.2,669.8"/>
<path d="M1332,676.7 V692 M1334.8,677.5 V692"/>
<path d="M1333.3,676.7 L1322.5,670.5"/>
<path d="M1478,676.7 V689 M1496,666.9 L1508,672.5"/>
</g>
<g font-weight="bold" font-size="14.6" fill="#111"><text x="1299" y="672">HO</text><text x="1327.6" y="703">O</text><text x="1472.8" y="703">H</text><text x="1509.5" y="683">H</text></g>
<g stroke="#000" stroke-width="1.5">
<rect x="1209" y="760" width="30.6" height="21" fill="#000" stroke="none"/>
<rect x="1195.6" y="628.4" width="53.4" height="133.6" rx="5" fill="#5f5f5f"/>
<rect x="1023.5" y="780.8" width="251.5" height="191.2" rx="11" fill="#fff"/>
<rect x="1035" y="756.8" width="107" height="74.6" rx="6" fill="#8d8d8d"/>
<rect x="1153.2" y="793.6" width="110.2" height="44.4" fill="#d5d5d5"/>
<rect x="1033.2" y="914.8" width="110.4" height="44.8" fill="#d5d5d5"/>
<rect x="1153.2" y="914.8" width="110.2" height="44.8" fill="#d5d5d5"/>
<rect x="1013.8" y="849" width="271" height="55" rx="3" fill="#0072ba" stroke="#0a2a5c" stroke-width="1.2"/>
</g>
<g fill="#1a1a1a">
<rect x="1327.1" y="770.2" width="223.6" height="150.9" rx="9"/>
<rect x="1336.1" y="779.5" width="205.5" height="109.8" fill="#fff"/>
<rect x="1416.2" y="901.4" width="45.1" height="9.7" rx="4.85" fill="#1a1a1a" stroke="#fff" stroke-width="2.8"/>
<path d="M1419.5,924.6 L1459.1,924.6 L1463.8,938.3 L1414,938.3 Z"/>
<path d="M1373.2,955.3 Q1381,943 1394,942.6 L1485,942.6 Q1497,943 1504,955.3 Z"/>
<path d="M1338,878.4 H1372.2 L1382.4,828 L1392.7,878.4 H1409.7 L1419.9,799.6 L1430.6,878.4 H1446.8 L1457.2,813.7 L1467.7,878.4 H1484 L1495.1,827.8 L1506,878 H1539.6" fill="none" stroke="#111" stroke-width="1.7" stroke-linejoin="miter"/>
</g>
<path d="M72.3,710.3 H102.7 M102.7,580.4 V840 M101,580.4 H232.6 M101,840 H231.4 M231.4,750 V905 M229.6,750 H260.2 M260.2,712.3 V789.4 M258.4,712.3 H390.8 M390.8,686 V736.6 M389,686 H640.4 M389,736.6 H572.2 M258.4,789.4 H440.3 M440.3,765 V814.5 M438.5,765 H543.8 M438.5,814.5 H543.8 M229.6,905 H263.8 M263.8,885.5 V922.5 M262,885.5 H498.3 M262,922.5 H404.2" fill="none" stroke="#0b2565" stroke-width="4.2"/>
<g font-weight="bold" fill="#000"><text x="333" y="600.9" font-size="32.7">Best Lipid Producer:</text><text x="350.5" y="641.2" font-size="32.6"><tspan font-style="italic">Rhodotorula</tspan> sp.</text></g>
</svg>
</body></html>
